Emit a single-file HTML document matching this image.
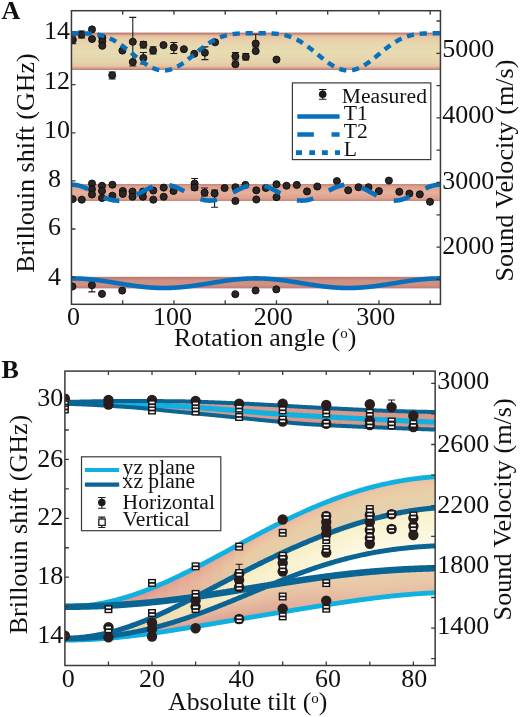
<!DOCTYPE html><html><head><meta charset="utf-8"><title>Brillouin figure</title>
<style>html,body{margin:0;padding:0;background:#fff;overflow:hidden}svg{display:block}text{font-family:"Liberation Serif","Times New Roman",serif;fill:#111}</style></head><body>
<svg width="520" height="717" viewBox="0 0 520 717">
<defs>
<linearGradient id="gAtop" x1="0" y1="0" x2="0" y2="1"><stop offset="0" stop-color="#b06e64"/><stop offset="0.04" stop-color="#c8907e"/><stop offset="0.09" stop-color="#e8c2a0"/><stop offset="0.25" stop-color="#e8d4ac"/><stop offset="0.5" stop-color="#e6dcb2"/><stop offset="0.78" stop-color="#e6d4ac"/><stop offset="0.9" stop-color="#e6c4a2"/><stop offset="0.96" stop-color="#cc9a8a"/><stop offset="1" stop-color="#b87a70"/></linearGradient>
<linearGradient id="gAmid" x1="0" y1="0" x2="0" y2="1"><stop offset="0" stop-color="#c88478"/><stop offset="0.15" stop-color="#dca08e"/><stop offset="0.5" stop-color="#e6b29c"/><stop offset="0.85" stop-color="#dca08e"/><stop offset="1" stop-color="#c88478"/></linearGradient>
<linearGradient id="gAbot" x1="0" y1="0" x2="0" y2="1"><stop offset="0" stop-color="#b8766c"/><stop offset="0.3" stop-color="#cf9082"/><stop offset="0.7" stop-color="#d09284"/><stop offset="1" stop-color="#bc7c72"/></linearGradient>
<linearGradient id="gB1" x1="0" y1="0" x2="0" y2="1"><stop offset="0" stop-color="#e6b496"/><stop offset="0.25" stop-color="#e4c0a0"/><stop offset="0.6" stop-color="#e6d0b0"/><stop offset="1" stop-color="#f4ecd4"/></linearGradient>
<linearGradient id="gB2" x1="0" y1="0" x2="0" y2="1"><stop offset="0" stop-color="#f8f0c6"/><stop offset="0.3" stop-color="#fbf6dc"/><stop offset="0.5" stop-color="#fdfcf2"/><stop offset="0.66" stop-color="#f2e6d0"/><stop offset="0.8" stop-color="#e6cfae"/><stop offset="1" stop-color="#dcae98"/></linearGradient>
<clipPath id="cA"><rect x="71.45" y="10.7" width="369" height="293.6"/></clipPath>
<clipPath id="cB"><rect x="64.9" y="371.1" width="370.25" height="294.4"/></clipPath>
</defs>
<g clip-path="url(#cA)">
<rect x="71.45" y="32.6" width="369" height="37.4" fill="url(#gAtop)"/>
<rect x="71.45" y="184.0" width="369" height="17.0" fill="url(#gAmid)"/>
<rect x="71.45" y="276.8" width="369" height="11.6" fill="url(#gAbot)"/>
<path d="M132.8,17.4V66M129.3,17.4h7M129.3,66h7" stroke="#1f1a1a" stroke-width="1.1" fill="none"/>
<path d="M112.2,72V79M108.7,72h7M108.7,79h7" stroke="#1f1a1a" stroke-width="1.1" fill="none"/>
<path d="M143.4,52.5V64M139.9,52.5h7M139.9,64h7" stroke="#1f1a1a" stroke-width="1.1" fill="none"/>
<path d="M173.8,42.5V53.5M170.3,42.5h7M170.3,53.5h7" stroke="#1f1a1a" stroke-width="1.1" fill="none"/>
<path d="M204.9,46.9V59.6M201.4,46.9h7M201.4,59.6h7" stroke="#1f1a1a" stroke-width="1.1" fill="none"/>
<path d="M235.4,52.5V60M231.9,52.5h7M231.9,60h7" stroke="#1f1a1a" stroke-width="1.1" fill="none"/>
<path d="M245.8,53.5V60M242.3,53.5h7M242.3,60h7" stroke="#1f1a1a" stroke-width="1.1" fill="none"/>
<path d="M255.7,34.2V47M252.2,34.2h7M252.2,47h7" stroke="#1f1a1a" stroke-width="1.1" fill="none"/>
<path d="M81.6,31V38M78.1,31h7M78.1,38h7" stroke="#1f1a1a" stroke-width="1.1" fill="none"/>
<path d="M194.6,178.5V190M191.1,178.5h7M191.1,190h7" stroke="#1f1a1a" stroke-width="1.1" fill="none"/>
<path d="M204.6,188V196M201.1,188h7M201.1,196h7" stroke="#1f1a1a" stroke-width="1.1" fill="none"/>
<path d="M214.6,190V207.2M211.1,190h7M211.1,207.2h7" stroke="#1f1a1a" stroke-width="1.1" fill="none"/>
<path d="M91.9,281V291.9M88.4,281h7M88.4,291.9h7" stroke="#1f1a1a" stroke-width="1.1" fill="none"/>
<path d="M143.4,41.5V48M139.9,41.5h7M139.9,48h7" stroke="#1f1a1a" stroke-width="1.1" fill="none"/>
<path d="M72.8,35.8V43.8M69.3,35.8h7M69.3,43.8h7" stroke="#1f1a1a" stroke-width="1.1" fill="none"/>
<path d="M153.1,46.8V54M149.6,46.8h7M149.6,54h7" stroke="#1f1a1a" stroke-width="1.1" fill="none"/>
<circle cx="72.8" cy="39.8" r="3.55" fill="#2a2626" stroke="#0c0a0a" stroke-width="0.9"/>
<circle cx="81.6" cy="34.6" r="3.55" fill="#2a2626" stroke="#0c0a0a" stroke-width="0.9"/>
<circle cx="92" cy="29.4" r="3.55" fill="#2a2626" stroke="#0c0a0a" stroke-width="0.9"/>
<circle cx="92" cy="39" r="3.55" fill="#2a2626" stroke="#0c0a0a" stroke-width="0.9"/>
<circle cx="102.3" cy="37.5" r="3.55" fill="#2a2626" stroke="#0c0a0a" stroke-width="0.9"/>
<circle cx="102.3" cy="41.5" r="3.55" fill="#2a2626" stroke="#0c0a0a" stroke-width="0.9"/>
<circle cx="102.3" cy="45.8" r="3.55" fill="#2a2626" stroke="#0c0a0a" stroke-width="0.9"/>
<circle cx="112.2" cy="75.3" r="3.55" fill="#2a2626" stroke="#0c0a0a" stroke-width="0.9"/>
<circle cx="122.4" cy="50.6" r="3.55" fill="#2a2626" stroke="#0c0a0a" stroke-width="0.9"/>
<circle cx="132.8" cy="41.8" r="3.55" fill="#2a2626" stroke="#0c0a0a" stroke-width="0.9"/>
<circle cx="132.8" cy="62" r="3.55" fill="#2a2626" stroke="#0c0a0a" stroke-width="0.9"/>
<circle cx="143.4" cy="44.6" r="3.55" fill="#2a2626" stroke="#0c0a0a" stroke-width="0.9"/>
<circle cx="143.4" cy="58" r="3.55" fill="#2a2626" stroke="#0c0a0a" stroke-width="0.9"/>
<circle cx="153.1" cy="50.4" r="3.55" fill="#2a2626" stroke="#0c0a0a" stroke-width="0.9"/>
<circle cx="163.5" cy="45.1" r="3.55" fill="#2a2626" stroke="#0c0a0a" stroke-width="0.9"/>
<circle cx="173.8" cy="47.4" r="3.55" fill="#2a2626" stroke="#0c0a0a" stroke-width="0.9"/>
<circle cx="183.9" cy="49.2" r="3.55" fill="#2a2626" stroke="#0c0a0a" stroke-width="0.9"/>
<circle cx="194.3" cy="53.8" r="3.55" fill="#2a2626" stroke="#0c0a0a" stroke-width="0.9"/>
<circle cx="204.9" cy="52.7" r="3.55" fill="#2a2626" stroke="#0c0a0a" stroke-width="0.9"/>
<circle cx="215.1" cy="42.3" r="3.55" fill="#2a2626" stroke="#0c0a0a" stroke-width="0.9"/>
<circle cx="235.4" cy="56.2" r="3.55" fill="#2a2626" stroke="#0c0a0a" stroke-width="0.9"/>
<circle cx="235.4" cy="64.2" r="3.55" fill="#2a2626" stroke="#0c0a0a" stroke-width="0.9"/>
<circle cx="245.8" cy="56.8" r="3.55" fill="#2a2626" stroke="#0c0a0a" stroke-width="0.9"/>
<circle cx="255.7" cy="43.5" r="3.55" fill="#2a2626" stroke="#0c0a0a" stroke-width="0.9"/>
<circle cx="255.7" cy="51.1" r="3.55" fill="#2a2626" stroke="#0c0a0a" stroke-width="0.9"/>
<circle cx="276.5" cy="59.6" r="3.55" fill="#2a2626" stroke="#0c0a0a" stroke-width="0.9"/>
<circle cx="72.6" cy="199.1" r="3.55" fill="#2a2626" stroke="#0c0a0a" stroke-width="0.9"/>
<circle cx="81.8" cy="199.7" r="3.55" fill="#2a2626" stroke="#0c0a0a" stroke-width="0.9"/>
<circle cx="92" cy="183.5" r="3.55" fill="#2a2626" stroke="#0c0a0a" stroke-width="0.9"/>
<circle cx="92" cy="189.3" r="3.55" fill="#2a2626" stroke="#0c0a0a" stroke-width="0.9"/>
<circle cx="92" cy="194.5" r="3.55" fill="#2a2626" stroke="#0c0a0a" stroke-width="0.9"/>
<circle cx="102" cy="185.8" r="3.55" fill="#2a2626" stroke="#0c0a0a" stroke-width="0.9"/>
<circle cx="102" cy="191" r="3.55" fill="#2a2626" stroke="#0c0a0a" stroke-width="0.9"/>
<circle cx="102" cy="198" r="3.55" fill="#2a2626" stroke="#0c0a0a" stroke-width="0.9"/>
<circle cx="112.4" cy="184.7" r="3.55" fill="#2a2626" stroke="#0c0a0a" stroke-width="0.9"/>
<circle cx="112.4" cy="195.7" r="3.55" fill="#2a2626" stroke="#0c0a0a" stroke-width="0.9"/>
<circle cx="122.8" cy="191" r="3.55" fill="#2a2626" stroke="#0c0a0a" stroke-width="0.9"/>
<circle cx="122.8" cy="193.9" r="3.55" fill="#2a2626" stroke="#0c0a0a" stroke-width="0.9"/>
<circle cx="132.5" cy="191.6" r="3.55" fill="#2a2626" stroke="#0c0a0a" stroke-width="0.9"/>
<circle cx="132.5" cy="196.8" r="3.55" fill="#2a2626" stroke="#0c0a0a" stroke-width="0.9"/>
<circle cx="142.9" cy="191.6" r="3.55" fill="#2a2626" stroke="#0c0a0a" stroke-width="0.9"/>
<circle cx="142.9" cy="196.8" r="3.55" fill="#2a2626" stroke="#0c0a0a" stroke-width="0.9"/>
<circle cx="153.3" cy="190.5" r="3.55" fill="#2a2626" stroke="#0c0a0a" stroke-width="0.9"/>
<circle cx="153.3" cy="199.7" r="3.55" fill="#2a2626" stroke="#0c0a0a" stroke-width="0.9"/>
<circle cx="163.7" cy="187.6" r="3.55" fill="#2a2626" stroke="#0c0a0a" stroke-width="0.9"/>
<circle cx="163.7" cy="196.8" r="3.55" fill="#2a2626" stroke="#0c0a0a" stroke-width="0.9"/>
<circle cx="173.5" cy="191" r="3.55" fill="#2a2626" stroke="#0c0a0a" stroke-width="0.9"/>
<circle cx="194.6" cy="183.5" r="3.55" fill="#2a2626" stroke="#0c0a0a" stroke-width="0.9"/>
<circle cx="194.6" cy="187.5" r="3.55" fill="#2a2626" stroke="#0c0a0a" stroke-width="0.9"/>
<circle cx="204.6" cy="192.6" r="3.55" fill="#2a2626" stroke="#0c0a0a" stroke-width="0.9"/>
<circle cx="214.6" cy="193.4" r="3.55" fill="#2a2626" stroke="#0c0a0a" stroke-width="0.9"/>
<circle cx="224.6" cy="188" r="3.55" fill="#2a2626" stroke="#0c0a0a" stroke-width="0.9"/>
<circle cx="235.4" cy="187.2" r="3.55" fill="#2a2626" stroke="#0c0a0a" stroke-width="0.9"/>
<circle cx="235.4" cy="201" r="3.55" fill="#2a2626" stroke="#0c0a0a" stroke-width="0.9"/>
<circle cx="245.4" cy="184.9" r="3.55" fill="#2a2626" stroke="#0c0a0a" stroke-width="0.9"/>
<circle cx="256.3" cy="190.3" r="3.55" fill="#2a2626" stroke="#0c0a0a" stroke-width="0.9"/>
<circle cx="256.3" cy="199.5" r="3.55" fill="#2a2626" stroke="#0c0a0a" stroke-width="0.9"/>
<circle cx="265.8" cy="188" r="3.55" fill="#2a2626" stroke="#0c0a0a" stroke-width="0.9"/>
<circle cx="276.5" cy="184.2" r="3.55" fill="#2a2626" stroke="#0c0a0a" stroke-width="0.9"/>
<circle cx="276.5" cy="197.2" r="3.55" fill="#2a2626" stroke="#0c0a0a" stroke-width="0.9"/>
<circle cx="286.5" cy="185.7" r="3.55" fill="#2a2626" stroke="#0c0a0a" stroke-width="0.9"/>
<circle cx="296.8" cy="184.9" r="3.55" fill="#2a2626" stroke="#0c0a0a" stroke-width="0.9"/>
<circle cx="307" cy="191.4" r="3.55" fill="#2a2626" stroke="#0c0a0a" stroke-width="0.9"/>
<circle cx="317.3" cy="186.5" r="3.55" fill="#2a2626" stroke="#0c0a0a" stroke-width="0.9"/>
<circle cx="336.9" cy="181.1" r="3.55" fill="#2a2626" stroke="#0c0a0a" stroke-width="0.9"/>
<circle cx="348.2" cy="190.3" r="3.55" fill="#2a2626" stroke="#0c0a0a" stroke-width="0.9"/>
<circle cx="358.5" cy="187.2" r="3.55" fill="#2a2626" stroke="#0c0a0a" stroke-width="0.9"/>
<circle cx="368.5" cy="187.2" r="3.55" fill="#2a2626" stroke="#0c0a0a" stroke-width="0.9"/>
<circle cx="378.9" cy="191.1" r="3.55" fill="#2a2626" stroke="#0c0a0a" stroke-width="0.9"/>
<circle cx="388.9" cy="180.6" r="3.55" fill="#2a2626" stroke="#0c0a0a" stroke-width="0.9"/>
<circle cx="399.3" cy="191.8" r="3.55" fill="#2a2626" stroke="#0c0a0a" stroke-width="0.9"/>
<circle cx="409.4" cy="193.6" r="3.55" fill="#2a2626" stroke="#0c0a0a" stroke-width="0.9"/>
<circle cx="419.8" cy="194.3" r="3.55" fill="#2a2626" stroke="#0c0a0a" stroke-width="0.9"/>
<circle cx="430" cy="201.8" r="3.55" fill="#2a2626" stroke="#0c0a0a" stroke-width="0.9"/>
<circle cx="72.4" cy="286.5" r="3.55" fill="#2a2626" stroke="#0c0a0a" stroke-width="0.9"/>
<circle cx="91.9" cy="285.2" r="3.55" fill="#2a2626" stroke="#0c0a0a" stroke-width="0.9"/>
<circle cx="102" cy="293.9" r="3.55" fill="#2a2626" stroke="#0c0a0a" stroke-width="0.9"/>
<circle cx="122.2" cy="290.6" r="3.55" fill="#2a2626" stroke="#0c0a0a" stroke-width="0.9"/>
<circle cx="235.3" cy="294.2" r="3.55" fill="#2a2626" stroke="#0c0a0a" stroke-width="0.9"/>
<circle cx="255.6" cy="290.5" r="3.55" fill="#2a2626" stroke="#0c0a0a" stroke-width="0.9"/>
<circle cx="276.3" cy="289.4" r="3.55" fill="#2a2626" stroke="#0c0a0a" stroke-width="0.9"/>
<path d="M71.45,33.30 L71.71,33.30 L71.96,33.30 L72.22,33.30 L72.48,33.30 L72.73,33.30 L72.99,33.30 L73.24,33.30 L73.50,33.30 L73.76,33.30 L74.01,33.30 L74.27,33.30 L74.53,33.30 L74.78,33.30 L75.04,33.30 L75.29,33.30 L75.55,33.30 L75.81,33.30 L76.06,33.30 L76.32,33.30 L76.58,33.30 L76.83,33.30 L77.09,33.30 L77.34,33.30 L77.60,33.30 L77.86,33.31 L78.11,33.31 L78.37,33.31 L78.62,33.31 L78.88,33.31 L79.14,33.31 L79.39,33.31 L79.65,33.31 L79.91,33.32 L80.16,33.32 L80.42,33.32 L80.67,33.32 L80.93,33.32 L81.19,33.33 L81.44,33.33 L81.70,33.33 L81.96,33.34 L82.21,33.34 L82.47,33.35 L82.73,33.35 L82.98,33.35 L83.24,33.36 L83.49,33.36 L83.75,33.37 L84.01,33.38 L84.26,33.38 L84.52,33.39 L84.78,33.40 L85.03,33.40 L85.29,33.41 L85.54,33.42 L85.80,33.43 L86.06,33.44 L86.31,33.45 L86.57,33.46 L86.83,33.47 L87.08,33.48 L87.34,33.49 L87.59,33.50 L87.85,33.51 L88.11,33.53 L88.36,33.54 L88.62,33.56 L88.88,33.57 L89.13,33.59 L89.39,33.60 L89.64,33.62 L89.90,33.64 L90.16,33.66 L90.41,33.68 L90.67,33.70 L90.93,33.72 L91.18,33.74 L91.44,33.76 L91.69,33.79 L91.95,33.81 L92.21,33.83 L92.46,33.86 L92.72,33.89 L92.97,33.91 L93.23,33.94 L93.49,33.97 L93.74,34.00 L94.00,34.03 L94.26,34.06 L94.51,34.10 L94.77,34.13 L95.03,34.17 L95.28,34.20 L95.54,34.24 L95.79,34.28 L96.05,34.32 L96.31,34.36 L96.56,34.40 L96.82,34.44 L97.08,34.49 L97.33,34.53 L97.59,34.58 L97.84,34.63 L98.10,34.67 L98.36,34.72 L98.61,34.77 L98.87,34.83 L99.12,34.88 L99.38,34.94 L99.64,34.99 L99.89,35.05 L100.15,35.11 L100.41,35.17 L100.66,35.23 L100.92,35.29 L101.18,35.36 L101.43,35.42 L101.69,35.49 L101.94,35.56 L102.20,35.62 L102.46,35.70 L102.71,35.77 L102.97,35.84 L103.22,35.92 L103.48,35.99 L103.74,36.07 L103.99,36.15 L104.25,36.23 L104.51,36.32 L104.76,36.40 L105.02,36.49 L105.28,36.57 L105.53,36.66 L105.79,36.75 L106.04,36.84 L106.30,36.94 L106.56,37.03 L106.81,37.13 L107.07,37.23 L107.33,37.33 L107.58,37.43 L107.84,37.53 L108.09,37.63 L108.35,37.74 L108.61,37.85 L108.86,37.96 L109.12,38.07 L109.38,38.18 L109.63,38.29 L109.89,38.41 L110.14,38.53 L110.40,38.64 L110.66,38.76 L110.91,38.89 L111.17,39.01 L111.43,39.13 L111.68,39.26 L111.94,39.39 L112.19,39.52 L112.45,39.65 L112.71,39.78 L112.96,39.92 L113.22,40.05 L113.47,40.19 L113.73,40.33 L113.99,40.47 L114.24,40.61 L114.50,40.76 L114.76,40.90 L115.01,41.05 L115.27,41.20 L115.53,41.35 L115.78,41.50 L116.04,41.65 L116.29,41.81 L116.55,41.96 L116.81,42.12 L117.06,42.28 L117.32,42.44 L117.58,42.60 L117.83,42.76 L118.09,42.93 L118.34,43.09 L118.60,43.26 L118.86,43.43 L119.11,43.60 L119.37,43.77 L119.62,43.94 L119.88,44.12 L120.14,44.29 L120.39,44.47 L120.65,44.65 L120.91,44.82 L121.16,45.00 L121.42,45.19 L121.68,45.37 L121.93,45.55 L122.19,45.74 L122.44,45.92 L122.70,46.11 L122.96,46.30 L123.21,46.49 L123.47,46.68 L123.72,46.87 L123.98,47.06 L124.24,47.25 L124.49,47.45 L124.75,47.64 L125.01,47.84 L125.26,48.04 L125.52,48.23 L125.78,48.43 L126.03,48.63 L126.29,48.83 L126.54,49.03 L126.80,49.24 L127.06,49.44 L127.31,49.64 L127.57,49.85 L127.83,50.05 L128.08,50.25 L128.34,50.46 L128.59,50.67 L128.85,50.87 L129.11,51.08 L129.36,51.29 L129.62,51.50 L129.88,51.70 L130.13,51.91 L130.39,52.12 L130.64,52.33 L130.90,52.54 L131.16,52.75 L131.41,52.96 L131.67,53.17 L131.93,53.38 L132.18,53.59 L132.44,53.80 L132.69,54.01 L132.95,54.22 L133.21,54.44 L133.46,54.65 L133.72,54.86 L133.97,55.07 L134.23,55.28 L134.49,55.49 L134.74,55.70 L135.00,55.91 L135.26,56.12 L135.51,56.33 L135.77,56.54 L136.03,56.75 L136.28,56.95 L136.54,57.16 L136.79,57.37 L137.05,57.58 L137.31,57.78 L137.56,57.99 L137.82,58.19 L138.07,58.40 L138.33,58.60 L138.59,58.81 L138.84,59.01 L139.10,59.21 L139.36,59.41 L139.61,59.61 L139.87,59.81 L140.12,60.01 L140.38,60.21 L140.64,60.40 L140.89,60.60 L141.15,60.79 L141.41,60.99 L141.66,61.18 L141.92,61.37 L142.18,61.56 L142.43,61.75 L142.69,61.93 L142.94,62.12 L143.20,62.31 L143.46,62.49 L143.71,62.67 L143.97,62.85 L144.23,63.03 L144.48,63.21 L144.74,63.39 L144.99,63.56 L145.25,63.73 L145.51,63.91 L145.76,64.08 L146.02,64.25 L146.28,64.41 L146.53,64.58 L146.79,64.74 L147.04,64.90 L147.30,65.06 L147.56,65.22 L147.81,65.38 L148.07,65.53 L148.32,65.68 L148.58,65.83 L148.84,65.98 L149.09,66.13 L149.35,66.27 L149.61,66.42 L149.86,66.56 L150.12,66.69 L150.38,66.83 L150.63,66.96 L150.89,67.10 L151.14,67.23 L151.40,67.35 L151.66,67.48 L151.91,67.60 L152.17,67.72 L152.43,67.84 L152.68,67.96 L152.94,68.07 L153.19,68.18 L153.45,68.29 L153.71,68.40 L153.96,68.50 L154.22,68.60 L154.48,68.70 L154.73,68.80 L154.99,68.89 L155.24,68.98 L155.50,69.07 L155.76,69.16 L156.01,69.24 L156.27,69.32 L156.53,69.40 L156.78,69.48 L157.04,69.55 L157.29,69.62 L157.55,69.69 L157.81,69.76 L158.06,69.82 L158.32,69.88 L158.57,69.94 L158.83,69.99 L159.09,70.04 L159.34,70.09 L159.60,70.14 L159.86,70.18 L160.11,70.22 L160.37,70.26 L160.62,70.30 L160.88,70.33 L161.14,70.36 L161.39,70.39 L161.65,70.41 L161.91,70.43 L162.16,70.45 L162.42,70.46 L162.68,70.48 L162.93,70.49 L163.19,70.49 L163.44,70.50 L163.70,70.50 L163.96,70.50 L164.21,70.49 L164.47,70.49 L164.73,70.48 L164.98,70.46 L165.24,70.45 L165.49,70.43 L165.75,70.41 L166.01,70.39 L166.26,70.36 L166.52,70.33 L166.78,70.30 L167.03,70.26 L167.29,70.22 L167.54,70.18 L167.80,70.14 L168.06,70.09 L168.31,70.04 L168.57,69.99 L168.82,69.94 L169.08,69.88 L169.34,69.82 L169.59,69.76 L169.85,69.69 L170.11,69.62 L170.36,69.55 L170.62,69.48 L170.88,69.40 L171.13,69.32 L171.39,69.24 L171.64,69.16 L171.90,69.07 L172.16,68.98 L172.41,68.89 L172.67,68.80 L172.93,68.70 L173.18,68.60 L173.44,68.50 L173.69,68.40 L173.95,68.29 L174.21,68.18 L174.46,68.07 L174.72,67.96 L174.98,67.84 L175.23,67.72 L175.49,67.60 L175.74,67.48 L176.00,67.35 L176.26,67.23 L176.51,67.10 L176.77,66.96 L177.03,66.83 L177.28,66.69 L177.54,66.56 L177.79,66.42 L178.05,66.27 L178.31,66.13 L178.56,65.98 L178.82,65.83 L179.07,65.68 L179.33,65.53 L179.59,65.38 L179.84,65.22 L180.10,65.06 L180.36,64.90 L180.61,64.74 L180.87,64.58 L181.12,64.41 L181.38,64.25 L181.64,64.08 L181.89,63.91 L182.15,63.73 L182.41,63.56 L182.66,63.39 L182.92,63.21 L183.18,63.03 L183.43,62.85 L183.69,62.67 L183.94,62.49 L184.20,62.31 L184.46,62.12 L184.71,61.93 L184.97,61.75 L185.23,61.56 L185.48,61.37 L185.74,61.18 L185.99,60.99 L186.25,60.79 L186.51,60.60 L186.76,60.40 L187.02,60.21 L187.28,60.01 L187.53,59.81 L187.79,59.61 L188.04,59.41 L188.30,59.21 L188.56,59.01 L188.81,58.81 L189.07,58.60 L189.32,58.40 L189.58,58.19 L189.84,57.99 L190.09,57.78 L190.35,57.58 L190.61,57.37 L190.86,57.16 L191.12,56.95 L191.38,56.75 L191.63,56.54 L191.89,56.33 L192.14,56.12 L192.40,55.91 L192.66,55.70 L192.91,55.49 L193.17,55.28 L193.43,55.07 L193.68,54.86 L193.94,54.65 L194.19,54.44 L194.45,54.23 L194.71,54.01 L194.96,53.80 L195.22,53.59 L195.48,53.38 L195.73,53.17 L195.99,52.96 L196.24,52.75 L196.50,52.54 L196.76,52.33 L197.01,52.12 L197.27,51.91 L197.53,51.70 L197.78,51.50 L198.04,51.29 L198.29,51.08 L198.55,50.87 L198.81,50.67 L199.06,50.46 L199.32,50.25 L199.57,50.05 L199.83,49.85 L200.09,49.64 L200.34,49.44 L200.60,49.24 L200.86,49.03 L201.11,48.83 L201.37,48.63 L201.62,48.43 L201.88,48.23 L202.14,48.04 L202.39,47.84 L202.65,47.64 L202.91,47.45 L203.16,47.25 L203.42,47.06 L203.68,46.87 L203.93,46.68 L204.19,46.49 L204.44,46.30 L204.70,46.11 L204.96,45.92 L205.21,45.74 L205.47,45.55 L205.73,45.37 L205.98,45.19 L206.24,45.00 L206.49,44.82 L206.75,44.65 L207.01,44.47 L207.26,44.29 L207.52,44.12 L207.77,43.94 L208.03,43.77 L208.29,43.60 L208.54,43.43 L208.80,43.26 L209.06,43.09 L209.31,42.93 L209.57,42.76 L209.82,42.60 L210.08,42.44 L210.34,42.28 L210.59,42.12 L210.85,41.96 L211.11,41.81 L211.36,41.65 L211.62,41.50 L211.88,41.35 L212.13,41.20 L212.39,41.05 L212.64,40.90 L212.90,40.76 L213.16,40.61 L213.41,40.47 L213.67,40.33 L213.93,40.19 L214.18,40.05 L214.44,39.92 L214.69,39.78 L214.95,39.65 L215.21,39.52 L215.46,39.39 L215.72,39.26 L215.98,39.13 L216.23,39.01 L216.49,38.89 L216.74,38.76 L217.00,38.64 L217.26,38.53 L217.51,38.41 L217.77,38.29 L218.02,38.18 L218.28,38.07 L218.54,37.96 L218.79,37.85 L219.05,37.74 L219.31,37.63 L219.56,37.53 L219.82,37.43 L220.07,37.33 L220.33,37.23 L220.59,37.13 L220.84,37.03 L221.10,36.94 L221.36,36.84 L221.61,36.75 L221.87,36.66 L222.12,36.57 L222.38,36.49 L222.64,36.40 L222.89,36.32 L223.15,36.23 L223.41,36.15 L223.66,36.07 L223.92,35.99 L224.18,35.92 L224.43,35.84 L224.69,35.77 L224.94,35.70 L225.20,35.62 L225.46,35.56 L225.71,35.49 L225.97,35.42 L226.23,35.36 L226.48,35.29 L226.74,35.23 L226.99,35.17 L227.25,35.11 L227.51,35.05 L227.76,34.99 L228.02,34.94 L228.27,34.88 L228.53,34.83 L228.79,34.77 L229.04,34.72 L229.30,34.67 L229.56,34.63 L229.81,34.58 L230.07,34.53 L230.32,34.49 L230.58,34.44 L230.84,34.40 L231.09,34.36 L231.35,34.32 L231.61,34.28 L231.86,34.24 L232.12,34.20 L232.38,34.17 L232.63,34.13 L232.89,34.10 L233.14,34.06 L233.40,34.03 L233.66,34.00 L233.91,33.97 L234.17,33.94 L234.43,33.91 L234.68,33.89 L234.94,33.86 L235.19,33.83 L235.45,33.81 L235.71,33.79 L235.96,33.76 L236.22,33.74 L236.48,33.72 L236.73,33.70 L236.99,33.68 L237.24,33.66 L237.50,33.64 L237.76,33.62 L238.01,33.60 L238.27,33.59 L238.52,33.57 L238.78,33.56 L239.04,33.54 L239.29,33.53 L239.55,33.51 L239.81,33.50 L240.06,33.49 L240.32,33.48 L240.57,33.47 L240.83,33.46 L241.09,33.45 L241.34,33.44 L241.60,33.43 L241.86,33.42 L242.11,33.41 L242.37,33.40 L242.62,33.40 L242.88,33.39 L243.14,33.38 L243.39,33.38 L243.65,33.37 L243.91,33.36 L244.16,33.36 L244.42,33.35 L244.68,33.35 L244.93,33.35 L245.19,33.34 L245.44,33.34 L245.70,33.33 L245.96,33.33 L246.21,33.33 L246.47,33.32 L246.73,33.32 L246.98,33.32 L247.24,33.32 L247.49,33.32 L247.75,33.31 L248.01,33.31 L248.26,33.31 L248.52,33.31 L248.77,33.31 L249.03,33.31 L249.29,33.31 L249.54,33.31 L249.80,33.30 L250.06,33.30 L250.31,33.30 L250.57,33.30 L250.82,33.30 L251.08,33.30 L251.34,33.30 L251.59,33.30 L251.85,33.30 L252.11,33.30 L252.36,33.30 L252.62,33.30 L252.88,33.30 L253.13,33.30 L253.39,33.30 L253.64,33.30 L253.90,33.30 L254.16,33.30 L254.41,33.30 L254.67,33.30 L254.93,33.30 L255.18,33.30 L255.44,33.30 L255.69,33.30 L255.95,33.30 L256.21,33.30 L256.46,33.30 L256.72,33.30 L256.98,33.30 L257.23,33.30 L257.49,33.30 L257.74,33.30 L258.00,33.30 L258.26,33.30 L258.51,33.30 L258.77,33.30 L259.02,33.30 L259.28,33.30 L259.54,33.30 L259.79,33.30 L260.05,33.30 L260.31,33.30 L260.56,33.30 L260.82,33.30 L261.07,33.30 L261.33,33.30 L261.59,33.30 L261.84,33.30 L262.10,33.30 L262.36,33.31 L262.61,33.31 L262.87,33.31 L263.12,33.31 L263.38,33.31 L263.64,33.31 L263.89,33.31 L264.15,33.31 L264.41,33.32 L264.66,33.32 L264.92,33.32 L265.18,33.32 L265.43,33.32 L265.69,33.33 L265.94,33.33 L266.20,33.33 L266.46,33.34 L266.71,33.34 L266.97,33.35 L267.23,33.35 L267.48,33.35 L267.74,33.36 L267.99,33.36 L268.25,33.37 L268.51,33.38 L268.76,33.38 L269.02,33.39 L269.27,33.40 L269.53,33.40 L269.79,33.41 L270.04,33.42 L270.30,33.43 L270.56,33.44 L270.81,33.45 L271.07,33.46 L271.32,33.47 L271.58,33.48 L271.84,33.49 L272.09,33.50 L272.35,33.51 L272.61,33.53 L272.86,33.54 L273.12,33.56 L273.38,33.57 L273.63,33.59 L273.89,33.60 L274.14,33.62 L274.40,33.64 L274.66,33.66 L274.91,33.68 L275.17,33.70 L275.43,33.72 L275.68,33.74 L275.94,33.76 L276.19,33.79 L276.45,33.81 L276.71,33.83 L276.96,33.86 L277.22,33.89 L277.48,33.91 L277.73,33.94 L277.99,33.97 L278.24,34.00 L278.50,34.03 L278.76,34.06 L279.01,34.10 L279.27,34.13 L279.52,34.17 L279.78,34.20 L280.04,34.24 L280.29,34.28 L280.55,34.32 L280.81,34.36 L281.06,34.40 L281.32,34.44 L281.57,34.49 L281.83,34.53 L282.09,34.58 L282.34,34.63 L282.60,34.67 L282.86,34.72 L283.11,34.77 L283.37,34.83 L283.62,34.88 L283.88,34.94 L284.14,34.99 L284.39,35.05 L284.65,35.11 L284.91,35.17 L285.16,35.23 L285.42,35.29 L285.68,35.36 L285.93,35.42 L286.19,35.49 L286.44,35.56 L286.70,35.62 L286.96,35.70 L287.21,35.77 L287.47,35.84 L287.73,35.92 L287.98,35.99 L288.24,36.07 L288.49,36.15 L288.75,36.23 L289.01,36.32 L289.26,36.40 L289.52,36.49 L289.77,36.57 L290.03,36.66 L290.29,36.75 L290.54,36.84 L290.80,36.94 L291.06,37.03 L291.31,37.13 L291.57,37.23 L291.82,37.33 L292.08,37.43 L292.34,37.53 L292.59,37.63 L292.85,37.74 L293.11,37.85 L293.36,37.96 L293.62,38.07 L293.88,38.18 L294.13,38.29 L294.39,38.41 L294.64,38.53 L294.90,38.64 L295.16,38.76 L295.41,38.89 L295.67,39.01 L295.93,39.13 L296.18,39.26 L296.44,39.39 L296.69,39.52 L296.95,39.65 L297.21,39.78 L297.46,39.92 L297.72,40.05 L297.98,40.19 L298.23,40.33 L298.49,40.47 L298.74,40.61 L299.00,40.76 L299.26,40.90 L299.51,41.05 L299.77,41.20 L300.02,41.35 L300.28,41.50 L300.54,41.65 L300.79,41.81 L301.05,41.96 L301.31,42.12 L301.56,42.28 L301.82,42.44 L302.07,42.60 L302.33,42.76 L302.59,42.93 L302.84,43.09 L303.10,43.26 L303.36,43.43 L303.61,43.60 L303.87,43.77 L304.12,43.94 L304.38,44.12 L304.64,44.29 L304.89,44.47 L305.15,44.65 L305.41,44.82 L305.66,45.00 L305.92,45.19 L306.18,45.37 L306.43,45.55 L306.69,45.74 L306.94,45.92 L307.20,46.11 L307.46,46.30 L307.71,46.49 L307.97,46.68 L308.23,46.87 L308.48,47.06 L308.74,47.25 L308.99,47.45 L309.25,47.64 L309.51,47.84 L309.76,48.04 L310.02,48.23 L310.27,48.43 L310.53,48.63 L310.79,48.83 L311.04,49.03 L311.30,49.24 L311.56,49.44 L311.81,49.64 L312.07,49.85 L312.32,50.05 L312.58,50.25 L312.84,50.46 L313.09,50.67 L313.35,50.87 L313.61,51.08 L313.86,51.29 L314.12,51.50 L314.38,51.70 L314.63,51.91 L314.89,52.12 L315.14,52.33 L315.40,52.54 L315.66,52.75 L315.91,52.96 L316.17,53.17 L316.43,53.38 L316.68,53.59 L316.94,53.80 L317.19,54.01 L317.45,54.22 L317.71,54.44 L317.96,54.65 L318.22,54.86 L318.48,55.07 L318.73,55.28 L318.99,55.49 L319.24,55.70 L319.50,55.91 L319.76,56.12 L320.01,56.33 L320.27,56.54 L320.52,56.75 L320.78,56.95 L321.04,57.16 L321.29,57.37 L321.55,57.58 L321.81,57.78 L322.06,57.99 L322.32,58.19 L322.57,58.40 L322.83,58.60 L323.09,58.81 L323.34,59.01 L323.60,59.21 L323.86,59.41 L324.11,59.61 L324.37,59.81 L324.62,60.01 L324.88,60.21 L325.14,60.40 L325.39,60.60 L325.65,60.79 L325.91,60.99 L326.16,61.18 L326.42,61.37 L326.68,61.56 L326.93,61.75 L327.19,61.93 L327.44,62.12 L327.70,62.31 L327.96,62.49 L328.21,62.67 L328.47,62.85 L328.72,63.03 L328.98,63.21 L329.24,63.39 L329.49,63.56 L329.75,63.73 L330.01,63.91 L330.26,64.08 L330.52,64.25 L330.77,64.41 L331.03,64.58 L331.29,64.74 L331.54,64.90 L331.80,65.06 L332.06,65.22 L332.31,65.38 L332.57,65.53 L332.82,65.68 L333.08,65.83 L333.34,65.98 L333.59,66.13 L333.85,66.27 L334.11,66.42 L334.36,66.56 L334.62,66.69 L334.88,66.83 L335.13,66.96 L335.39,67.10 L335.64,67.23 L335.90,67.35 L336.16,67.48 L336.41,67.60 L336.67,67.72 L336.93,67.84 L337.18,67.96 L337.44,68.07 L337.69,68.18 L337.95,68.29 L338.21,68.40 L338.46,68.50 L338.72,68.60 L338.97,68.70 L339.23,68.80 L339.49,68.89 L339.74,68.98 L340.00,69.07 L340.26,69.16 L340.51,69.24 L340.77,69.32 L341.02,69.40 L341.28,69.48 L341.54,69.55 L341.79,69.62 L342.05,69.69 L342.31,69.76 L342.56,69.82 L342.82,69.88 L343.07,69.94 L343.33,69.99 L343.59,70.04 L343.84,70.09 L344.10,70.14 L344.36,70.18 L344.61,70.22 L344.87,70.26 L345.12,70.30 L345.38,70.33 L345.64,70.36 L345.89,70.39 L346.15,70.41 L346.41,70.43 L346.66,70.45 L346.92,70.46 L347.18,70.48 L347.43,70.49 L347.69,70.49 L347.94,70.50 L348.20,70.50 L348.46,70.50 L348.71,70.49 L348.97,70.49 L349.22,70.48 L349.48,70.46 L349.74,70.45 L349.99,70.43 L350.25,70.41 L350.51,70.39 L350.76,70.36 L351.02,70.33 L351.27,70.30 L351.53,70.26 L351.79,70.22 L352.04,70.18 L352.30,70.14 L352.56,70.09 L352.81,70.04 L353.07,69.99 L353.32,69.94 L353.58,69.88 L353.84,69.82 L354.09,69.76 L354.35,69.69 L354.61,69.62 L354.86,69.55 L355.12,69.48 L355.38,69.40 L355.63,69.32 L355.89,69.24 L356.14,69.16 L356.40,69.07 L356.66,68.98 L356.91,68.89 L357.17,68.80 L357.43,68.70 L357.68,68.60 L357.94,68.50 L358.19,68.40 L358.45,68.29 L358.71,68.18 L358.96,68.07 L359.22,67.96 L359.47,67.84 L359.73,67.72 L359.99,67.60 L360.24,67.48 L360.50,67.35 L360.76,67.23 L361.01,67.10 L361.27,66.96 L361.52,66.83 L361.78,66.69 L362.04,66.56 L362.29,66.42 L362.55,66.27 L362.81,66.13 L363.06,65.98 L363.32,65.83 L363.57,65.68 L363.83,65.53 L364.09,65.38 L364.34,65.22 L364.60,65.06 L364.86,64.90 L365.11,64.74 L365.37,64.58 L365.62,64.41 L365.88,64.25 L366.14,64.08 L366.39,63.91 L366.65,63.73 L366.91,63.56 L367.16,63.39 L367.42,63.21 L367.68,63.03 L367.93,62.85 L368.19,62.67 L368.44,62.49 L368.70,62.31 L368.96,62.12 L369.21,61.93 L369.47,61.75 L369.72,61.56 L369.98,61.37 L370.24,61.18 L370.49,60.99 L370.75,60.79 L371.01,60.60 L371.26,60.40 L371.52,60.21 L371.77,60.01 L372.03,59.81 L372.29,59.61 L372.54,59.41 L372.80,59.21 L373.06,59.01 L373.31,58.81 L373.57,58.60 L373.82,58.40 L374.08,58.19 L374.34,57.99 L374.59,57.78 L374.85,57.58 L375.11,57.37 L375.36,57.16 L375.62,56.95 L375.88,56.75 L376.13,56.54 L376.39,56.33 L376.64,56.12 L376.90,55.91 L377.16,55.70 L377.41,55.49 L377.67,55.28 L377.93,55.07 L378.18,54.86 L378.44,54.65 L378.69,54.44 L378.95,54.22 L379.21,54.01 L379.46,53.80 L379.72,53.59 L379.97,53.38 L380.23,53.17 L380.49,52.96 L380.74,52.75 L381.00,52.54 L381.26,52.33 L381.51,52.12 L381.77,51.91 L382.02,51.70 L382.28,51.50 L382.54,51.29 L382.79,51.08 L383.05,50.87 L383.31,50.67 L383.56,50.46 L383.82,50.25 L384.07,50.05 L384.33,49.85 L384.59,49.64 L384.84,49.44 L385.10,49.24 L385.36,49.03 L385.61,48.83 L385.87,48.63 L386.12,48.43 L386.38,48.23 L386.64,48.04 L386.89,47.84 L387.15,47.64 L387.41,47.45 L387.66,47.25 L387.92,47.06 L388.18,46.87 L388.43,46.68 L388.69,46.49 L388.94,46.30 L389.20,46.11 L389.46,45.92 L389.71,45.74 L389.97,45.55 L390.22,45.37 L390.48,45.19 L390.74,45.00 L390.99,44.82 L391.25,44.65 L391.51,44.47 L391.76,44.29 L392.02,44.12 L392.27,43.94 L392.53,43.77 L392.79,43.60 L393.04,43.43 L393.30,43.26 L393.56,43.09 L393.81,42.93 L394.07,42.76 L394.32,42.60 L394.58,42.44 L394.84,42.28 L395.09,42.12 L395.35,41.96 L395.61,41.81 L395.86,41.65 L396.12,41.50 L396.38,41.35 L396.63,41.20 L396.89,41.05 L397.14,40.90 L397.40,40.76 L397.66,40.61 L397.91,40.47 L398.17,40.33 L398.43,40.19 L398.68,40.05 L398.94,39.92 L399.19,39.78 L399.45,39.65 L399.71,39.52 L399.96,39.39 L400.22,39.26 L400.47,39.13 L400.73,39.01 L400.99,38.89 L401.24,38.76 L401.50,38.64 L401.76,38.53 L402.01,38.41 L402.27,38.29 L402.52,38.18 L402.78,38.07 L403.04,37.96 L403.29,37.85 L403.55,37.74 L403.81,37.63 L404.06,37.53 L404.32,37.43 L404.57,37.33 L404.83,37.23 L405.09,37.13 L405.34,37.03 L405.60,36.94 L405.86,36.84 L406.11,36.75 L406.37,36.66 L406.62,36.57 L406.88,36.49 L407.14,36.40 L407.39,36.32 L407.65,36.23 L407.91,36.15 L408.16,36.07 L408.42,35.99 L408.68,35.92 L408.93,35.84 L409.19,35.77 L409.44,35.70 L409.70,35.63 L409.96,35.56 L410.21,35.49 L410.47,35.42 L410.72,35.36 L410.98,35.29 L411.24,35.23 L411.49,35.17 L411.75,35.11 L412.01,35.05 L412.26,34.99 L412.52,34.94 L412.77,34.88 L413.03,34.83 L413.29,34.77 L413.54,34.72 L413.80,34.67 L414.06,34.63 L414.31,34.58 L414.57,34.53 L414.82,34.49 L415.08,34.44 L415.34,34.40 L415.59,34.36 L415.85,34.32 L416.11,34.28 L416.36,34.24 L416.62,34.20 L416.88,34.17 L417.13,34.13 L417.39,34.10 L417.64,34.06 L417.90,34.03 L418.16,34.00 L418.41,33.97 L418.67,33.94 L418.93,33.91 L419.18,33.89 L419.44,33.86 L419.69,33.83 L419.95,33.81 L420.21,33.79 L420.46,33.76 L420.72,33.74 L420.97,33.72 L421.23,33.70 L421.49,33.68 L421.74,33.66 L422.00,33.64 L422.26,33.62 L422.51,33.60 L422.77,33.59 L423.02,33.57 L423.28,33.56 L423.54,33.54 L423.79,33.53 L424.05,33.51 L424.31,33.50 L424.56,33.49 L424.82,33.48 L425.07,33.47 L425.33,33.46 L425.59,33.45 L425.84,33.44 L426.10,33.43 L426.36,33.42 L426.61,33.41 L426.87,33.40 L427.12,33.40 L427.38,33.39 L427.64,33.38 L427.89,33.38 L428.15,33.37 L428.41,33.36 L428.66,33.36 L428.92,33.35 L429.18,33.35 L429.43,33.35 L429.69,33.34 L429.94,33.34 L430.20,33.33 L430.46,33.33 L430.71,33.33 L430.97,33.32 L431.22,33.32 L431.48,33.32 L431.74,33.32 L431.99,33.32 L432.25,33.31 L432.51,33.31 L432.76,33.31 L433.02,33.31 L433.27,33.31 L433.53,33.31 L433.79,33.31 L434.04,33.31 L434.30,33.30 L434.56,33.30 L434.81,33.30 L435.07,33.30 L435.32,33.30 L435.58,33.30 L435.84,33.30 L436.09,33.30 L436.35,33.30 L436.61,33.30 L436.86,33.30 L437.12,33.30 L437.38,33.30 L437.63,33.30 L437.89,33.30 L438.14,33.30 L438.40,33.30 L438.66,33.30 L438.91,33.30 L439.17,33.30 L439.43,33.30 L439.68,33.30 L439.94,33.30 L440.19,33.30 L440.45,33.30" fill="none" stroke="#0870bd" stroke-width="4.4" stroke-dasharray="7.2 5.8"/>
<path d="M72.00,184.61 L72.70,184.63 L73.41,184.67 L74.11,184.73 L74.82,184.81 L75.52,184.91 L76.23,185.02 L76.93,185.15 L77.63,185.30 L78.34,185.46 L79.04,185.65 L79.75,185.84 L80.45,186.06 L81.16,186.29 L81.86,186.53 L82.57,186.79 L83.27,187.06 L83.97,187.34 L84.68,187.63 L85.38,187.94 L86.09,188.26 L86.79,188.58 L87.50,188.92 L88.20,189.27 M103.80,197.33 L104.47,197.62 L105.15,197.90 L105.82,198.17 L106.50,198.43 L107.17,198.67 L107.84,198.91 L108.52,199.13 L109.19,199.33 L109.87,199.52 L110.54,199.70 L111.21,199.86 L111.89,200.01 L112.56,200.14 L113.23,200.25 L113.91,200.35 L114.58,200.43 L115.26,200.50 L115.93,200.55 L116.60,200.58 L117.28,200.60 L117.95,200.60 L118.63,200.58 L119.30,200.54 M136.50,194.82 L137.20,194.45 L137.91,194.08 L138.61,193.70 L139.32,193.32 L140.02,192.94 L140.73,192.55 L141.43,192.17 L142.13,191.79 L142.84,191.40 L143.54,191.03 L144.25,190.65 L144.95,190.28 L145.66,189.92 L146.36,189.56 L147.07,189.21 L147.77,188.86 L148.47,188.53 L149.18,188.20 L149.88,187.89 L150.59,187.58 L151.29,187.29 L152.00,187.01 L152.70,186.74 M169.40,185.20 L170.05,185.34 L170.70,185.49 L171.34,185.66 L171.99,185.84 L172.64,186.04 L173.29,186.25 L173.93,186.47 L174.58,186.70 L175.23,186.94 L175.88,187.20 L176.53,187.46 L177.17,187.74 L177.82,188.02 L178.47,188.32 L179.12,188.62 L179.77,188.93 L180.41,189.25 L181.06,189.57 L181.71,189.90 L182.36,190.24 L183.00,190.57 L183.65,190.92 L184.30,191.26 M200.50,199.04 L201.21,199.26 L201.93,199.47 L202.64,199.66 L203.35,199.84 L204.07,199.99 L204.78,200.13 L205.49,200.25 L206.20,200.36 L206.92,200.44 L207.63,200.51 L208.34,200.56 L209.06,200.59 L209.77,200.60 L210.48,200.59 L211.20,200.57 L211.91,200.52 L212.62,200.46 L213.33,200.37 L214.05,200.27 L214.76,200.15 L215.47,200.02 L216.19,199.86 L216.90,199.69 M233.00,192.54 L233.68,192.17 L234.37,191.80 L235.05,191.43 L235.73,191.06 L236.41,190.70 L237.10,190.34 L237.78,189.98 L238.46,189.64 L239.14,189.29 L239.83,188.96 L240.51,188.63 L241.19,188.31 L241.87,188.00 L242.56,187.70 L243.24,187.42 L243.92,187.14 L244.60,186.87 L245.29,186.62 L245.97,186.38 L246.65,186.15 L247.33,185.94 L248.02,185.74 L248.70,185.56 M264.50,185.92 L265.19,186.13 L265.88,186.36 L266.57,186.60 L267.27,186.86 L267.96,187.13 L268.65,187.41 L269.34,187.70 L270.03,188.01 L270.72,188.32 L271.41,188.64 L272.10,188.97 L272.80,189.31 L273.49,189.66 L274.18,190.01 L274.87,190.37 L275.56,190.74 L276.25,191.10 L276.94,191.48 L277.63,191.85 L278.33,192.23 L279.02,192.60 L279.71,192.98 L280.40,193.35 M297.00,200.13 L297.70,200.25 L298.41,200.35 L299.11,200.44 L299.82,200.51 L300.52,200.56 L301.23,200.59 L301.93,200.60 L302.63,200.59 L303.34,200.57 L304.04,200.53 L304.75,200.47 L305.45,200.39 L306.16,200.29 L306.86,200.18 L307.57,200.05 L308.27,199.90 L308.97,199.73 L309.68,199.55 L310.38,199.35 L311.09,199.14 L311.79,198.91 L312.50,198.67 L313.20,198.41 M328.80,190.62 L329.47,190.27 L330.15,189.92 L330.82,189.58 L331.50,189.24 L332.17,188.91 L332.84,188.59 L333.52,188.28 L334.19,187.97 L334.87,187.68 L335.54,187.39 L336.21,187.12 L336.89,186.86 L337.56,186.61 L338.23,186.37 L338.91,186.15 L339.58,185.94 L340.26,185.74 L340.93,185.56 L341.60,185.39 L342.28,185.24 L342.95,185.11 L343.63,184.99 L344.30,184.88 M361.50,187.66 L362.17,187.95 L362.83,188.25 L363.50,188.56 L364.16,188.88 L364.83,189.20 L365.49,189.54 L366.16,189.87 L366.82,190.22 L367.49,190.57 L368.15,190.92 L368.82,191.27 L369.48,191.63 L370.15,191.99 L370.81,192.36 L371.48,192.72 L372.14,193.08 L372.81,193.44 L373.47,193.80 L374.14,194.16 L374.80,194.51 L375.47,194.86 L376.13,195.21 L376.80,195.55 M393.80,200.59 L394.48,200.60 L395.16,200.59 L395.83,200.56 L396.51,200.51 L397.19,200.45 L397.87,200.37 L398.55,200.27 L399.23,200.16 L399.90,200.03 L400.58,199.88 L401.26,199.72 L401.94,199.55 L402.62,199.36 L403.30,199.15 L403.97,198.93 L404.65,198.70 L405.33,198.46 L406.01,198.20 L406.69,197.93 L407.37,197.65 L408.04,197.35 L408.72,197.05 L409.40,196.74 M425.50,188.40 L426.17,188.09 L426.85,187.79 L427.52,187.51 L428.20,187.23 L428.87,186.96 L429.54,186.71 L430.22,186.47 L430.89,186.24 L431.57,186.02 L432.24,185.82 L432.91,185.63 L433.59,185.46 L434.26,185.30 L434.93,185.16 L435.61,185.03 L436.28,184.92 L436.96,184.83 L437.63,184.75 L438.30,184.69 L438.98,184.64 L439.65,184.61 L440.33,184.60 L441.00,184.61 " fill="none" stroke="#0870bd" stroke-width="4.6"/>
<path d="M71.45,278.40 L71.71,278.40 L71.96,278.40 L72.22,278.40 L72.48,278.40 L72.73,278.40 L72.99,278.41 L73.24,278.41 L73.50,278.41 L73.76,278.41 L74.01,278.42 L74.27,278.42 L74.53,278.43 L74.78,278.43 L75.04,278.44 L75.29,278.44 L75.55,278.45 L75.81,278.45 L76.06,278.46 L76.32,278.47 L76.58,278.47 L76.83,278.48 L77.09,278.49 L77.34,278.50 L77.60,278.50 L77.86,278.51 L78.11,278.52 L78.37,278.53 L78.62,278.54 L78.88,278.55 L79.14,278.56 L79.39,278.57 L79.65,278.59 L79.91,278.60 L80.16,278.61 L80.42,278.62 L80.67,278.63 L80.93,278.65 L81.19,278.66 L81.44,278.68 L81.70,278.69 L81.96,278.70 L82.21,278.72 L82.47,278.73 L82.73,278.75 L82.98,278.77 L83.24,278.78 L83.49,278.80 L83.75,278.81 L84.01,278.83 L84.26,278.85 L84.52,278.87 L84.78,278.89 L85.03,278.90 L85.29,278.92 L85.54,278.94 L85.80,278.96 L86.06,278.98 L86.31,279.00 L86.57,279.02 L86.83,279.04 L87.08,279.06 L87.34,279.09 L87.59,279.11 L87.85,279.13 L88.11,279.15 L88.36,279.17 L88.62,279.20 L88.88,279.22 L89.13,279.24 L89.39,279.27 L89.64,279.29 L89.90,279.32 L90.16,279.34 L90.41,279.37 L90.67,279.39 L90.93,279.42 L91.18,279.44 L91.44,279.47 L91.69,279.50 L91.95,279.52 L92.21,279.55 L92.46,279.58 L92.72,279.61 L92.97,279.63 L93.23,279.66 L93.49,279.69 L93.74,279.72 L94.00,279.75 L94.26,279.78 L94.51,279.81 L94.77,279.84 L95.03,279.87 L95.28,279.90 L95.54,279.93 L95.79,279.96 L96.05,279.99 L96.31,280.02 L96.56,280.05 L96.82,280.08 L97.08,280.11 L97.33,280.15 L97.59,280.18 L97.84,280.21 L98.10,280.24 L98.36,280.28 L98.61,280.31 L98.87,280.34 L99.12,280.38 L99.38,280.41 L99.64,280.45 L99.89,280.48 L100.15,280.52 L100.41,280.55 L100.66,280.59 L100.92,280.62 L101.18,280.66 L101.43,280.69 L101.69,280.73 L101.94,280.76 L102.20,280.80 L102.46,280.84 L102.71,280.87 L102.97,280.91 L103.22,280.95 L103.48,280.98 L103.74,281.02 L103.99,281.06 L104.25,281.10 L104.51,281.13 L104.76,281.17 L105.02,281.21 L105.28,281.25 L105.53,281.29 L105.79,281.32 L106.04,281.36 L106.30,281.40 L106.56,281.44 L106.81,281.48 L107.07,281.52 L107.33,281.56 L107.58,281.60 L107.84,281.64 L108.09,281.68 L108.35,281.72 L108.61,281.76 L108.86,281.80 L109.12,281.84 L109.38,281.88 L109.63,281.92 L109.89,281.96 L110.14,282.00 L110.40,282.04 L110.66,282.08 L110.91,282.12 L111.17,282.16 L111.43,282.20 L111.68,282.24 L111.94,282.28 L112.19,282.33 L112.45,282.37 L112.71,282.41 L112.96,282.45 L113.22,282.49 L113.47,282.53 L113.73,282.57 L113.99,282.62 L114.24,282.66 L114.50,282.70 L114.76,282.74 L115.01,282.78 L115.27,282.82 L115.53,282.87 L115.78,282.91 L116.04,282.95 L116.29,282.99 L116.55,283.03 L116.81,283.07 L117.06,283.12 L117.32,283.16 L117.58,283.20 L117.83,283.24 L118.09,283.28 L118.34,283.33 L118.60,283.37 L118.86,283.41 L119.11,283.45 L119.37,283.49 L119.62,283.53 L119.88,283.58 L120.14,283.62 L120.39,283.66 L120.65,283.70 L120.91,283.74 L121.16,283.78 L121.42,283.83 L121.68,283.87 L121.93,283.91 L122.19,283.95 L122.44,283.99 L122.70,284.03 L122.96,284.07 L123.21,284.12 L123.47,284.16 L123.72,284.20 L123.98,284.24 L124.24,284.28 L124.49,284.32 L124.75,284.36 L125.01,284.40 L125.26,284.44 L125.52,284.48 L125.78,284.52 L126.03,284.56 L126.29,284.60 L126.54,284.64 L126.80,284.68 L127.06,284.72 L127.31,284.76 L127.57,284.80 L127.83,284.84 L128.08,284.88 L128.34,284.92 L128.59,284.96 L128.85,285.00 L129.11,285.04 L129.36,285.08 L129.62,285.11 L129.88,285.15 L130.13,285.19 L130.39,285.23 L130.64,285.27 L130.90,285.30 L131.16,285.34 L131.41,285.38 L131.67,285.42 L131.93,285.45 L132.18,285.49 L132.44,285.53 L132.69,285.56 L132.95,285.60 L133.21,285.64 L133.46,285.67 L133.72,285.71 L133.97,285.74 L134.23,285.78 L134.49,285.81 L134.74,285.85 L135.00,285.88 L135.26,285.92 L135.51,285.95 L135.77,285.99 L136.03,286.02 L136.28,286.06 L136.54,286.09 L136.79,286.12 L137.05,286.16 L137.31,286.19 L137.56,286.22 L137.82,286.25 L138.07,286.29 L138.33,286.32 L138.59,286.35 L138.84,286.38 L139.10,286.41 L139.36,286.44 L139.61,286.47 L139.87,286.50 L140.12,286.53 L140.38,286.56 L140.64,286.59 L140.89,286.62 L141.15,286.65 L141.41,286.68 L141.66,286.71 L141.92,286.74 L142.18,286.77 L142.43,286.79 L142.69,286.82 L142.94,286.85 L143.20,286.88 L143.46,286.90 L143.71,286.93 L143.97,286.96 L144.23,286.98 L144.48,287.01 L144.74,287.03 L144.99,287.06 L145.25,287.08 L145.51,287.11 L145.76,287.13 L146.02,287.16 L146.28,287.18 L146.53,287.20 L146.79,287.23 L147.04,287.25 L147.30,287.27 L147.56,287.29 L147.81,287.31 L148.07,287.34 L148.32,287.36 L148.58,287.38 L148.84,287.40 L149.09,287.42 L149.35,287.44 L149.61,287.46 L149.86,287.48 L150.12,287.50 L150.38,287.51 L150.63,287.53 L150.89,287.55 L151.14,287.57 L151.40,287.59 L151.66,287.60 L151.91,287.62 L152.17,287.63 L152.43,287.65 L152.68,287.67 L152.94,287.68 L153.19,287.70 L153.45,287.71 L153.71,287.72 L153.96,287.74 L154.22,287.75 L154.48,287.77 L154.73,287.78 L154.99,287.79 L155.24,287.80 L155.50,287.81 L155.76,287.83 L156.01,287.84 L156.27,287.85 L156.53,287.86 L156.78,287.87 L157.04,287.88 L157.29,287.89 L157.55,287.90 L157.81,287.90 L158.06,287.91 L158.32,287.92 L158.57,287.93 L158.83,287.93 L159.09,287.94 L159.34,287.95 L159.60,287.95 L159.86,287.96 L160.11,287.96 L160.37,287.97 L160.62,287.97 L160.88,287.98 L161.14,287.98 L161.39,287.99 L161.65,287.99 L161.91,287.99 L162.16,287.99 L162.42,288.00 L162.68,288.00 L162.93,288.00 L163.19,288.00 L163.44,288.00 L163.70,288.00 L163.96,288.00 L164.21,288.00 L164.47,288.00 L164.73,288.00 L164.98,288.00 L165.24,287.99 L165.49,287.99 L165.75,287.99 L166.01,287.99 L166.26,287.98 L166.52,287.98 L166.78,287.97 L167.03,287.97 L167.29,287.96 L167.54,287.96 L167.80,287.95 L168.06,287.95 L168.31,287.94 L168.57,287.93 L168.82,287.93 L169.08,287.92 L169.34,287.91 L169.59,287.90 L169.85,287.90 L170.11,287.89 L170.36,287.88 L170.62,287.87 L170.88,287.86 L171.13,287.85 L171.39,287.84 L171.64,287.83 L171.90,287.81 L172.16,287.80 L172.41,287.79 L172.67,287.78 L172.93,287.77 L173.18,287.75 L173.44,287.74 L173.69,287.72 L173.95,287.71 L174.21,287.70 L174.46,287.68 L174.72,287.67 L174.98,287.65 L175.23,287.63 L175.49,287.62 L175.74,287.60 L176.00,287.59 L176.26,287.57 L176.51,287.55 L176.77,287.53 L177.03,287.51 L177.28,287.50 L177.54,287.48 L177.79,287.46 L178.05,287.44 L178.31,287.42 L178.56,287.40 L178.82,287.38 L179.07,287.36 L179.33,287.34 L179.59,287.31 L179.84,287.29 L180.10,287.27 L180.36,287.25 L180.61,287.23 L180.87,287.20 L181.12,287.18 L181.38,287.16 L181.64,287.13 L181.89,287.11 L182.15,287.08 L182.41,287.06 L182.66,287.03 L182.92,287.01 L183.18,286.98 L183.43,286.96 L183.69,286.93 L183.94,286.90 L184.20,286.88 L184.46,286.85 L184.71,286.82 L184.97,286.79 L185.23,286.77 L185.48,286.74 L185.74,286.71 L185.99,286.68 L186.25,286.65 L186.51,286.62 L186.76,286.59 L187.02,286.56 L187.28,286.53 L187.53,286.50 L187.79,286.47 L188.04,286.44 L188.30,286.41 L188.56,286.38 L188.81,286.35 L189.07,286.32 L189.32,286.29 L189.58,286.25 L189.84,286.22 L190.09,286.19 L190.35,286.16 L190.61,286.12 L190.86,286.09 L191.12,286.06 L191.38,286.02 L191.63,285.99 L191.89,285.95 L192.14,285.92 L192.40,285.88 L192.66,285.85 L192.91,285.81 L193.17,285.78 L193.43,285.74 L193.68,285.71 L193.94,285.67 L194.19,285.64 L194.45,285.60 L194.71,285.56 L194.96,285.53 L195.22,285.49 L195.48,285.45 L195.73,285.42 L195.99,285.38 L196.24,285.34 L196.50,285.30 L196.76,285.27 L197.01,285.23 L197.27,285.19 L197.53,285.15 L197.78,285.11 L198.04,285.08 L198.29,285.04 L198.55,285.00 L198.81,284.96 L199.06,284.92 L199.32,284.88 L199.57,284.84 L199.83,284.80 L200.09,284.76 L200.34,284.72 L200.60,284.68 L200.86,284.64 L201.11,284.60 L201.37,284.56 L201.62,284.52 L201.88,284.48 L202.14,284.44 L202.39,284.40 L202.65,284.36 L202.91,284.32 L203.16,284.28 L203.42,284.24 L203.68,284.20 L203.93,284.16 L204.19,284.12 L204.44,284.07 L204.70,284.03 L204.96,283.99 L205.21,283.95 L205.47,283.91 L205.73,283.87 L205.98,283.83 L206.24,283.78 L206.49,283.74 L206.75,283.70 L207.01,283.66 L207.26,283.62 L207.52,283.58 L207.77,283.53 L208.03,283.49 L208.29,283.45 L208.54,283.41 L208.80,283.37 L209.06,283.33 L209.31,283.28 L209.57,283.24 L209.82,283.20 L210.08,283.16 L210.34,283.12 L210.59,283.07 L210.85,283.03 L211.11,282.99 L211.36,282.95 L211.62,282.91 L211.88,282.87 L212.13,282.82 L212.39,282.78 L212.64,282.74 L212.90,282.70 L213.16,282.66 L213.41,282.62 L213.67,282.57 L213.93,282.53 L214.18,282.49 L214.44,282.45 L214.69,282.41 L214.95,282.37 L215.21,282.33 L215.46,282.28 L215.72,282.24 L215.98,282.20 L216.23,282.16 L216.49,282.12 L216.74,282.08 L217.00,282.04 L217.26,282.00 L217.51,281.96 L217.77,281.92 L218.02,281.88 L218.28,281.84 L218.54,281.80 L218.79,281.76 L219.05,281.72 L219.31,281.68 L219.56,281.64 L219.82,281.60 L220.07,281.56 L220.33,281.52 L220.59,281.48 L220.84,281.44 L221.10,281.40 L221.36,281.36 L221.61,281.32 L221.87,281.29 L222.12,281.25 L222.38,281.21 L222.64,281.17 L222.89,281.13 L223.15,281.10 L223.41,281.06 L223.66,281.02 L223.92,280.98 L224.18,280.95 L224.43,280.91 L224.69,280.87 L224.94,280.84 L225.20,280.80 L225.46,280.76 L225.71,280.73 L225.97,280.69 L226.23,280.66 L226.48,280.62 L226.74,280.59 L226.99,280.55 L227.25,280.52 L227.51,280.48 L227.76,280.45 L228.02,280.41 L228.27,280.38 L228.53,280.34 L228.79,280.31 L229.04,280.28 L229.30,280.24 L229.56,280.21 L229.81,280.18 L230.07,280.15 L230.32,280.11 L230.58,280.08 L230.84,280.05 L231.09,280.02 L231.35,279.99 L231.61,279.96 L231.86,279.93 L232.12,279.90 L232.38,279.87 L232.63,279.84 L232.89,279.81 L233.14,279.78 L233.40,279.75 L233.66,279.72 L233.91,279.69 L234.17,279.66 L234.43,279.63 L234.68,279.61 L234.94,279.58 L235.19,279.55 L235.45,279.52 L235.71,279.50 L235.96,279.47 L236.22,279.44 L236.48,279.42 L236.73,279.39 L236.99,279.37 L237.24,279.34 L237.50,279.32 L237.76,279.29 L238.01,279.27 L238.27,279.24 L238.52,279.22 L238.78,279.20 L239.04,279.17 L239.29,279.15 L239.55,279.13 L239.81,279.11 L240.06,279.09 L240.32,279.06 L240.57,279.04 L240.83,279.02 L241.09,279.00 L241.34,278.98 L241.60,278.96 L241.86,278.94 L242.11,278.92 L242.37,278.90 L242.62,278.89 L242.88,278.87 L243.14,278.85 L243.39,278.83 L243.65,278.81 L243.91,278.80 L244.16,278.78 L244.42,278.77 L244.68,278.75 L244.93,278.73 L245.19,278.72 L245.44,278.70 L245.70,278.69 L245.96,278.68 L246.21,278.66 L246.47,278.65 L246.73,278.63 L246.98,278.62 L247.24,278.61 L247.49,278.60 L247.75,278.59 L248.01,278.57 L248.26,278.56 L248.52,278.55 L248.77,278.54 L249.03,278.53 L249.29,278.52 L249.54,278.51 L249.80,278.50 L250.06,278.50 L250.31,278.49 L250.57,278.48 L250.82,278.47 L251.08,278.47 L251.34,278.46 L251.59,278.45 L251.85,278.45 L252.11,278.44 L252.36,278.44 L252.62,278.43 L252.88,278.43 L253.13,278.42 L253.39,278.42 L253.64,278.41 L253.90,278.41 L254.16,278.41 L254.41,278.41 L254.67,278.40 L254.93,278.40 L255.18,278.40 L255.44,278.40 L255.69,278.40 L255.95,278.40 L256.21,278.40 L256.46,278.40 L256.72,278.40 L256.98,278.40 L257.23,278.40 L257.49,278.41 L257.74,278.41 L258.00,278.41 L258.26,278.41 L258.51,278.42 L258.77,278.42 L259.02,278.43 L259.28,278.43 L259.54,278.44 L259.79,278.44 L260.05,278.45 L260.31,278.45 L260.56,278.46 L260.82,278.47 L261.07,278.47 L261.33,278.48 L261.59,278.49 L261.84,278.50 L262.10,278.50 L262.36,278.51 L262.61,278.52 L262.87,278.53 L263.12,278.54 L263.38,278.55 L263.64,278.56 L263.89,278.57 L264.15,278.59 L264.41,278.60 L264.66,278.61 L264.92,278.62 L265.18,278.63 L265.43,278.65 L265.69,278.66 L265.94,278.68 L266.20,278.69 L266.46,278.70 L266.71,278.72 L266.97,278.73 L267.23,278.75 L267.48,278.77 L267.74,278.78 L267.99,278.80 L268.25,278.81 L268.51,278.83 L268.76,278.85 L269.02,278.87 L269.27,278.89 L269.53,278.90 L269.79,278.92 L270.04,278.94 L270.30,278.96 L270.56,278.98 L270.81,279.00 L271.07,279.02 L271.32,279.04 L271.58,279.06 L271.84,279.09 L272.09,279.11 L272.35,279.13 L272.61,279.15 L272.86,279.17 L273.12,279.20 L273.38,279.22 L273.63,279.24 L273.89,279.27 L274.14,279.29 L274.40,279.32 L274.66,279.34 L274.91,279.37 L275.17,279.39 L275.43,279.42 L275.68,279.44 L275.94,279.47 L276.19,279.50 L276.45,279.52 L276.71,279.55 L276.96,279.58 L277.22,279.61 L277.48,279.63 L277.73,279.66 L277.99,279.69 L278.24,279.72 L278.50,279.75 L278.76,279.78 L279.01,279.81 L279.27,279.84 L279.52,279.87 L279.78,279.90 L280.04,279.93 L280.29,279.96 L280.55,279.99 L280.81,280.02 L281.06,280.05 L281.32,280.08 L281.57,280.11 L281.83,280.15 L282.09,280.18 L282.34,280.21 L282.60,280.24 L282.86,280.28 L283.11,280.31 L283.37,280.34 L283.62,280.38 L283.88,280.41 L284.14,280.45 L284.39,280.48 L284.65,280.52 L284.91,280.55 L285.16,280.59 L285.42,280.62 L285.68,280.66 L285.93,280.69 L286.19,280.73 L286.44,280.76 L286.70,280.80 L286.96,280.84 L287.21,280.87 L287.47,280.91 L287.73,280.95 L287.98,280.98 L288.24,281.02 L288.49,281.06 L288.75,281.10 L289.01,281.13 L289.26,281.17 L289.52,281.21 L289.77,281.25 L290.03,281.29 L290.29,281.32 L290.54,281.36 L290.80,281.40 L291.06,281.44 L291.31,281.48 L291.57,281.52 L291.82,281.56 L292.08,281.60 L292.34,281.64 L292.59,281.68 L292.85,281.72 L293.11,281.76 L293.36,281.80 L293.62,281.84 L293.88,281.88 L294.13,281.92 L294.39,281.96 L294.64,282.00 L294.90,282.04 L295.16,282.08 L295.41,282.12 L295.67,282.16 L295.93,282.20 L296.18,282.24 L296.44,282.28 L296.69,282.33 L296.95,282.37 L297.21,282.41 L297.46,282.45 L297.72,282.49 L297.98,282.53 L298.23,282.57 L298.49,282.62 L298.74,282.66 L299.00,282.70 L299.26,282.74 L299.51,282.78 L299.77,282.82 L300.02,282.87 L300.28,282.91 L300.54,282.95 L300.79,282.99 L301.05,283.03 L301.31,283.07 L301.56,283.12 L301.82,283.16 L302.07,283.20 L302.33,283.24 L302.59,283.28 L302.84,283.33 L303.10,283.37 L303.36,283.41 L303.61,283.45 L303.87,283.49 L304.12,283.53 L304.38,283.58 L304.64,283.62 L304.89,283.66 L305.15,283.70 L305.41,283.74 L305.66,283.78 L305.92,283.83 L306.18,283.87 L306.43,283.91 L306.69,283.95 L306.94,283.99 L307.20,284.03 L307.46,284.07 L307.71,284.12 L307.97,284.16 L308.23,284.20 L308.48,284.24 L308.74,284.28 L308.99,284.32 L309.25,284.36 L309.51,284.40 L309.76,284.44 L310.02,284.48 L310.27,284.52 L310.53,284.56 L310.79,284.60 L311.04,284.64 L311.30,284.68 L311.56,284.72 L311.81,284.76 L312.07,284.80 L312.32,284.84 L312.58,284.88 L312.84,284.92 L313.09,284.96 L313.35,285.00 L313.61,285.04 L313.86,285.08 L314.12,285.11 L314.38,285.15 L314.63,285.19 L314.89,285.23 L315.14,285.27 L315.40,285.30 L315.66,285.34 L315.91,285.38 L316.17,285.42 L316.43,285.45 L316.68,285.49 L316.94,285.53 L317.19,285.56 L317.45,285.60 L317.71,285.64 L317.96,285.67 L318.22,285.71 L318.48,285.74 L318.73,285.78 L318.99,285.81 L319.24,285.85 L319.50,285.88 L319.76,285.92 L320.01,285.95 L320.27,285.99 L320.52,286.02 L320.78,286.06 L321.04,286.09 L321.29,286.12 L321.55,286.16 L321.81,286.19 L322.06,286.22 L322.32,286.25 L322.57,286.29 L322.83,286.32 L323.09,286.35 L323.34,286.38 L323.60,286.41 L323.86,286.44 L324.11,286.47 L324.37,286.50 L324.62,286.53 L324.88,286.56 L325.14,286.59 L325.39,286.62 L325.65,286.65 L325.91,286.68 L326.16,286.71 L326.42,286.74 L326.68,286.77 L326.93,286.79 L327.19,286.82 L327.44,286.85 L327.70,286.88 L327.96,286.90 L328.21,286.93 L328.47,286.96 L328.72,286.98 L328.98,287.01 L329.24,287.03 L329.49,287.06 L329.75,287.08 L330.01,287.11 L330.26,287.13 L330.52,287.16 L330.77,287.18 L331.03,287.20 L331.29,287.23 L331.54,287.25 L331.80,287.27 L332.06,287.29 L332.31,287.31 L332.57,287.34 L332.82,287.36 L333.08,287.38 L333.34,287.40 L333.59,287.42 L333.85,287.44 L334.11,287.46 L334.36,287.48 L334.62,287.50 L334.88,287.51 L335.13,287.53 L335.39,287.55 L335.64,287.57 L335.90,287.59 L336.16,287.60 L336.41,287.62 L336.67,287.63 L336.93,287.65 L337.18,287.67 L337.44,287.68 L337.69,287.70 L337.95,287.71 L338.21,287.72 L338.46,287.74 L338.72,287.75 L338.97,287.77 L339.23,287.78 L339.49,287.79 L339.74,287.80 L340.00,287.81 L340.26,287.83 L340.51,287.84 L340.77,287.85 L341.02,287.86 L341.28,287.87 L341.54,287.88 L341.79,287.89 L342.05,287.90 L342.31,287.90 L342.56,287.91 L342.82,287.92 L343.07,287.93 L343.33,287.93 L343.59,287.94 L343.84,287.95 L344.10,287.95 L344.36,287.96 L344.61,287.96 L344.87,287.97 L345.12,287.97 L345.38,287.98 L345.64,287.98 L345.89,287.99 L346.15,287.99 L346.41,287.99 L346.66,287.99 L346.92,288.00 L347.18,288.00 L347.43,288.00 L347.69,288.00 L347.94,288.00 L348.20,288.00 L348.46,288.00 L348.71,288.00 L348.97,288.00 L349.22,288.00 L349.48,288.00 L349.74,287.99 L349.99,287.99 L350.25,287.99 L350.51,287.99 L350.76,287.98 L351.02,287.98 L351.27,287.97 L351.53,287.97 L351.79,287.96 L352.04,287.96 L352.30,287.95 L352.56,287.95 L352.81,287.94 L353.07,287.93 L353.32,287.93 L353.58,287.92 L353.84,287.91 L354.09,287.90 L354.35,287.90 L354.61,287.89 L354.86,287.88 L355.12,287.87 L355.38,287.86 L355.63,287.85 L355.89,287.84 L356.14,287.83 L356.40,287.81 L356.66,287.80 L356.91,287.79 L357.17,287.78 L357.43,287.77 L357.68,287.75 L357.94,287.74 L358.19,287.72 L358.45,287.71 L358.71,287.70 L358.96,287.68 L359.22,287.67 L359.47,287.65 L359.73,287.63 L359.99,287.62 L360.24,287.60 L360.50,287.59 L360.76,287.57 L361.01,287.55 L361.27,287.53 L361.52,287.51 L361.78,287.50 L362.04,287.48 L362.29,287.46 L362.55,287.44 L362.81,287.42 L363.06,287.40 L363.32,287.38 L363.57,287.36 L363.83,287.34 L364.09,287.31 L364.34,287.29 L364.60,287.27 L364.86,287.25 L365.11,287.23 L365.37,287.20 L365.62,287.18 L365.88,287.16 L366.14,287.13 L366.39,287.11 L366.65,287.08 L366.91,287.06 L367.16,287.03 L367.42,287.01 L367.68,286.98 L367.93,286.96 L368.19,286.93 L368.44,286.90 L368.70,286.88 L368.96,286.85 L369.21,286.82 L369.47,286.79 L369.72,286.77 L369.98,286.74 L370.24,286.71 L370.49,286.68 L370.75,286.65 L371.01,286.62 L371.26,286.59 L371.52,286.56 L371.77,286.53 L372.03,286.50 L372.29,286.47 L372.54,286.44 L372.80,286.41 L373.06,286.38 L373.31,286.35 L373.57,286.32 L373.82,286.29 L374.08,286.25 L374.34,286.22 L374.59,286.19 L374.85,286.16 L375.11,286.12 L375.36,286.09 L375.62,286.06 L375.88,286.02 L376.13,285.99 L376.39,285.95 L376.64,285.92 L376.90,285.88 L377.16,285.85 L377.41,285.81 L377.67,285.78 L377.93,285.74 L378.18,285.71 L378.44,285.67 L378.69,285.64 L378.95,285.60 L379.21,285.56 L379.46,285.53 L379.72,285.49 L379.97,285.45 L380.23,285.42 L380.49,285.38 L380.74,285.34 L381.00,285.30 L381.26,285.27 L381.51,285.23 L381.77,285.19 L382.02,285.15 L382.28,285.11 L382.54,285.08 L382.79,285.04 L383.05,285.00 L383.31,284.96 L383.56,284.92 L383.82,284.88 L384.07,284.84 L384.33,284.80 L384.59,284.76 L384.84,284.72 L385.10,284.68 L385.36,284.64 L385.61,284.60 L385.87,284.56 L386.12,284.52 L386.38,284.48 L386.64,284.44 L386.89,284.40 L387.15,284.36 L387.41,284.32 L387.66,284.28 L387.92,284.24 L388.18,284.20 L388.43,284.16 L388.69,284.12 L388.94,284.07 L389.20,284.03 L389.46,283.99 L389.71,283.95 L389.97,283.91 L390.22,283.87 L390.48,283.83 L390.74,283.78 L390.99,283.74 L391.25,283.70 L391.51,283.66 L391.76,283.62 L392.02,283.58 L392.27,283.53 L392.53,283.49 L392.79,283.45 L393.04,283.41 L393.30,283.37 L393.56,283.33 L393.81,283.28 L394.07,283.24 L394.32,283.20 L394.58,283.16 L394.84,283.12 L395.09,283.07 L395.35,283.03 L395.61,282.99 L395.86,282.95 L396.12,282.91 L396.38,282.87 L396.63,282.82 L396.89,282.78 L397.14,282.74 L397.40,282.70 L397.66,282.66 L397.91,282.62 L398.17,282.57 L398.43,282.53 L398.68,282.49 L398.94,282.45 L399.19,282.41 L399.45,282.37 L399.71,282.33 L399.96,282.28 L400.22,282.24 L400.47,282.20 L400.73,282.16 L400.99,282.12 L401.24,282.08 L401.50,282.04 L401.76,282.00 L402.01,281.96 L402.27,281.92 L402.52,281.88 L402.78,281.84 L403.04,281.80 L403.29,281.76 L403.55,281.72 L403.81,281.68 L404.06,281.64 L404.32,281.60 L404.57,281.56 L404.83,281.52 L405.09,281.48 L405.34,281.44 L405.60,281.40 L405.86,281.36 L406.11,281.32 L406.37,281.29 L406.62,281.25 L406.88,281.21 L407.14,281.17 L407.39,281.13 L407.65,281.10 L407.91,281.06 L408.16,281.02 L408.42,280.98 L408.68,280.95 L408.93,280.91 L409.19,280.87 L409.44,280.84 L409.70,280.80 L409.96,280.76 L410.21,280.73 L410.47,280.69 L410.72,280.66 L410.98,280.62 L411.24,280.59 L411.49,280.55 L411.75,280.52 L412.01,280.48 L412.26,280.45 L412.52,280.41 L412.77,280.38 L413.03,280.34 L413.29,280.31 L413.54,280.28 L413.80,280.24 L414.06,280.21 L414.31,280.18 L414.57,280.15 L414.82,280.11 L415.08,280.08 L415.34,280.05 L415.59,280.02 L415.85,279.99 L416.11,279.96 L416.36,279.93 L416.62,279.90 L416.88,279.87 L417.13,279.84 L417.39,279.81 L417.64,279.78 L417.90,279.75 L418.16,279.72 L418.41,279.69 L418.67,279.66 L418.93,279.63 L419.18,279.61 L419.44,279.58 L419.69,279.55 L419.95,279.52 L420.21,279.50 L420.46,279.47 L420.72,279.44 L420.97,279.42 L421.23,279.39 L421.49,279.37 L421.74,279.34 L422.00,279.32 L422.26,279.29 L422.51,279.27 L422.77,279.24 L423.02,279.22 L423.28,279.20 L423.54,279.17 L423.79,279.15 L424.05,279.13 L424.31,279.11 L424.56,279.09 L424.82,279.06 L425.07,279.04 L425.33,279.02 L425.59,279.00 L425.84,278.98 L426.10,278.96 L426.36,278.94 L426.61,278.92 L426.87,278.90 L427.12,278.89 L427.38,278.87 L427.64,278.85 L427.89,278.83 L428.15,278.81 L428.41,278.80 L428.66,278.78 L428.92,278.77 L429.18,278.75 L429.43,278.73 L429.69,278.72 L429.94,278.70 L430.20,278.69 L430.46,278.68 L430.71,278.66 L430.97,278.65 L431.22,278.63 L431.48,278.62 L431.74,278.61 L431.99,278.60 L432.25,278.59 L432.51,278.57 L432.76,278.56 L433.02,278.55 L433.27,278.54 L433.53,278.53 L433.79,278.52 L434.04,278.51 L434.30,278.50 L434.56,278.50 L434.81,278.49 L435.07,278.48 L435.32,278.47 L435.58,278.47 L435.84,278.46 L436.09,278.45 L436.35,278.45 L436.61,278.44 L436.86,278.44 L437.12,278.43 L437.38,278.43 L437.63,278.42 L437.89,278.42 L438.14,278.41 L438.40,278.41 L438.66,278.41 L438.91,278.41 L439.17,278.40 L439.43,278.40 L439.68,278.40 L439.94,278.40 L440.19,278.40 L440.45,278.40" fill="none" stroke="#0870bd" stroke-width="4.6"/>
</g>
<rect x="71.45" y="10.7" width="369" height="293.6" fill="none" stroke="#3a3a3a" stroke-width="1.5"/>
<path d="M122.7,304.3v-4M122.7,10.7v4M173.95,304.3v-4M173.95,10.7v4M225.2,304.3v-4M225.2,10.7v4M276.45,304.3v-4M276.45,10.7v4M327.7,304.3v-4M327.7,10.7v4M378.95,304.3v-4M378.95,10.7v4M430.2,304.3v-4M430.2,10.7v4M71.45,277.1h4M71.45,229h4M71.45,180.9h4M71.45,132.8h4M71.45,84.7h4M71.45,36.6h4M440.45,279.4h-4M440.45,247.1h-4M440.45,214.8h-4M440.45,182.5h-4M440.45,150.2h-4M440.45,117.9h-4M440.45,85.6h-4M440.45,53.3h-4M440.45,21h-4" stroke="#3a3a3a" stroke-width="1.3" fill="none"/>
<text x="69.9" y="39.4" font-size="26" text-anchor="end">14</text>
<text x="69.9" y="88.7" font-size="26" text-anchor="end">12</text>
<text x="69.9" y="138.1" font-size="26" text-anchor="end">10</text>
<text x="60.9" y="186.7" font-size="26" text-anchor="end">8</text>
<text x="60.9" y="235" font-size="26" text-anchor="end">6</text>
<text x="60.9" y="284.6" font-size="26" text-anchor="end">4</text>
<text x="442.3" y="57.3" font-size="26" text-anchor="start">5000</text>
<text x="442.3" y="123.3" font-size="26" text-anchor="start">4000</text>
<text x="442.3" y="189.1" font-size="26" text-anchor="start">3000</text>
<text x="442.3" y="254.4" font-size="26" text-anchor="start">2000</text>
<text x="73.4" y="325" font-size="26" text-anchor="middle">0</text>
<text x="172.4" y="325" font-size="26" text-anchor="middle">100</text>
<text x="273.3" y="325" font-size="26" text-anchor="middle">200</text>
<text x="375.8" y="325" font-size="26" text-anchor="middle">300</text>
<text x="174" y="346" font-size="25.8">Rotation angle (<tspan font-size="15" dy="-7.6">o</tspan><tspan dy="7.6">)</tspan></text>
<text transform="translate(33.8,272.8) rotate(-90)" font-size="26">Brillouin shift (GHz)</text>
<text transform="translate(512.6,281.6) rotate(-90)" font-size="26.2">Sound Velocity (m/s)</text>
<text x="1.4" y="18.6" font-size="26" font-weight="bold">A</text>
<rect x="292.4" y="82.9" width="138.4" height="76.7" fill="#fff" stroke="#3a3a3a" stroke-width="1.2"/>
<path d="M322.7,89.5V99.2M319,89.5h7.4M319,99.2h7.4" stroke="#1f1a1a" stroke-width="1.1"/>
<circle cx="322.7" cy="94.2" r="3.8" fill="#1f1a1a"/>
<path d="M297.3,116.5H339.6" stroke="#0870bd" stroke-width="4.6"/>
<path d="M297.3,134.5H313.9M331.5,134.5H339.6" stroke="#0870bd" stroke-width="4.6"/>
<path d="M296,152.6H302M309.3,152.6H315M321.9,152.6H327.8M335,152.6H340" stroke="#0870bd" stroke-width="4.6"/>
<text x="341.8" y="102.6" font-size="21.6" text-anchor="start">Measured</text>
<text x="343.8" y="120.3" font-size="21.6" text-anchor="start">T1</text>
<text x="343.8" y="138" font-size="21.6" text-anchor="start">T2</text>
<text x="343.8" y="155.7" font-size="21.6" text-anchor="start">L</text>
<g clip-path="url(#cB)">
<polygon points="64.9,402 65.99,401.97 67.08,401.94 68.17,401.91 69.26,401.88 70.34,401.86 71.43,401.83 72.52,401.8 73.61,401.77 74.7,401.75 75.79,401.72 76.88,401.69 77.97,401.67 79.06,401.64 80.15,401.62 81.23,401.59 82.32,401.57 83.41,401.55 84.5,401.52 85.59,401.5 86.68,401.48 87.77,401.46 88.86,401.43 89.95,401.41 91.04,401.39 92.12,401.37 93.21,401.35 94.3,401.33 95.39,401.31 96.48,401.3 97.57,401.28 98.66,401.26 99.75,401.24 100.84,401.23 101.93,401.21 103.01,401.2 104.1,401.18 105.19,401.17 106.28,401.15 107.37,401.14 108.46,401.13 109.55,401.12 110.64,401.1 111.73,401.09 112.81,401.08 113.9,401.07 114.99,401.06 116.08,401.06 117.17,401.05 118.26,401.04 119.35,401.03 120.44,401.03 121.53,401.02 122.62,401.02 123.7,401.01 124.79,401.01 125.88,401.01 126.97,401 128.06,401 129.15,401 130.24,401 131.33,401 132.42,401 133.51,401 134.59,401 135.68,401 136.77,401.01 137.86,401.01 138.95,401.01 140.04,401.01 141.13,401.02 142.22,401.02 143.31,401.02 144.39,401.03 145.48,401.03 146.57,401.03 147.66,401.04 148.75,401.04 149.84,401.05 150.93,401.05 152.02,401.06 153.11,401.06 154.2,401.07 155.28,401.07 156.37,401.08 157.46,401.09 158.55,401.09 159.64,401.1 160.73,401.11 161.82,401.11 162.91,401.12 164,401.13 165.09,401.14 166.17,401.14 167.26,401.15 168.35,401.16 169.44,401.17 170.53,401.17 171.62,401.18 172.71,401.19 173.8,401.2 174.89,401.21 175.98,401.22 177.06,401.23 178.15,401.25 179.24,401.26 180.33,401.28 181.42,401.3 182.51,401.32 183.6,401.35 184.69,401.37 185.78,401.39 186.86,401.42 187.95,401.45 189.04,401.48 190.13,401.51 191.22,401.54 192.31,401.57 193.4,401.6 194.49,401.64 195.58,401.67 196.67,401.71 197.75,401.75 198.84,401.78 199.93,401.82 201.02,401.86 202.11,401.9 203.2,401.94 204.29,401.98 205.38,402.02 206.47,402.06 207.56,402.11 208.64,402.15 209.73,402.19 210.82,402.23 211.91,402.28 213,402.32 214.09,402.36 215.18,402.41 216.27,402.45 217.36,402.49 218.44,402.54 219.53,402.58 220.62,402.62 221.71,402.67 222.8,402.71 223.89,402.75 224.98,402.79 226.07,402.83 227.16,402.88 228.25,402.92 229.33,402.96 230.42,403.01 231.51,403.05 232.6,403.1 233.69,403.15 234.78,403.19 235.87,403.24 236.96,403.29 238.05,403.34 239.14,403.39 240.22,403.44 241.31,403.49 242.4,403.55 243.49,403.6 244.58,403.65 245.67,403.7 246.76,403.76 247.85,403.81 248.94,403.87 250.03,403.92 251.11,403.98 252.2,404.03 253.29,404.09 254.38,404.14 255.47,404.2 256.56,404.26 257.65,404.31 258.74,404.37 259.83,404.42 260.91,404.48 262,404.54 263.09,404.6 264.18,404.65 265.27,404.71 266.36,404.77 267.45,404.82 268.54,404.88 269.63,404.94 270.72,405 271.8,405.06 272.89,405.12 273.98,405.18 275.07,405.24 276.16,405.31 277.25,405.37 278.34,405.43 279.43,405.5 280.52,405.56 281.61,405.63 282.69,405.69 283.78,405.76 284.87,405.82 285.96,405.89 287.05,405.96 288.14,406.02 289.23,406.09 290.32,406.15 291.41,406.22 292.49,406.28 293.58,406.35 294.67,406.41 295.76,406.48 296.85,406.54 297.94,406.61 299.03,406.67 300.12,406.73 301.21,406.79 302.3,406.85 303.38,406.91 304.47,406.97 305.56,407.03 306.65,407.09 307.74,407.14 308.83,407.2 309.92,407.25 311.01,407.31 312.1,407.36 313.19,407.42 314.27,407.48 315.36,407.53 316.45,407.59 317.54,407.64 318.63,407.7 319.72,407.75 320.81,407.81 321.9,407.86 322.99,407.92 324.08,407.97 325.16,408.03 326.25,408.08 327.34,408.14 328.43,408.19 329.52,408.24 330.61,408.3 331.7,408.35 332.79,408.41 333.88,408.46 334.96,408.52 336.05,408.57 337.14,408.62 338.23,408.68 339.32,408.73 340.41,408.78 341.5,408.84 342.59,408.89 343.68,408.94 344.77,409 345.85,409.05 346.94,409.1 348.03,409.15 349.12,409.2 350.21,409.26 351.3,409.31 352.39,409.36 353.48,409.41 354.57,409.46 355.66,409.51 356.74,409.56 357.83,409.61 358.92,409.66 360.01,409.71 361.1,409.76 362.19,409.8 363.28,409.85 364.37,409.9 365.46,409.95 366.54,409.99 367.63,410.04 368.72,410.09 369.81,410.13 370.9,410.18 371.99,410.22 373.08,410.27 374.17,410.31 375.26,410.36 376.35,410.4 377.43,410.44 378.52,410.48 379.61,410.53 380.7,410.57 381.79,410.61 382.88,410.65 383.97,410.69 385.06,410.73 386.15,410.77 387.24,410.81 388.32,410.84 389.41,410.88 390.5,410.92 391.59,410.96 392.68,410.99 393.77,411.03 394.86,411.06 395.95,411.1 397.04,411.13 398.12,411.16 399.21,411.19 400.3,411.23 401.39,411.26 402.48,411.29 403.57,411.32 404.66,411.35 405.75,411.38 406.84,411.4 407.93,411.43 409.01,411.46 410.1,411.49 411.19,411.51 412.28,411.54 413.37,411.57 414.46,411.59 415.55,411.62 416.64,411.64 417.73,411.67 418.82,411.69 419.9,411.71 420.99,411.74 422.08,411.76 423.17,411.78 424.26,411.8 425.35,411.83 426.44,411.85 427.53,411.87 428.62,411.89 429.71,411.91 430.79,411.93 431.88,411.95 432.97,411.96 434.06,411.98 435.15,412 435.15,429.6 434.06,429.56 432.97,429.52 431.88,429.48 430.79,429.45 429.71,429.41 428.62,429.37 427.53,429.33 426.44,429.29 425.35,429.25 424.26,429.21 423.17,429.17 422.08,429.13 420.99,429.09 419.9,429.05 418.82,429.01 417.73,428.97 416.64,428.93 415.55,428.89 414.46,428.85 413.37,428.81 412.28,428.77 411.19,428.72 410.1,428.68 409.01,428.64 407.93,428.6 406.84,428.56 405.75,428.51 404.66,428.47 403.57,428.43 402.48,428.38 401.39,428.34 400.3,428.3 399.21,428.25 398.12,428.21 397.04,428.17 395.95,428.12 394.86,428.08 393.77,428.04 392.68,428 391.59,427.95 390.5,427.91 389.41,427.87 388.32,427.83 387.24,427.79 386.15,427.74 385.06,427.7 383.97,427.66 382.88,427.62 381.79,427.58 380.7,427.54 379.61,427.49 378.52,427.45 377.43,427.41 376.35,427.37 375.26,427.32 374.17,427.28 373.08,427.24 371.99,427.2 370.9,427.16 369.81,427.11 368.72,427.07 367.63,427.03 366.54,426.98 365.46,426.94 364.37,426.9 363.28,426.85 362.19,426.81 361.1,426.76 360.01,426.72 358.92,426.68 357.83,426.63 356.74,426.59 355.66,426.54 354.57,426.5 353.48,426.45 352.39,426.4 351.3,426.36 350.21,426.31 349.12,426.26 348.03,426.22 346.94,426.17 345.85,426.12 344.77,426.07 343.68,426.02 342.59,425.97 341.5,425.92 340.41,425.87 339.32,425.82 338.23,425.77 337.14,425.72 336.05,425.67 334.96,425.62 333.88,425.57 332.79,425.51 331.7,425.46 330.61,425.4 329.52,425.35 328.43,425.29 327.34,425.24 326.25,425.18 325.16,425.13 324.08,425.07 322.99,425.01 321.9,424.95 320.81,424.89 319.72,424.83 318.63,424.77 317.54,424.71 316.45,424.65 315.36,424.59 314.27,424.52 313.19,424.46 312.1,424.4 311.01,424.33 309.92,424.27 308.83,424.2 307.74,424.13 306.65,424.06 305.56,423.99 304.47,423.91 303.38,423.84 302.3,423.76 301.21,423.68 300.12,423.6 299.03,423.51 297.94,423.43 296.85,423.34 295.76,423.25 294.67,423.16 293.58,423.07 292.49,422.97 291.41,422.88 290.32,422.78 289.23,422.69 288.14,422.59 287.05,422.49 285.96,422.39 284.87,422.29 283.78,422.19 282.69,422.09 281.61,421.99 280.52,421.88 279.43,421.78 278.34,421.68 277.25,421.57 276.16,421.47 275.07,421.36 273.98,421.26 272.89,421.16 271.8,421.05 270.72,420.95 269.63,420.85 268.54,420.74 267.45,420.64 266.36,420.54 265.27,420.44 264.18,420.33 263.09,420.22 262,420.12 260.91,420.01 259.83,419.9 258.74,419.79 257.65,419.68 256.56,419.57 255.47,419.46 254.38,419.35 253.29,419.23 252.2,419.12 251.11,419.01 250.03,418.89 248.94,418.78 247.85,418.66 246.76,418.55 245.67,418.43 244.58,418.32 243.49,418.2 242.4,418.08 241.31,417.97 240.22,417.85 239.14,417.74 238.05,417.62 236.96,417.51 235.87,417.39 234.78,417.28 233.69,417.17 232.6,417.05 231.51,416.94 230.42,416.83 229.33,416.72 228.25,416.61 227.16,416.5 226.07,416.39 224.98,416.28 223.89,416.17 222.8,416.06 221.71,415.96 220.62,415.85 219.53,415.74 218.44,415.64 217.36,415.53 216.27,415.43 215.18,415.32 214.09,415.22 213,415.11 211.91,415.01 210.82,414.9 209.73,414.8 208.64,414.7 207.56,414.59 206.47,414.49 205.38,414.39 204.29,414.28 203.2,414.18 202.11,414.08 201.02,413.97 199.93,413.87 198.84,413.77 197.75,413.67 196.67,413.56 195.58,413.46 194.49,413.36 193.4,413.26 192.31,413.15 191.22,413.05 190.13,412.95 189.04,412.85 187.95,412.74 186.86,412.64 185.78,412.54 184.69,412.44 183.6,412.33 182.51,412.23 181.42,412.13 180.33,412.02 179.24,411.92 178.15,411.82 177.06,411.71 175.98,411.61 174.89,411.5 173.8,411.4 172.71,411.29 171.62,411.19 170.53,411.08 169.44,410.97 168.35,410.86 167.26,410.75 166.17,410.64 165.09,410.52 164,410.41 162.91,410.3 161.82,410.18 160.73,410.07 159.64,409.95 158.55,409.84 157.46,409.72 156.37,409.61 155.28,409.49 154.2,409.38 153.11,409.27 152.02,409.15 150.93,409.04 149.84,408.93 148.75,408.82 147.66,408.71 146.57,408.6 145.48,408.5 144.39,408.39 143.31,408.29 142.22,408.18 141.13,408.08 140.04,407.98 138.95,407.89 137.86,407.79 136.77,407.7 135.68,407.61 134.59,407.52 133.51,407.44 132.42,407.36 131.33,407.28 130.24,407.2 129.15,407.13 128.06,407.05 126.97,406.98 125.88,406.9 124.79,406.83 123.7,406.75 122.62,406.68 121.53,406.61 120.44,406.54 119.35,406.47 118.26,406.39 117.17,406.32 116.08,406.25 114.99,406.18 113.9,406.11 112.81,406.04 111.73,405.98 110.64,405.91 109.55,405.84 108.46,405.77 107.37,405.71 106.28,405.64 105.19,405.58 104.1,405.51 103.01,405.45 101.93,405.39 100.84,405.33 99.75,405.26 98.66,405.2 97.57,405.14 96.48,405.09 95.39,405.03 94.3,404.97 93.21,404.91 92.12,404.86 91.04,404.8 89.95,404.75 88.86,404.7 87.77,404.64 86.68,404.59 85.59,404.54 84.5,404.49 83.41,404.45 82.32,404.4 81.23,404.35 80.15,404.31 79.06,404.26 77.97,404.22 76.88,404.18 75.79,404.14 74.7,404.1 73.61,404.06 72.52,404.02 71.43,403.99 70.34,403.95 69.26,403.92 68.17,403.89 67.08,403.86 65.99,403.83 64.9,403.8" fill="#d8988a"/>
<defs><linearGradient id="p1_0" x1="0" y1="0" x2="0" y2="1"><stop offset="0" stop-color="#e09188"/><stop offset="0.25" stop-color="#e1968c"/><stop offset="0.5" stop-color="#e29c90"/><stop offset="0.75" stop-color="#e4a294"/><stop offset="1" stop-color="#e6a898"/></linearGradient><linearGradient id="p2_0" x1="0" y1="0" x2="0" y2="1"><stop offset="0" stop-color="#eed4a8"/><stop offset="0.25" stop-color="#eed6aa"/><stop offset="0.5" stop-color="#eed6ac"/><stop offset="0.75" stop-color="#ecd0a8"/><stop offset="1" stop-color="#e8c6a2"/></linearGradient><linearGradient id="p3_0" x1="0" y1="0" x2="0" y2="1"><stop offset="0" stop-color="#e4b098"/><stop offset="0.25" stop-color="#e0a694"/><stop offset="0.5" stop-color="#dd9e90"/><stop offset="0.75" stop-color="#da988c"/><stop offset="1" stop-color="#d69288"/></linearGradient><linearGradient id="p1_1" x1="0" y1="0" x2="0" y2="1"><stop offset="0" stop-color="#e09188"/><stop offset="0.25" stop-color="#e1968c"/><stop offset="0.5" stop-color="#e29c90"/><stop offset="0.75" stop-color="#e4a294"/><stop offset="1" stop-color="#e6a898"/></linearGradient><linearGradient id="p2_1" x1="0" y1="0" x2="0" y2="1"><stop offset="0" stop-color="#eed4a8"/><stop offset="0.25" stop-color="#eed6aa"/><stop offset="0.5" stop-color="#eed6ac"/><stop offset="0.75" stop-color="#ecd0a8"/><stop offset="1" stop-color="#e8c6a2"/></linearGradient><linearGradient id="p3_1" x1="0" y1="0" x2="0" y2="1"><stop offset="0" stop-color="#e4b098"/><stop offset="0.25" stop-color="#e0a694"/><stop offset="0.5" stop-color="#dd9e90"/><stop offset="0.75" stop-color="#da988c"/><stop offset="1" stop-color="#d69288"/></linearGradient><linearGradient id="p1_2" x1="0" y1="0" x2="0" y2="1"><stop offset="0" stop-color="#e09188"/><stop offset="0.25" stop-color="#e1968c"/><stop offset="0.5" stop-color="#e29c90"/><stop offset="0.75" stop-color="#e4a294"/><stop offset="1" stop-color="#e6a898"/></linearGradient><linearGradient id="p2_2" x1="0" y1="0" x2="0" y2="1"><stop offset="0" stop-color="#eed4a8"/><stop offset="0.25" stop-color="#eed6aa"/><stop offset="0.5" stop-color="#eed6ac"/><stop offset="0.75" stop-color="#ecd0a8"/><stop offset="1" stop-color="#e8c6a2"/></linearGradient><linearGradient id="p3_2" x1="0" y1="0" x2="0" y2="1"><stop offset="0" stop-color="#e4b098"/><stop offset="0.25" stop-color="#e0a694"/><stop offset="0.5" stop-color="#dd9e90"/><stop offset="0.75" stop-color="#da988c"/><stop offset="1" stop-color="#d69288"/></linearGradient><linearGradient id="p1_3" x1="0" y1="0" x2="0" y2="1"><stop offset="0" stop-color="#e09188"/><stop offset="0.25" stop-color="#e1968c"/><stop offset="0.5" stop-color="#e29c90"/><stop offset="0.75" stop-color="#e4a294"/><stop offset="1" stop-color="#e6a898"/></linearGradient><linearGradient id="p2_3" x1="0" y1="0" x2="0" y2="1"><stop offset="0" stop-color="#eed4a8"/><stop offset="0.25" stop-color="#eed6aa"/><stop offset="0.5" stop-color="#eed6ac"/><stop offset="0.75" stop-color="#ecd0a8"/><stop offset="1" stop-color="#e8c6a2"/></linearGradient><linearGradient id="p3_3" x1="0" y1="0" x2="0" y2="1"><stop offset="0" stop-color="#e4b098"/><stop offset="0.25" stop-color="#e0a694"/><stop offset="0.5" stop-color="#dd9e90"/><stop offset="0.75" stop-color="#da988c"/><stop offset="1" stop-color="#d69288"/></linearGradient><linearGradient id="p1_4" x1="0" y1="0" x2="0" y2="1"><stop offset="0" stop-color="#e09188"/><stop offset="0.25" stop-color="#e1968c"/><stop offset="0.5" stop-color="#e29c90"/><stop offset="0.75" stop-color="#e4a294"/><stop offset="1" stop-color="#e6a898"/></linearGradient><linearGradient id="p2_4" x1="0" y1="0" x2="0" y2="1"><stop offset="0" stop-color="#eed4a8"/><stop offset="0.25" stop-color="#eed6aa"/><stop offset="0.5" stop-color="#eed6ac"/><stop offset="0.75" stop-color="#ecd0a8"/><stop offset="1" stop-color="#e8c6a2"/></linearGradient><linearGradient id="p3_4" x1="0" y1="0" x2="0" y2="1"><stop offset="0" stop-color="#e4b098"/><stop offset="0.25" stop-color="#e0a694"/><stop offset="0.5" stop-color="#dd9e90"/><stop offset="0.75" stop-color="#da988c"/><stop offset="1" stop-color="#d69288"/></linearGradient><linearGradient id="p1_5" x1="0" y1="0" x2="0" y2="1"><stop offset="0" stop-color="#e09188"/><stop offset="0.25" stop-color="#e1968c"/><stop offset="0.5" stop-color="#e29c90"/><stop offset="0.75" stop-color="#e4a294"/><stop offset="1" stop-color="#e6a898"/></linearGradient><linearGradient id="p2_5" x1="0" y1="0" x2="0" y2="1"><stop offset="0" stop-color="#eed4a8"/><stop offset="0.25" stop-color="#eed6aa"/><stop offset="0.5" stop-color="#eed6ac"/><stop offset="0.75" stop-color="#ecd0a8"/><stop offset="1" stop-color="#e8c6a2"/></linearGradient><linearGradient id="p3_5" x1="0" y1="0" x2="0" y2="1"><stop offset="0" stop-color="#e4b098"/><stop offset="0.25" stop-color="#e0a694"/><stop offset="0.5" stop-color="#dd9e90"/><stop offset="0.75" stop-color="#da988c"/><stop offset="1" stop-color="#d69288"/></linearGradient><linearGradient id="p1_6" x1="0" y1="0" x2="0" y2="1"><stop offset="0" stop-color="#e09188"/><stop offset="0.25" stop-color="#e1968c"/><stop offset="0.5" stop-color="#e29c90"/><stop offset="0.75" stop-color="#e4a294"/><stop offset="1" stop-color="#e6a898"/></linearGradient><linearGradient id="p2_6" x1="0" y1="0" x2="0" y2="1"><stop offset="0" stop-color="#eed4a8"/><stop offset="0.25" stop-color="#eed6aa"/><stop offset="0.5" stop-color="#eed6ac"/><stop offset="0.75" stop-color="#ecd0a8"/><stop offset="1" stop-color="#e8c6a2"/></linearGradient><linearGradient id="p3_6" x1="0" y1="0" x2="0" y2="1"><stop offset="0" stop-color="#e4b098"/><stop offset="0.25" stop-color="#e0a694"/><stop offset="0.5" stop-color="#dd9e90"/><stop offset="0.75" stop-color="#da988c"/><stop offset="1" stop-color="#d69288"/></linearGradient><linearGradient id="p1_7" x1="0" y1="0" x2="0" y2="1"><stop offset="0" stop-color="#e1948a"/><stop offset="0.25" stop-color="#e29a8e"/><stop offset="0.5" stop-color="#e3a092"/><stop offset="0.75" stop-color="#e4a696"/><stop offset="1" stop-color="#e6ac9a"/></linearGradient><linearGradient id="p2_7" x1="0" y1="0" x2="0" y2="1"><stop offset="0" stop-color="#efd6aa"/><stop offset="0.25" stop-color="#efd8ad"/><stop offset="0.5" stop-color="#efd9af"/><stop offset="0.75" stop-color="#edd3ac"/><stop offset="1" stop-color="#e9caa6"/></linearGradient><linearGradient id="p3_7" x1="0" y1="0" x2="0" y2="1"><stop offset="0" stop-color="#e4b29a"/><stop offset="0.25" stop-color="#e1a896"/><stop offset="0.5" stop-color="#dea091"/><stop offset="0.75" stop-color="#db9a8d"/><stop offset="1" stop-color="#d69389"/></linearGradient><linearGradient id="p1_8" x1="0" y1="0" x2="0" y2="1"><stop offset="0" stop-color="#e2968c"/><stop offset="0.25" stop-color="#e39d90"/><stop offset="0.5" stop-color="#e3a594"/><stop offset="0.75" stop-color="#e4aa97"/><stop offset="1" stop-color="#e5af9b"/></linearGradient><linearGradient id="p2_8" x1="0" y1="0" x2="0" y2="1"><stop offset="0" stop-color="#f0d8ac"/><stop offset="0.25" stop-color="#f0dbaf"/><stop offset="0.5" stop-color="#f0dbb2"/><stop offset="0.75" stop-color="#eed6af"/><stop offset="1" stop-color="#ebceaa"/></linearGradient><linearGradient id="p3_8" x1="0" y1="0" x2="0" y2="1"><stop offset="0" stop-color="#e5b59b"/><stop offset="0.25" stop-color="#e1ab97"/><stop offset="0.5" stop-color="#dea393"/><stop offset="0.75" stop-color="#db9c8e"/><stop offset="1" stop-color="#d7958a"/></linearGradient><linearGradient id="p1_9" x1="0" y1="0" x2="0" y2="1"><stop offset="0" stop-color="#e3988e"/><stop offset="0.25" stop-color="#e4a192"/><stop offset="0.5" stop-color="#e4a995"/><stop offset="0.75" stop-color="#e5ae99"/><stop offset="1" stop-color="#e5b39d"/></linearGradient><linearGradient id="p2_9" x1="0" y1="0" x2="0" y2="1"><stop offset="0" stop-color="#f0dbaf"/><stop offset="0.25" stop-color="#f1ddb2"/><stop offset="0.5" stop-color="#f1deb5"/><stop offset="0.75" stop-color="#f0dab3"/><stop offset="1" stop-color="#ecd1ad"/></linearGradient><linearGradient id="p3_9" x1="0" y1="0" x2="0" y2="1"><stop offset="0" stop-color="#e6b79c"/><stop offset="0.25" stop-color="#e2ae98"/><stop offset="0.5" stop-color="#dfa594"/><stop offset="0.75" stop-color="#dc9e90"/><stop offset="1" stop-color="#d8968a"/></linearGradient><linearGradient id="p1_10" x1="0" y1="0" x2="0" y2="1"><stop offset="0" stop-color="#e49b90"/><stop offset="0.25" stop-color="#e4a593"/><stop offset="0.5" stop-color="#e5ad97"/><stop offset="0.75" stop-color="#e5b29b"/><stop offset="1" stop-color="#e5b69f"/></linearGradient><linearGradient id="p2_10" x1="0" y1="0" x2="0" y2="1"><stop offset="0" stop-color="#f1ddb1"/><stop offset="0.25" stop-color="#f2dfb4"/><stop offset="0.5" stop-color="#f2e0b8"/><stop offset="0.75" stop-color="#f1ddb6"/><stop offset="1" stop-color="#eed5b1"/></linearGradient><linearGradient id="p3_10" x1="0" y1="0" x2="0" y2="1"><stop offset="0" stop-color="#e6b99e"/><stop offset="0.25" stop-color="#e3b09a"/><stop offset="0.5" stop-color="#e0a795"/><stop offset="0.75" stop-color="#dd9f91"/><stop offset="1" stop-color="#d8978b"/></linearGradient><linearGradient id="p1_11" x1="0" y1="0" x2="0" y2="1"><stop offset="0" stop-color="#e59e92"/><stop offset="0.25" stop-color="#e5a995"/><stop offset="0.5" stop-color="#e6b199"/><stop offset="0.75" stop-color="#e5b69c"/><stop offset="1" stop-color="#e5baa0"/></linearGradient><linearGradient id="p2_11" x1="0" y1="0" x2="0" y2="1"><stop offset="0" stop-color="#f2dfb3"/><stop offset="0.25" stop-color="#f2e2b7"/><stop offset="0.5" stop-color="#f3e3bb"/><stop offset="0.75" stop-color="#f2e0ba"/><stop offset="1" stop-color="#efd9b5"/></linearGradient><linearGradient id="p3_11" x1="0" y1="0" x2="0" y2="1"><stop offset="0" stop-color="#e6bca0"/><stop offset="0.25" stop-color="#e3b29c"/><stop offset="0.5" stop-color="#e1aa97"/><stop offset="0.75" stop-color="#dda192"/><stop offset="1" stop-color="#d8998c"/></linearGradient><linearGradient id="p1_12" x1="0" y1="0" x2="0" y2="1"><stop offset="0" stop-color="#e6a094"/><stop offset="0.25" stop-color="#e6ac97"/><stop offset="0.5" stop-color="#e6b69b"/><stop offset="0.75" stop-color="#e5ba9e"/><stop offset="1" stop-color="#e4bda2"/></linearGradient><linearGradient id="p2_12" x1="0" y1="0" x2="0" y2="1"><stop offset="0" stop-color="#f3e1b5"/><stop offset="0.25" stop-color="#f3e4ba"/><stop offset="0.5" stop-color="#f4e6be"/><stop offset="0.75" stop-color="#f3e3be"/><stop offset="1" stop-color="#f0ddb9"/></linearGradient><linearGradient id="p3_12" x1="0" y1="0" x2="0" y2="1"><stop offset="0" stop-color="#e7bea1"/><stop offset="0.25" stop-color="#e4b59d"/><stop offset="0.5" stop-color="#e2ac98"/><stop offset="0.75" stop-color="#dea393"/><stop offset="1" stop-color="#d99a8d"/></linearGradient><linearGradient id="p1_13" x1="0" y1="0" x2="0" y2="1"><stop offset="0" stop-color="#e6a296"/><stop offset="0.25" stop-color="#e7b099"/><stop offset="0.5" stop-color="#e7ba9c"/><stop offset="0.75" stop-color="#e5bea0"/><stop offset="1" stop-color="#e4c1a4"/></linearGradient><linearGradient id="p2_13" x1="0" y1="0" x2="0" y2="1"><stop offset="0" stop-color="#f4e3b7"/><stop offset="0.25" stop-color="#f4e6bc"/><stop offset="0.5" stop-color="#f5e8c1"/><stop offset="0.75" stop-color="#f4e6c1"/><stop offset="1" stop-color="#f2e1bd"/></linearGradient><linearGradient id="p3_13" x1="0" y1="0" x2="0" y2="1"><stop offset="0" stop-color="#e8c0a2"/><stop offset="0.25" stop-color="#e5b89e"/><stop offset="0.5" stop-color="#e2ae99"/><stop offset="0.75" stop-color="#dfa594"/><stop offset="1" stop-color="#da9b8e"/></linearGradient><linearGradient id="p1_14" x1="0" y1="0" x2="0" y2="1"><stop offset="0" stop-color="#e7a598"/><stop offset="0.25" stop-color="#e8b49b"/><stop offset="0.5" stop-color="#e8be9e"/><stop offset="0.75" stop-color="#e5c2a1"/><stop offset="1" stop-color="#e4c4a5"/></linearGradient><linearGradient id="p2_14" x1="0" y1="0" x2="0" y2="1"><stop offset="0" stop-color="#f4e6ba"/><stop offset="0.25" stop-color="#f5e8bf"/><stop offset="0.5" stop-color="#f6ebc4"/><stop offset="0.75" stop-color="#f6eac5"/><stop offset="1" stop-color="#f3e4c0"/></linearGradient><linearGradient id="p3_14" x1="0" y1="0" x2="0" y2="1"><stop offset="0" stop-color="#e8c3a4"/><stop offset="0.25" stop-color="#e5baa0"/><stop offset="0.5" stop-color="#e3b19b"/><stop offset="0.75" stop-color="#dfa795"/><stop offset="1" stop-color="#da9d8f"/></linearGradient><linearGradient id="p1_15" x1="0" y1="0" x2="0" y2="1"><stop offset="0" stop-color="#e8a89a"/><stop offset="0.25" stop-color="#e8b79d"/><stop offset="0.5" stop-color="#e9c2a0"/><stop offset="0.75" stop-color="#e6c6a3"/><stop offset="1" stop-color="#e4c8a7"/></linearGradient><linearGradient id="p2_15" x1="0" y1="0" x2="0" y2="1"><stop offset="0" stop-color="#f5e8bc"/><stop offset="0.25" stop-color="#f6ebc1"/><stop offset="0.5" stop-color="#f7edc7"/><stop offset="0.75" stop-color="#f7edc8"/><stop offset="1" stop-color="#f5e8c4"/></linearGradient><linearGradient id="p3_15" x1="0" y1="0" x2="0" y2="1"><stop offset="0" stop-color="#e8c5a6"/><stop offset="0.25" stop-color="#e6bca2"/><stop offset="0.5" stop-color="#e4b39c"/><stop offset="0.75" stop-color="#e0a896"/><stop offset="1" stop-color="#da9e90"/></linearGradient><linearGradient id="p1_16" x1="0" y1="0" x2="0" y2="1"><stop offset="0" stop-color="#e9aa9c"/><stop offset="0.25" stop-color="#e9bb9f"/><stop offset="0.5" stop-color="#e9c7a2"/><stop offset="0.75" stop-color="#e6caa5"/><stop offset="1" stop-color="#e3cba9"/></linearGradient><linearGradient id="p2_16" x1="0" y1="0" x2="0" y2="1"><stop offset="0" stop-color="#f6eabe"/><stop offset="0.25" stop-color="#f7edc4"/><stop offset="0.5" stop-color="#f8f0ca"/><stop offset="0.75" stop-color="#f8f0cc"/><stop offset="1" stop-color="#f6ecc8"/></linearGradient><linearGradient id="p3_16" x1="0" y1="0" x2="0" y2="1"><stop offset="0" stop-color="#e9c7a7"/><stop offset="0.25" stop-color="#e7bfa3"/><stop offset="0.5" stop-color="#e4b59d"/><stop offset="0.75" stop-color="#e1aa98"/><stop offset="1" stop-color="#db9f90"/></linearGradient><linearGradient id="p1_17" x1="0" y1="0" x2="0" y2="1"><stop offset="0" stop-color="#eaac9e"/><stop offset="0.25" stop-color="#eabea0"/><stop offset="0.5" stop-color="#eacaa3"/><stop offset="0.75" stop-color="#e6cda6"/><stop offset="1" stop-color="#e3ceaa"/></linearGradient><linearGradient id="p2_17" x1="0" y1="0" x2="0" y2="1"><stop offset="0" stop-color="#f6eabf"/><stop offset="0.25" stop-color="#f7eec5"/><stop offset="0.5" stop-color="#f8f0cb"/><stop offset="0.75" stop-color="#f8f1ce"/><stop offset="1" stop-color="#f6edcb"/></linearGradient><linearGradient id="p3_17" x1="0" y1="0" x2="0" y2="1"><stop offset="0" stop-color="#eacaa8"/><stop offset="0.25" stop-color="#e7c2a4"/><stop offset="0.5" stop-color="#e5b89f"/><stop offset="0.75" stop-color="#e1ac99"/><stop offset="1" stop-color="#dca191"/></linearGradient><linearGradient id="p1_18" x1="0" y1="0" x2="0" y2="1"><stop offset="0" stop-color="#eaae9e"/><stop offset="0.25" stop-color="#eabfa0"/><stop offset="0.5" stop-color="#eacba4"/><stop offset="0.75" stop-color="#e6cda7"/><stop offset="1" stop-color="#e3ceaa"/></linearGradient><linearGradient id="p2_18" x1="0" y1="0" x2="0" y2="1"><stop offset="0" stop-color="#f6ebc0"/><stop offset="0.25" stop-color="#f7eec6"/><stop offset="0.5" stop-color="#f8f1cc"/><stop offset="0.75" stop-color="#f8f1cf"/><stop offset="1" stop-color="#f7eecd"/></linearGradient><linearGradient id="p3_18" x1="0" y1="0" x2="0" y2="1"><stop offset="0" stop-color="#eaccaa"/><stop offset="0.25" stop-color="#e8c4a6"/><stop offset="0.5" stop-color="#e6baa0"/><stop offset="0.75" stop-color="#e2ae9a"/><stop offset="1" stop-color="#dca292"/></linearGradient><linearGradient id="p1_19" x1="0" y1="0" x2="0" y2="1"><stop offset="0" stop-color="#eab09f"/><stop offset="0.25" stop-color="#eac0a1"/><stop offset="0.5" stop-color="#eacba4"/><stop offset="0.75" stop-color="#e6cea7"/><stop offset="1" stop-color="#e3ceab"/></linearGradient><linearGradient id="p2_19" x1="0" y1="0" x2="0" y2="1"><stop offset="0" stop-color="#f6ecc0"/><stop offset="0.25" stop-color="#f8eec7"/><stop offset="0.5" stop-color="#f8f2ce"/><stop offset="0.75" stop-color="#f9f2d1"/><stop offset="1" stop-color="#f8f0d0"/></linearGradient><linearGradient id="p3_19" x1="0" y1="0" x2="0" y2="1"><stop offset="0" stop-color="#eaccaa"/><stop offset="0.25" stop-color="#e8c5a6"/><stop offset="0.5" stop-color="#e6bba1"/><stop offset="0.75" stop-color="#e3b09b"/><stop offset="1" stop-color="#dda493"/></linearGradient><linearGradient id="p1_20" x1="0" y1="0" x2="0" y2="1"><stop offset="0" stop-color="#ebb19f"/><stop offset="0.25" stop-color="#eac1a1"/><stop offset="0.5" stop-color="#e9cca4"/><stop offset="0.75" stop-color="#e6cea8"/><stop offset="1" stop-color="#e3cfab"/></linearGradient><linearGradient id="p2_20" x1="0" y1="0" x2="0" y2="1"><stop offset="0" stop-color="#f7ecc1"/><stop offset="0.25" stop-color="#f8efc8"/><stop offset="0.5" stop-color="#f9f2cf"/><stop offset="0.75" stop-color="#f9f3d3"/><stop offset="1" stop-color="#f8f1d3"/></linearGradient><linearGradient id="p3_20" x1="0" y1="0" x2="0" y2="1"><stop offset="0" stop-color="#eacdaa"/><stop offset="0.25" stop-color="#e8c6a7"/><stop offset="0.5" stop-color="#e6bda2"/><stop offset="0.75" stop-color="#e3b29c"/><stop offset="1" stop-color="#dea795"/></linearGradient><linearGradient id="p1_21" x1="0" y1="0" x2="0" y2="1"><stop offset="0" stop-color="#ebb3a0"/><stop offset="0.25" stop-color="#eac2a2"/><stop offset="0.5" stop-color="#e9cca5"/><stop offset="0.75" stop-color="#e6cea8"/><stop offset="1" stop-color="#e3cfac"/></linearGradient><linearGradient id="p2_21" x1="0" y1="0" x2="0" y2="1"><stop offset="0" stop-color="#f7ecc2"/><stop offset="0.25" stop-color="#f8f0c9"/><stop offset="0.5" stop-color="#f9f2d0"/><stop offset="0.75" stop-color="#f9f3d4"/><stop offset="1" stop-color="#f8f2d5"/></linearGradient><linearGradient id="p3_21" x1="0" y1="0" x2="0" y2="1"><stop offset="0" stop-color="#eacdab"/><stop offset="0.25" stop-color="#e8c6a7"/><stop offset="0.5" stop-color="#e7bea2"/><stop offset="0.75" stop-color="#e4b49d"/><stop offset="1" stop-color="#dfa996"/></linearGradient><linearGradient id="p1_22" x1="0" y1="0" x2="0" y2="1"><stop offset="0" stop-color="#ebb4a0"/><stop offset="0.25" stop-color="#eac4a2"/><stop offset="0.5" stop-color="#e9cda5"/><stop offset="0.75" stop-color="#e6cea9"/><stop offset="1" stop-color="#e3cfac"/></linearGradient><linearGradient id="p2_22" x1="0" y1="0" x2="0" y2="1"><stop offset="0" stop-color="#f7edc3"/><stop offset="0.25" stop-color="#f8f0ca"/><stop offset="0.5" stop-color="#f9f3d1"/><stop offset="0.75" stop-color="#faf4d6"/><stop offset="1" stop-color="#f9f3d8"/></linearGradient><linearGradient id="p3_22" x1="0" y1="0" x2="0" y2="1"><stop offset="0" stop-color="#eaceab"/><stop offset="0.25" stop-color="#e8c7a8"/><stop offset="0.5" stop-color="#e7c0a3"/><stop offset="0.75" stop-color="#e4b69e"/><stop offset="1" stop-color="#e0ac98"/></linearGradient><linearGradient id="p1_23" x1="0" y1="0" x2="0" y2="1"><stop offset="0" stop-color="#ebb6a0"/><stop offset="0.25" stop-color="#eac5a2"/><stop offset="0.5" stop-color="#e9cda6"/><stop offset="0.75" stop-color="#e5cfa9"/><stop offset="1" stop-color="#e4cfac"/></linearGradient><linearGradient id="p2_23" x1="0" y1="0" x2="0" y2="1"><stop offset="0" stop-color="#f7eec4"/><stop offset="0.25" stop-color="#f8f0cb"/><stop offset="0.5" stop-color="#f9f4d2"/><stop offset="0.75" stop-color="#faf5d8"/><stop offset="1" stop-color="#faf4db"/></linearGradient><linearGradient id="p3_23" x1="0" y1="0" x2="0" y2="1"><stop offset="0" stop-color="#eaceab"/><stop offset="0.25" stop-color="#e8c8a8"/><stop offset="0.5" stop-color="#e7c1a4"/><stop offset="0.75" stop-color="#e5b89f"/><stop offset="1" stop-color="#e1ae99"/></linearGradient><linearGradient id="p1_24" x1="0" y1="0" x2="0" y2="1"><stop offset="0" stop-color="#ebb8a1"/><stop offset="0.25" stop-color="#eac6a3"/><stop offset="0.5" stop-color="#e9cea6"/><stop offset="0.75" stop-color="#e5cfaa"/><stop offset="1" stop-color="#e4cfad"/></linearGradient><linearGradient id="p2_24" x1="0" y1="0" x2="0" y2="1"><stop offset="0" stop-color="#f7eec5"/><stop offset="0.25" stop-color="#f8f1cc"/><stop offset="0.5" stop-color="#f9f4d3"/><stop offset="0.75" stop-color="#faf5d9"/><stop offset="1" stop-color="#faf5dd"/></linearGradient><linearGradient id="p3_24" x1="0" y1="0" x2="0" y2="1"><stop offset="0" stop-color="#eaceab"/><stop offset="0.25" stop-color="#e9c9a8"/><stop offset="0.5" stop-color="#e7c2a5"/><stop offset="0.75" stop-color="#e6baa0"/><stop offset="1" stop-color="#e2b09a"/></linearGradient><linearGradient id="p1_25" x1="0" y1="0" x2="0" y2="1"><stop offset="0" stop-color="#ebb9a1"/><stop offset="0.25" stop-color="#eac7a3"/><stop offset="0.5" stop-color="#e9cea7"/><stop offset="0.75" stop-color="#e5cfaa"/><stop offset="1" stop-color="#e4cfad"/></linearGradient><linearGradient id="p2_25" x1="0" y1="0" x2="0" y2="1"><stop offset="0" stop-color="#f8eec6"/><stop offset="0.25" stop-color="#f8f2cd"/><stop offset="0.5" stop-color="#faf4d4"/><stop offset="0.75" stop-color="#faf6db"/><stop offset="1" stop-color="#faf6e0"/></linearGradient><linearGradient id="p3_25" x1="0" y1="0" x2="0" y2="1"><stop offset="0" stop-color="#eacfab"/><stop offset="0.25" stop-color="#e9caa9"/><stop offset="0.5" stop-color="#e7c4a6"/><stop offset="0.75" stop-color="#e6bca1"/><stop offset="1" stop-color="#e3b39c"/></linearGradient><linearGradient id="p1_26" x1="0" y1="0" x2="0" y2="1"><stop offset="0" stop-color="#ecbba1"/><stop offset="0.25" stop-color="#eac8a3"/><stop offset="0.5" stop-color="#e8cfa7"/><stop offset="0.75" stop-color="#e5cfab"/><stop offset="1" stop-color="#e4d0ad"/></linearGradient><linearGradient id="p2_26" x1="0" y1="0" x2="0" y2="1"><stop offset="0" stop-color="#f8efc6"/><stop offset="0.25" stop-color="#f9f2ce"/><stop offset="0.5" stop-color="#faf5d6"/><stop offset="0.75" stop-color="#faf7dd"/><stop offset="1" stop-color="#fbf8e3"/></linearGradient><linearGradient id="p3_26" x1="0" y1="0" x2="0" y2="1"><stop offset="0" stop-color="#eacfac"/><stop offset="0.25" stop-color="#e9caa9"/><stop offset="0.5" stop-color="#e8c5a6"/><stop offset="0.75" stop-color="#e7bea2"/><stop offset="1" stop-color="#e4b59d"/></linearGradient><linearGradient id="p1_27" x1="0" y1="0" x2="0" y2="1"><stop offset="0" stop-color="#ecbca2"/><stop offset="0.25" stop-color="#eac9a4"/><stop offset="0.5" stop-color="#e8cfa8"/><stop offset="0.75" stop-color="#e5d0ab"/><stop offset="1" stop-color="#e4d0ae"/></linearGradient><linearGradient id="p2_27" x1="0" y1="0" x2="0" y2="1"><stop offset="0" stop-color="#f8f0c7"/><stop offset="0.25" stop-color="#f9f2cf"/><stop offset="0.5" stop-color="#faf6d7"/><stop offset="0.75" stop-color="#fbf7de"/><stop offset="1" stop-color="#fcf9e5"/></linearGradient><linearGradient id="p3_27" x1="0" y1="0" x2="0" y2="1"><stop offset="0" stop-color="#ead0ac"/><stop offset="0.25" stop-color="#e9cbaa"/><stop offset="0.5" stop-color="#e8c7a7"/><stop offset="0.75" stop-color="#e7c0a3"/><stop offset="1" stop-color="#e5b89f"/></linearGradient><linearGradient id="p1_28" x1="0" y1="0" x2="0" y2="1"><stop offset="0" stop-color="#ecbea2"/><stop offset="0.25" stop-color="#eacaa4"/><stop offset="0.5" stop-color="#e8d0a8"/><stop offset="0.75" stop-color="#e5d0ac"/><stop offset="1" stop-color="#e4d0ae"/></linearGradient><linearGradient id="p2_28" x1="0" y1="0" x2="0" y2="1"><stop offset="0" stop-color="#f8f0c8"/><stop offset="0.25" stop-color="#f9f3d0"/><stop offset="0.5" stop-color="#faf6d8"/><stop offset="0.75" stop-color="#fbf8e0"/><stop offset="1" stop-color="#fcfae8"/></linearGradient><linearGradient id="p3_28" x1="0" y1="0" x2="0" y2="1"><stop offset="0" stop-color="#ead0ac"/><stop offset="0.25" stop-color="#e9ccaa"/><stop offset="0.5" stop-color="#e8c8a8"/><stop offset="0.75" stop-color="#e8c2a4"/><stop offset="1" stop-color="#e6baa0"/></linearGradient><linearGradient id="p1_29" x1="0" y1="0" x2="0" y2="1"><stop offset="0" stop-color="#ecbea2"/><stop offset="0.25" stop-color="#eacaa4"/><stop offset="0.5" stop-color="#e8d0a8"/><stop offset="0.75" stop-color="#e5d0ac"/><stop offset="1" stop-color="#e4d0ae"/></linearGradient><linearGradient id="p2_29" x1="0" y1="0" x2="0" y2="1"><stop offset="0" stop-color="#f8f0c8"/><stop offset="0.25" stop-color="#f9f3d0"/><stop offset="0.5" stop-color="#faf6d8"/><stop offset="0.75" stop-color="#fbf8e0"/><stop offset="1" stop-color="#fcfae8"/></linearGradient><linearGradient id="p3_29" x1="0" y1="0" x2="0" y2="1"><stop offset="0" stop-color="#ead0ac"/><stop offset="0.25" stop-color="#e9ccaa"/><stop offset="0.5" stop-color="#e8c8a8"/><stop offset="0.75" stop-color="#e8c2a4"/><stop offset="1" stop-color="#e6baa0"/></linearGradient><linearGradient id="p1_30" x1="0" y1="0" x2="0" y2="1"><stop offset="0" stop-color="#ecbea2"/><stop offset="0.25" stop-color="#eacaa4"/><stop offset="0.5" stop-color="#e8d0a8"/><stop offset="0.75" stop-color="#e5d0ac"/><stop offset="1" stop-color="#e4d0ae"/></linearGradient><linearGradient id="p2_30" x1="0" y1="0" x2="0" y2="1"><stop offset="0" stop-color="#f8f0c8"/><stop offset="0.25" stop-color="#f9f3d0"/><stop offset="0.5" stop-color="#faf6d8"/><stop offset="0.75" stop-color="#fbf8e0"/><stop offset="1" stop-color="#fcfae8"/></linearGradient><linearGradient id="p3_30" x1="0" y1="0" x2="0" y2="1"><stop offset="0" stop-color="#ead0ac"/><stop offset="0.25" stop-color="#e9ccaa"/><stop offset="0.5" stop-color="#e8c8a8"/><stop offset="0.75" stop-color="#e8c2a4"/><stop offset="1" stop-color="#e6baa0"/></linearGradient><linearGradient id="p1_31" x1="0" y1="0" x2="0" y2="1"><stop offset="0" stop-color="#ecbea2"/><stop offset="0.25" stop-color="#eacaa4"/><stop offset="0.5" stop-color="#e8d0a8"/><stop offset="0.75" stop-color="#e5d0ac"/><stop offset="1" stop-color="#e4d0ae"/></linearGradient><linearGradient id="p2_31" x1="0" y1="0" x2="0" y2="1"><stop offset="0" stop-color="#f8f0c8"/><stop offset="0.25" stop-color="#f9f3d0"/><stop offset="0.5" stop-color="#faf6d8"/><stop offset="0.75" stop-color="#fbf8e0"/><stop offset="1" stop-color="#fcfae8"/></linearGradient><linearGradient id="p3_31" x1="0" y1="0" x2="0" y2="1"><stop offset="0" stop-color="#ead0ac"/><stop offset="0.25" stop-color="#e9ccaa"/><stop offset="0.5" stop-color="#e8c8a8"/><stop offset="0.75" stop-color="#e8c2a4"/><stop offset="1" stop-color="#e6baa0"/></linearGradient><linearGradient id="p1_32" x1="0" y1="0" x2="0" y2="1"><stop offset="0" stop-color="#ecbea2"/><stop offset="0.25" stop-color="#eacaa4"/><stop offset="0.5" stop-color="#e8d0a8"/><stop offset="0.75" stop-color="#e5d0ac"/><stop offset="1" stop-color="#e4d0ae"/></linearGradient><linearGradient id="p2_32" x1="0" y1="0" x2="0" y2="1"><stop offset="0" stop-color="#f8f0c8"/><stop offset="0.25" stop-color="#f9f3d0"/><stop offset="0.5" stop-color="#faf6d8"/><stop offset="0.75" stop-color="#fbf8e0"/><stop offset="1" stop-color="#fcfae8"/></linearGradient><linearGradient id="p3_32" x1="0" y1="0" x2="0" y2="1"><stop offset="0" stop-color="#ead0ac"/><stop offset="0.25" stop-color="#e9ccaa"/><stop offset="0.5" stop-color="#e8c8a8"/><stop offset="0.75" stop-color="#e8c2a4"/><stop offset="1" stop-color="#e6baa0"/></linearGradient><linearGradient id="p1_33" x1="0" y1="0" x2="0" y2="1"><stop offset="0" stop-color="#ecbea2"/><stop offset="0.25" stop-color="#eacaa4"/><stop offset="0.5" stop-color="#e8d0a8"/><stop offset="0.75" stop-color="#e5d0ac"/><stop offset="1" stop-color="#e4d0ae"/></linearGradient><linearGradient id="p2_33" x1="0" y1="0" x2="0" y2="1"><stop offset="0" stop-color="#f8f0c8"/><stop offset="0.25" stop-color="#f9f3d0"/><stop offset="0.5" stop-color="#faf6d8"/><stop offset="0.75" stop-color="#fbf8e0"/><stop offset="1" stop-color="#fcfae8"/></linearGradient><linearGradient id="p3_33" x1="0" y1="0" x2="0" y2="1"><stop offset="0" stop-color="#ead0ac"/><stop offset="0.25" stop-color="#e9ccaa"/><stop offset="0.5" stop-color="#e8c8a8"/><stop offset="0.75" stop-color="#e8c2a4"/><stop offset="1" stop-color="#e6baa0"/></linearGradient><linearGradient id="p1_34" x1="0" y1="0" x2="0" y2="1"><stop offset="0" stop-color="#ecbea2"/><stop offset="0.25" stop-color="#eacaa4"/><stop offset="0.5" stop-color="#e8d0a8"/><stop offset="0.75" stop-color="#e5d0ac"/><stop offset="1" stop-color="#e4d0ae"/></linearGradient><linearGradient id="p2_34" x1="0" y1="0" x2="0" y2="1"><stop offset="0" stop-color="#f8f0c8"/><stop offset="0.25" stop-color="#f9f3d0"/><stop offset="0.5" stop-color="#faf6d8"/><stop offset="0.75" stop-color="#fbf8e0"/><stop offset="1" stop-color="#fcfae8"/></linearGradient><linearGradient id="p3_34" x1="0" y1="0" x2="0" y2="1"><stop offset="0" stop-color="#ead0ac"/><stop offset="0.25" stop-color="#e9ccaa"/><stop offset="0.5" stop-color="#e8c8a8"/><stop offset="0.75" stop-color="#e8c2a4"/><stop offset="1" stop-color="#e6baa0"/></linearGradient></defs>
<g shape-rendering="crispEdges"><rect x="78" y="606.29" width="1" height="0.33" fill="url(#p1_1)"/><rect x="79" y="606.22" width="1" height="0.38" fill="url(#p1_1)"/><rect x="80" y="606.14" width="1" height="0.44" fill="url(#p1_1)"/><rect x="81" y="606.05" width="1" height="0.51" fill="url(#p1_2)"/><rect x="82" y="605.96" width="1" height="0.58" fill="url(#p1_2)"/><rect x="83" y="605.87" width="1" height="0.65" fill="url(#p1_2)"/><rect x="84" y="605.77" width="1" height="0.73" fill="url(#p1_2)"/><rect x="85" y="605.66" width="1" height="0.81" fill="url(#p1_2)"/><rect x="86" y="605.55" width="1" height="0.9" fill="url(#p1_2)"/><rect x="87" y="605.44" width="1" height="0.98" fill="url(#p1_2)"/><rect x="88" y="605.32" width="1" height="1.08" fill="url(#p1_2)"/><rect x="89" y="605.19" width="1" height="1.17" fill="url(#p1_2)"/><rect x="90" y="605.06" width="1" height="1.28" fill="url(#p1_2)"/><rect x="91" y="604.92" width="1" height="1.38" fill="url(#p1_2)"/><rect x="92" y="604.78" width="1" height="1.49" fill="url(#p1_3)"/><rect x="93" y="604.63" width="1" height="1.6" fill="url(#p1_3)"/><rect x="94" y="604.48" width="1" height="1.72" fill="url(#p1_3)"/><rect x="95" y="604.33" width="1" height="1.84" fill="url(#p1_3)"/><rect x="96" y="604.17" width="1" height="1.96" fill="url(#p1_3)"/><rect x="97" y="604" width="1" height="2.09" fill="url(#p1_3)"/><rect x="98" y="603.83" width="1" height="2.22" fill="url(#p1_3)"/><rect x="99" y="603.65" width="1" height="2.36" fill="url(#p1_3)"/><rect x="100" y="603.47" width="1" height="2.5" fill="url(#p1_3)"/><rect x="101" y="603.28" width="1" height="2.64" fill="url(#p1_3)"/><rect x="102" y="603.09" width="1" height="2.79" fill="url(#p1_3)"/><rect x="103" y="602.89" width="1" height="2.94" fill="url(#p1_4)"/><rect x="104" y="602.69" width="1" height="3.09" fill="url(#p1_4)"/><rect x="105" y="602.49" width="1" height="3.25" fill="url(#p1_4)"/><rect x="106" y="602.28" width="1" height="3.41" fill="url(#p1_4)"/><rect x="107" y="602.06" width="1" height="3.57" fill="url(#p1_4)"/><rect x="108" y="601.84" width="1" height="3.74" fill="url(#p1_4)"/><rect x="109" y="601.62" width="1" height="3.92" fill="url(#p1_4)"/><rect x="110" y="601.39" width="1" height="4.09" fill="url(#p1_4)"/><rect x="111" y="601.15" width="1" height="4.27" fill="url(#p1_4)"/><rect x="112" y="600.91" width="1" height="4.45" fill="url(#p1_4)"/><rect x="113" y="600.67" width="1" height="4.64" fill="url(#p1_4)"/><rect x="114" y="600.42" width="1" height="4.83" fill="url(#p1_5)"/><rect x="115" y="600.16" width="1" height="5.02" fill="url(#p1_5)"/><rect x="116" y="599.91" width="1" height="5.22" fill="url(#p1_5)"/><rect x="117" y="599.64" width="1" height="5.42" fill="url(#p1_5)"/><rect x="118" y="599.38" width="1" height="5.62" fill="url(#p1_5)"/><rect x="119" y="599.1" width="1" height="5.83" fill="url(#p1_5)"/><rect x="120" y="598.83" width="1" height="6.04" fill="url(#p1_5)"/><rect x="121" y="598.55" width="1" height="6.26" fill="url(#p1_5)"/><rect x="122" y="598.26" width="1" height="6.47" fill="url(#p1_5)"/><rect x="123" y="597.97" width="1" height="6.69" fill="url(#p1_5)"/><rect x="124" y="597.68" width="1" height="6.92" fill="url(#p1_5)"/><rect x="125" y="597.38" width="1" height="7.14" fill="url(#p1_6)"/><rect x="126" y="597.08" width="1" height="7.37" fill="url(#p1_6)"/><rect x="127" y="596.77" width="1" height="7.61" fill="url(#p1_6)"/><rect x="128" y="596.46" width="1" height="7.84" fill="url(#p1_6)"/><rect x="129" y="596.14" width="1" height="8.08" fill="url(#p1_6)"/><rect x="130" y="595.82" width="1" height="8.32" fill="url(#p1_6)"/><rect x="131" y="595.5" width="1" height="8.57" fill="url(#p1_6)"/><rect x="132" y="595.17" width="1" height="8.82" fill="url(#p1_6)"/><rect x="133" y="594.84" width="1" height="9.07" fill="url(#p1_6)"/><rect x="134" y="594.5" width="1" height="9.32" fill="url(#p1_6)"/><rect x="135" y="594.16" width="1" height="9.58" fill="url(#p1_6)"/><rect x="136" y="593.82" width="1" height="9.84" fill="url(#p1_7)"/><rect x="137" y="593.47" width="1" height="10.1" fill="url(#p1_7)"/><rect x="138" y="593.12" width="1" height="10.37" fill="url(#p1_7)"/><rect x="139" y="592.76" width="1" height="10.64" fill="url(#p1_7)"/><rect x="140" y="592.4" width="1" height="10.91" fill="url(#p1_7)"/><rect x="141" y="592.04" width="1" height="11.18" fill="url(#p1_7)"/><rect x="142" y="591.67" width="1" height="11.46" fill="url(#p1_7)"/><rect x="143" y="591.3" width="1" height="11.74" fill="url(#p1_7)"/><rect x="144" y="590.92" width="1" height="12.02" fill="url(#p1_7)"/><rect x="145" y="590.54" width="1" height="12.3" fill="url(#p1_7)"/><rect x="146" y="590.16" width="1" height="12.59" fill="url(#p1_7)"/><rect x="147" y="589.77" width="1" height="12.88" fill="url(#p1_8)"/><rect x="148" y="589.38" width="1" height="13.17" fill="url(#p1_8)"/><rect x="149" y="588.99" width="1" height="13.47" fill="url(#p1_8)"/><rect x="150" y="588.59" width="1" height="13.76" fill="url(#p1_8)"/><rect x="151" y="588.19" width="1" height="14.06" fill="url(#p1_8)"/><rect x="152" y="587.79" width="1" height="14.37" fill="url(#p1_8)"/><rect x="153" y="587.38" width="1" height="14.67" fill="url(#p1_8)"/><rect x="154" y="586.97" width="1" height="14.98" fill="url(#p1_8)"/><rect x="155" y="586.56" width="1" height="15.29" fill="url(#p1_8)"/><rect x="156" y="586.14" width="1" height="15.6" fill="url(#p1_8)"/><rect x="157" y="585.72" width="1" height="15.91" fill="url(#p1_9)"/><rect x="158" y="585.3" width="1" height="16.23" fill="url(#p1_9)"/><rect x="159" y="584.87" width="1" height="16.54" fill="url(#p1_9)"/><rect x="160" y="584.44" width="1" height="16.86" fill="url(#p1_9)"/><rect x="161" y="584.01" width="1" height="17.18" fill="url(#p1_9)"/><rect x="162" y="583.57" width="1" height="17.51" fill="url(#p1_9)"/><rect x="163" y="583.13" width="1" height="17.83" fill="url(#p1_9)"/><rect x="164" y="582.69" width="1" height="18.16" fill="url(#p1_9)"/><rect x="165" y="582.24" width="1" height="18.49" fill="url(#p1_9)"/><rect x="166" y="581.8" width="1" height="18.82" fill="url(#p1_9)"/><rect x="167" y="581.35" width="1" height="19.16" fill="url(#p1_9)"/><rect x="168" y="580.89" width="1" height="19.49" fill="url(#p1_10)"/><rect x="169" y="580.44" width="1" height="19.83" fill="url(#p1_10)"/><rect x="170" y="579.98" width="1" height="20.17" fill="url(#p1_10)"/><rect x="171" y="579.51" width="1" height="20.51" fill="url(#p1_10)"/><rect x="172" y="579.05" width="1" height="20.85" fill="url(#p1_10)"/><rect x="173" y="578.58" width="1" height="21.19" fill="url(#p1_10)"/><rect x="174" y="578.11" width="1" height="21.54" fill="url(#p1_10)"/><rect x="175" y="577.64" width="1" height="21.89" fill="url(#p1_10)"/><rect x="176" y="577.17" width="1" height="22.24" fill="url(#p1_10)"/><rect x="177" y="576.69" width="1" height="22.59" fill="url(#p1_10)"/><rect x="178" y="576.21" width="1" height="22.94" fill="url(#p1_10)"/><rect x="179" y="575.73" width="1" height="23.29" fill="url(#p1_11)"/><rect x="180" y="575.25" width="1" height="23.64" fill="url(#p1_11)"/><rect x="181" y="574.76" width="1" height="24" fill="url(#p1_11)"/><rect x="182" y="574.27" width="1" height="24.36" fill="url(#p1_11)"/><rect x="183" y="573.78" width="1" height="24.72" fill="url(#p1_11)"/><rect x="184" y="573.29" width="1" height="25.07" fill="url(#p1_11)"/><rect x="185" y="572.79" width="1" height="25.44" fill="url(#p1_11)"/><rect x="186" y="572.3" width="1" height="25.8" fill="url(#p1_11)"/><rect x="187" y="571.8" width="1" height="26.16" fill="url(#p1_11)"/><rect x="188" y="571.3" width="1" height="26.53" fill="url(#p1_11)"/><rect x="189" y="570.8" width="1" height="26.89" fill="url(#p1_11)"/><rect x="190" y="570.29" width="1" height="27.26" fill="url(#p1_12)"/><rect x="191" y="569.79" width="1" height="27.62" fill="url(#p1_12)"/><rect x="192" y="569.28" width="1" height="27.99" fill="url(#p1_12)"/><rect x="193" y="568.77" width="1" height="28.36" fill="url(#p1_12)"/><rect x="194" y="568.26" width="1" height="28.73" fill="url(#p1_12)"/><rect x="195" y="567.75" width="1" height="29.05" fill="url(#p1_12)"/><rect x="196" y="567.23" width="1" height="29.08" fill="url(#p1_12)"/><rect x="197" y="566.71" width="1" height="29.08" fill="url(#p1_12)"/><rect x="198" y="566.2" width="1" height="29.08" fill="url(#p1_12)"/><rect x="199" y="565.68" width="1" height="29.08" fill="url(#p1_12)"/><rect x="200" y="565.16" width="1" height="29.08" fill="url(#p1_12)"/><rect x="201" y="564.64" width="1" height="29.08" fill="url(#p1_13)"/><rect x="202" y="564.11" width="1" height="29.09" fill="url(#p1_13)"/><rect x="203" y="563.59" width="1" height="29.09" fill="url(#p1_13)"/><rect x="204" y="563.06" width="1" height="29.1" fill="url(#p1_13)"/><rect x="205" y="562.54" width="1" height="29.1" fill="url(#p1_13)"/><rect x="206" y="562.01" width="1" height="29.11" fill="url(#p1_13)"/><rect x="207" y="561.48" width="1" height="29.11" fill="url(#p1_13)"/><rect x="208" y="560.95" width="1" height="29.12" fill="url(#p1_13)"/><rect x="209" y="560.42" width="1" height="29.13" fill="url(#p1_13)"/><rect x="210" y="559.89" width="1" height="29.14" fill="url(#p1_13)"/><rect x="211" y="559.36" width="1" height="29.15" fill="url(#p1_13)"/><rect x="212" y="558.82" width="1" height="29.16" fill="url(#p1_14)"/><rect x="213" y="558.29" width="1" height="29.17" fill="url(#p1_14)"/><rect x="214" y="557.75" width="1" height="29.18" fill="url(#p1_14)"/><rect x="215" y="557.22" width="1" height="29.19" fill="url(#p1_14)"/><rect x="216" y="556.68" width="1" height="29.21" fill="url(#p1_14)"/><rect x="217" y="556.14" width="1" height="29.22" fill="url(#p1_14)"/><rect x="218" y="555.61" width="1" height="29.23" fill="url(#p1_14)"/><rect x="219" y="555.07" width="1" height="29.25" fill="url(#p1_14)"/><rect x="220" y="554.53" width="1" height="29.26" fill="url(#p1_14)"/><rect x="221" y="553.99" width="1" height="29.28" fill="url(#p1_14)"/><rect x="222" y="553.45" width="1" height="29.3" fill="url(#p1_14)"/><rect x="223" y="552.91" width="1" height="29.31" fill="url(#p1_15)"/><rect x="224" y="552.37" width="1" height="29.33" fill="url(#p1_15)"/><rect x="225" y="551.83" width="1" height="29.35" fill="url(#p1_15)"/><rect x="226" y="551.29" width="1" height="29.37" fill="url(#p1_15)"/><rect x="227" y="550.75" width="1" height="29.39" fill="url(#p1_15)"/><rect x="228" y="550.2" width="1" height="29.41" fill="url(#p1_15)"/><rect x="229" y="549.66" width="1" height="29.43" fill="url(#p1_15)"/><rect x="230" y="549.12" width="1" height="29.45" fill="url(#p1_15)"/><rect x="231" y="548.58" width="1" height="29.47" fill="url(#p1_15)"/><rect x="232" y="548.04" width="1" height="29.49" fill="url(#p1_15)"/><rect x="233" y="547.49" width="1" height="29.52" fill="url(#p1_15)"/><rect x="234" y="546.95" width="1" height="29.54" fill="url(#p1_16)"/><rect x="235" y="546.41" width="1" height="29.56" fill="url(#p1_16)"/><rect x="236" y="545.87" width="1" height="29.59" fill="url(#p1_16)"/><rect x="237" y="545.33" width="1" height="29.61" fill="url(#p1_16)"/><rect x="238" y="544.79" width="1" height="29.64" fill="url(#p1_16)"/><rect x="239" y="544.25" width="1" height="29.66" fill="url(#p1_16)"/><rect x="240" y="543.71" width="1" height="29.69" fill="url(#p1_16)"/><rect x="241" y="543.17" width="1" height="29.71" fill="url(#p1_16)"/><rect x="242" y="542.63" width="1" height="29.74" fill="url(#p1_16)"/><rect x="243" y="542.09" width="1" height="29.77" fill="url(#p1_16)"/><rect x="244" y="541.55" width="1" height="29.79" fill="url(#p1_16)"/><rect x="245" y="541.01" width="1" height="29.82" fill="url(#p1_17)"/><rect x="246" y="540.47" width="1" height="29.85" fill="url(#p1_17)"/><rect x="247" y="539.93" width="1" height="29.88" fill="url(#p1_17)"/><rect x="248" y="539.4" width="1" height="29.91" fill="url(#p1_17)"/><rect x="249" y="538.86" width="1" height="29.94" fill="url(#p1_17)"/><rect x="250" y="538.33" width="1" height="29.97" fill="url(#p1_17)"/><rect x="251" y="537.79" width="1" height="30" fill="url(#p1_17)"/><rect x="252" y="537.26" width="1" height="30.03" fill="url(#p1_17)"/><rect x="253" y="536.73" width="1" height="30.06" fill="url(#p1_17)"/><rect x="254" y="536.19" width="1" height="30.09" fill="url(#p1_17)"/><rect x="255" y="535.66" width="1" height="30.12" fill="url(#p1_18)"/><rect x="256" y="535.13" width="1" height="30.15" fill="url(#p1_18)"/><rect x="257" y="534.6" width="1" height="30.18" fill="url(#p1_18)"/><rect x="258" y="534.07" width="1" height="30.21" fill="url(#p1_18)"/><rect x="259" y="533.55" width="1" height="30.24" fill="url(#p1_18)"/><rect x="260" y="533.02" width="1" height="30.27" fill="url(#p1_18)"/><rect x="261" y="532.5" width="1" height="30.3" fill="url(#p1_18)"/><rect x="262" y="531.97" width="1" height="30.34" fill="url(#p1_18)"/><rect x="263" y="531.45" width="1" height="30.37" fill="url(#p1_18)"/><rect x="264" y="530.93" width="1" height="30.4" fill="url(#p1_18)"/><rect x="265" y="530.41" width="1" height="30.43" fill="url(#p1_18)"/><rect x="266" y="529.89" width="1" height="30.46" fill="url(#p1_19)"/><rect x="267" y="529.37" width="1" height="30.5" fill="url(#p1_19)"/><rect x="268" y="528.85" width="1" height="30.53" fill="url(#p1_19)"/><rect x="269" y="528.34" width="1" height="30.56" fill="url(#p1_19)"/><rect x="270" y="527.82" width="1" height="30.59" fill="url(#p1_19)"/><rect x="271" y="527.31" width="1" height="30.63" fill="url(#p1_19)"/><rect x="272" y="526.8" width="1" height="30.66" fill="url(#p1_19)"/><rect x="273" y="526.29" width="1" height="30.69" fill="url(#p1_19)"/><rect x="274" y="525.78" width="1" height="30.72" fill="url(#p1_19)"/><rect x="275" y="525.28" width="1" height="30.75" fill="url(#p1_19)"/><rect x="276" y="524.77" width="1" height="30.79" fill="url(#p1_19)"/><rect x="277" y="524.27" width="1" height="30.82" fill="url(#p1_20)"/><rect x="278" y="523.77" width="1" height="30.85" fill="url(#p1_20)"/><rect x="279" y="523.27" width="1" height="30.88" fill="url(#p1_20)"/><rect x="280" y="522.77" width="1" height="30.91" fill="url(#p1_20)"/><rect x="281" y="522.27" width="1" height="30.95" fill="url(#p1_20)"/><rect x="282" y="521.78" width="1" height="30.98" fill="url(#p1_20)"/><rect x="283" y="521.28" width="1" height="31.01" fill="url(#p1_20)"/><rect x="284" y="520.79" width="1" height="31.04" fill="url(#p1_20)"/><rect x="285" y="520.3" width="1" height="31.07" fill="url(#p1_20)"/><rect x="286" y="519.81" width="1" height="31.1" fill="url(#p1_20)"/><rect x="287" y="519.33" width="1" height="31.13" fill="url(#p1_20)"/><rect x="288" y="518.84" width="1" height="31.16" fill="url(#p1_21)"/><rect x="289" y="518.36" width="1" height="31.19" fill="url(#p1_21)"/><rect x="290" y="517.88" width="1" height="31.22" fill="url(#p1_21)"/><rect x="291" y="517.4" width="1" height="31.25" fill="url(#p1_21)"/><rect x="292" y="516.93" width="1" height="31.28" fill="url(#p1_21)"/><rect x="293" y="516.45" width="1" height="31.31" fill="url(#p1_21)"/><rect x="294" y="515.98" width="1" height="31.33" fill="url(#p1_21)"/><rect x="295" y="515.51" width="1" height="31.36" fill="url(#p1_21)"/><rect x="296" y="515.05" width="1" height="31.39" fill="url(#p1_21)"/><rect x="297" y="514.58" width="1" height="31.42" fill="url(#p1_21)"/><rect x="298" y="514.12" width="1" height="31.44" fill="url(#p1_21)"/><rect x="299" y="513.66" width="1" height="31.47" fill="url(#p1_22)"/><rect x="300" y="513.2" width="1" height="31.49" fill="url(#p1_22)"/><rect x="301" y="512.74" width="1" height="31.52" fill="url(#p1_22)"/><rect x="302" y="512.28" width="1" height="31.55" fill="url(#p1_22)"/><rect x="303" y="511.83" width="1" height="31.57" fill="url(#p1_22)"/><rect x="304" y="511.38" width="1" height="31.6" fill="url(#p1_22)"/><rect x="305" y="510.93" width="1" height="31.62" fill="url(#p1_22)"/><rect x="306" y="510.49" width="1" height="31.64" fill="url(#p1_22)"/><rect x="307" y="510.05" width="1" height="31.67" fill="url(#p1_22)"/><rect x="308" y="509.61" width="1" height="31.69" fill="url(#p1_22)"/><rect x="309" y="509.17" width="1" height="31.71" fill="url(#p1_22)"/><rect x="310" y="508.73" width="1" height="31.73" fill="url(#p1_23)"/><rect x="311" y="508.3" width="1" height="31.75" fill="url(#p1_23)"/><rect x="312" y="507.87" width="1" height="31.77" fill="url(#p1_23)"/><rect x="313" y="507.44" width="1" height="31.79" fill="url(#p1_23)"/><rect x="314" y="507.01" width="1" height="31.81" fill="url(#p1_23)"/><rect x="315" y="506.59" width="1" height="31.83" fill="url(#p1_23)"/><rect x="316" y="506.17" width="1" height="31.85" fill="url(#p1_23)"/><rect x="317" y="505.75" width="1" height="31.87" fill="url(#p1_23)"/><rect x="318" y="505.33" width="1" height="31.89" fill="url(#p1_23)"/><rect x="319" y="504.92" width="1" height="31.9" fill="url(#p1_23)"/><rect x="320" y="504.51" width="1" height="31.92" fill="url(#p1_23)"/><rect x="321" y="504.1" width="1" height="31.94" fill="url(#p1_24)"/><rect x="322" y="503.69" width="1" height="31.95" fill="url(#p1_24)"/><rect x="323" y="503.29" width="1" height="31.97" fill="url(#p1_24)"/><rect x="324" y="502.89" width="1" height="31.98" fill="url(#p1_24)"/><rect x="325" y="502.49" width="1" height="32" fill="url(#p1_24)"/><rect x="326" y="502.1" width="1" height="32.01" fill="url(#p1_24)"/><rect x="327" y="501.71" width="1" height="32.02" fill="url(#p1_24)"/><rect x="328" y="501.32" width="1" height="32.03" fill="url(#p1_24)"/><rect x="329" y="500.93" width="1" height="32.05" fill="url(#p1_24)"/><rect x="330" y="500.54" width="1" height="32.06" fill="url(#p1_24)"/><rect x="331" y="500.16" width="1" height="32.07" fill="url(#p1_24)"/><rect x="332" y="499.78" width="1" height="32.08" fill="url(#p1_25)"/><rect x="333" y="499.41" width="1" height="32.09" fill="url(#p1_25)"/><rect x="334" y="499.04" width="1" height="32.09" fill="url(#p1_25)"/><rect x="335" y="498.66" width="1" height="32.1" fill="url(#p1_25)"/><rect x="336" y="498.3" width="1" height="32.11" fill="url(#p1_25)"/><rect x="337" y="497.93" width="1" height="32.12" fill="url(#p1_25)"/><rect x="338" y="497.57" width="1" height="32.12" fill="url(#p1_25)"/><rect x="339" y="497.21" width="1" height="32.13" fill="url(#p1_25)"/><rect x="340" y="496.85" width="1" height="32.14" fill="url(#p1_25)"/><rect x="341" y="496.5" width="1" height="32.14" fill="url(#p1_25)"/><rect x="342" y="496.15" width="1" height="32.15" fill="url(#p1_25)"/><rect x="343" y="495.8" width="1" height="32.15" fill="url(#p1_26)"/><rect x="344" y="495.46" width="1" height="32.15" fill="url(#p1_26)"/><rect x="345" y="495.11" width="1" height="32.15" fill="url(#p1_26)"/><rect x="346" y="494.78" width="1" height="32.16" fill="url(#p1_26)"/><rect x="347" y="494.44" width="1" height="32.16" fill="url(#p1_26)"/><rect x="348" y="494.11" width="1" height="32.16" fill="url(#p1_26)"/><rect x="349" y="493.78" width="1" height="32.16" fill="url(#p1_26)"/><rect x="350" y="493.45" width="1" height="32.16" fill="url(#p1_26)"/><rect x="351" y="493.12" width="1" height="32.16" fill="url(#p1_26)"/><rect x="352" y="492.8" width="1" height="32.16" fill="url(#p1_26)"/><rect x="353" y="492.48" width="1" height="32.16" fill="url(#p1_27)"/><rect x="354" y="492.17" width="1" height="32.15" fill="url(#p1_27)"/><rect x="355" y="491.85" width="1" height="32.15" fill="url(#p1_27)"/><rect x="356" y="491.54" width="1" height="32.15" fill="url(#p1_27)"/><rect x="357" y="491.24" width="1" height="32.15" fill="url(#p1_27)"/><rect x="358" y="490.93" width="1" height="32.14" fill="url(#p1_27)"/><rect x="359" y="490.63" width="1" height="32.14" fill="url(#p1_27)"/><rect x="360" y="490.33" width="1" height="32.13" fill="url(#p1_27)"/><rect x="361" y="490.04" width="1" height="32.13" fill="url(#p1_27)"/><rect x="362" y="489.75" width="1" height="32.12" fill="url(#p1_27)"/><rect x="363" y="489.46" width="1" height="32.12" fill="url(#p1_27)"/><rect x="364" y="489.17" width="1" height="32.11" fill="url(#p1_28)"/><rect x="365" y="488.89" width="1" height="32.1" fill="url(#p1_28)"/><rect x="366" y="488.61" width="1" height="32.09" fill="url(#p1_28)"/><rect x="367" y="488.33" width="1" height="32.09" fill="url(#p1_28)"/><rect x="368" y="488.06" width="1" height="32.08" fill="url(#p1_28)"/><rect x="369" y="487.79" width="1" height="32.07" fill="url(#p1_28)"/><rect x="370" y="487.52" width="1" height="32.06" fill="url(#p1_28)"/><rect x="371" y="487.26" width="1" height="32.05" fill="url(#p1_28)"/><rect x="372" y="486.99" width="1" height="32.04" fill="url(#p1_28)"/><rect x="373" y="486.74" width="1" height="32.03" fill="url(#p1_28)"/><rect x="374" y="486.48" width="1" height="32.02" fill="url(#p1_28)"/><rect x="375" y="486.23" width="1" height="32.01" fill="url(#p1_29)"/><rect x="376" y="485.98" width="1" height="32" fill="url(#p1_29)"/><rect x="377" y="485.73" width="1" height="31.99" fill="url(#p1_29)"/><rect x="378" y="485.49" width="1" height="31.98" fill="url(#p1_29)"/><rect x="379" y="485.25" width="1" height="31.97" fill="url(#p1_29)"/><rect x="380" y="485.01" width="1" height="31.95" fill="url(#p1_29)"/><rect x="381" y="484.78" width="1" height="31.94" fill="url(#p1_29)"/><rect x="382" y="484.55" width="1" height="31.93" fill="url(#p1_29)"/><rect x="383" y="484.32" width="1" height="31.92" fill="url(#p1_29)"/><rect x="384" y="484.09" width="1" height="31.9" fill="url(#p1_29)"/><rect x="385" y="483.87" width="1" height="31.89" fill="url(#p1_29)"/><rect x="386" y="483.65" width="1" height="31.88" fill="url(#p1_30)"/><rect x="387" y="483.44" width="1" height="31.86" fill="url(#p1_30)"/><rect x="388" y="483.22" width="1" height="31.85" fill="url(#p1_30)"/><rect x="389" y="483.01" width="1" height="31.84" fill="url(#p1_30)"/><rect x="390" y="482.81" width="1" height="31.82" fill="url(#p1_30)"/><rect x="391" y="482.6" width="1" height="31.81" fill="url(#p1_30)"/><rect x="392" y="482.4" width="1" height="31.79" fill="url(#p1_30)"/><rect x="393" y="482.21" width="1" height="31.78" fill="url(#p1_30)"/><rect x="394" y="482.01" width="1" height="31.77" fill="url(#p1_30)"/><rect x="395" y="481.82" width="1" height="31.75" fill="url(#p1_30)"/><rect x="396" y="481.63" width="1" height="31.74" fill="url(#p1_30)"/><rect x="397" y="481.45" width="1" height="31.72" fill="url(#p1_31)"/><rect x="398" y="481.27" width="1" height="31.71" fill="url(#p1_31)"/><rect x="399" y="481.09" width="1" height="31.69" fill="url(#p1_31)"/><rect x="400" y="480.91" width="1" height="31.68" fill="url(#p1_31)"/><rect x="401" y="480.74" width="1" height="31.66" fill="url(#p1_31)"/><rect x="402" y="480.57" width="1" height="31.65" fill="url(#p1_31)"/><rect x="403" y="480.4" width="1" height="31.63" fill="url(#p1_31)"/><rect x="404" y="480.24" width="1" height="31.62" fill="url(#p1_31)"/><rect x="405" y="480.08" width="1" height="31.6" fill="url(#p1_31)"/><rect x="406" y="479.92" width="1" height="31.59" fill="url(#p1_31)"/><rect x="407" y="479.77" width="1" height="31.58" fill="url(#p1_31)"/><rect x="408" y="479.62" width="1" height="31.56" fill="url(#p1_32)"/><rect x="409" y="479.47" width="1" height="31.55" fill="url(#p1_32)"/><rect x="410" y="479.33" width="1" height="31.53" fill="url(#p1_32)"/><rect x="411" y="479.19" width="1" height="31.52" fill="url(#p1_32)"/><rect x="412" y="479.05" width="1" height="31.5" fill="url(#p1_32)"/><rect x="413" y="478.91" width="1" height="31.49" fill="url(#p1_32)"/><rect x="414" y="478.78" width="1" height="31.48" fill="url(#p1_32)"/><rect x="415" y="478.65" width="1" height="31.46" fill="url(#p1_32)"/><rect x="416" y="478.53" width="1" height="31.45" fill="url(#p1_32)"/><rect x="417" y="478.4" width="1" height="31.44" fill="url(#p1_32)"/><rect x="418" y="478.28" width="1" height="31.42" fill="url(#p1_32)"/><rect x="419" y="478.17" width="1" height="31.41" fill="url(#p1_33)"/><rect x="420" y="478.05" width="1" height="31.4" fill="url(#p1_33)"/><rect x="421" y="477.94" width="1" height="31.39" fill="url(#p1_33)"/><rect x="422" y="477.83" width="1" height="31.37" fill="url(#p1_33)"/><rect x="423" y="477.73" width="1" height="31.36" fill="url(#p1_33)"/><rect x="424" y="477.63" width="1" height="31.35" fill="url(#p1_33)"/><rect x="425" y="477.53" width="1" height="31.34" fill="url(#p1_33)"/><rect x="426" y="477.43" width="1" height="31.33" fill="url(#p1_33)"/><rect x="427" y="477.34" width="1" height="31.32" fill="url(#p1_33)"/><rect x="428" y="477.25" width="1" height="31.31" fill="url(#p1_33)"/><rect x="429" y="477.17" width="1" height="31.3" fill="url(#p1_33)"/><rect x="430" y="477.08" width="1" height="31.29" fill="url(#p1_34)"/><rect x="431" y="477" width="1" height="31.28" fill="url(#p1_34)"/><rect x="432" y="476.93" width="1" height="31.27" fill="url(#p1_34)"/><rect x="433" y="476.85" width="1" height="31.26" fill="url(#p1_34)"/><rect x="434" y="476.78" width="1" height="31.25" fill="url(#p1_34)"/><rect x="435" y="476.74" width="1" height="31.24" fill="url(#p1_34)"/></g>
<g shape-rendering="crispEdges"><rect x="64" y="638.25" width="1" height="0.61" fill="url(#p2_0)"/><rect x="65" y="638.25" width="1" height="0.61" fill="url(#p2_0)"/><rect x="66" y="638.24" width="1" height="0.61" fill="url(#p2_0)"/><rect x="67" y="638.23" width="1" height="0.62" fill="url(#p2_0)"/><rect x="68" y="638.21" width="1" height="0.63" fill="url(#p2_0)"/><rect x="69" y="638.19" width="1" height="0.64" fill="url(#p2_0)"/><rect x="70" y="638.16" width="1" height="0.66" fill="url(#p2_1)"/><rect x="71" y="638.12" width="1" height="0.68" fill="url(#p2_1)"/><rect x="72" y="638.08" width="1" height="0.7" fill="url(#p2_1)"/><rect x="73" y="638.03" width="1" height="0.73" fill="url(#p2_1)"/><rect x="74" y="637.98" width="1" height="0.76" fill="url(#p2_1)"/><rect x="75" y="637.92" width="1" height="0.79" fill="url(#p2_1)"/><rect x="76" y="637.85" width="1" height="0.82" fill="url(#p2_1)"/><rect x="77" y="637.78" width="1" height="0.86" fill="url(#p2_1)"/><rect x="78" y="637.7" width="1" height="0.9" fill="url(#p2_1)"/><rect x="79" y="637.62" width="1" height="0.95" fill="url(#p2_1)"/><rect x="80" y="637.53" width="1" height="1" fill="url(#p2_1)"/><rect x="81" y="637.43" width="1" height="1.05" fill="url(#p2_2)"/><rect x="82" y="637.33" width="1" height="1.1" fill="url(#p2_2)"/><rect x="83" y="637.22" width="1" height="1.16" fill="url(#p2_2)"/><rect x="84" y="637.11" width="1" height="1.21" fill="url(#p2_2)"/><rect x="85" y="636.99" width="1" height="1.28" fill="url(#p2_2)"/><rect x="86" y="636.87" width="1" height="1.34" fill="url(#p2_2)"/><rect x="87" y="636.74" width="1" height="1.41" fill="url(#p2_2)"/><rect x="88" y="636.6" width="1" height="1.48" fill="url(#p2_2)"/><rect x="89" y="636.46" width="1" height="1.56" fill="url(#p2_2)"/><rect x="90" y="636.32" width="1" height="1.63" fill="url(#p2_2)"/><rect x="91" y="636.16" width="1" height="1.71" fill="url(#p2_2)"/><rect x="92" y="636" width="1" height="1.8" fill="url(#p2_3)"/><rect x="93" y="635.84" width="1" height="1.88" fill="url(#p2_3)"/><rect x="94" y="635.67" width="1" height="1.97" fill="url(#p2_3)"/><rect x="95" y="635.5" width="1" height="2.06" fill="url(#p2_3)"/><rect x="96" y="635.32" width="1" height="2.16" fill="url(#p2_3)"/><rect x="97" y="635.13" width="1" height="2.25" fill="url(#p2_3)"/><rect x="98" y="634.94" width="1" height="2.35" fill="url(#p2_3)"/><rect x="99" y="634.74" width="1" height="2.45" fill="url(#p2_3)"/><rect x="100" y="634.54" width="1" height="2.56" fill="url(#p2_3)"/><rect x="101" y="634.33" width="1" height="2.67" fill="url(#p2_3)"/><rect x="102" y="634.12" width="1" height="2.78" fill="url(#p2_3)"/><rect x="103" y="633.9" width="1" height="2.89" fill="url(#p2_4)"/><rect x="104" y="633.67" width="1" height="3" fill="url(#p2_4)"/><rect x="105" y="633.45" width="1" height="3.12" fill="url(#p2_4)"/><rect x="106" y="633.21" width="1" height="3.24" fill="url(#p2_4)"/><rect x="107" y="632.97" width="1" height="3.36" fill="url(#p2_4)"/><rect x="108" y="632.73" width="1" height="3.48" fill="url(#p2_4)"/><rect x="109" y="632.48" width="1" height="3.61" fill="url(#p2_4)"/><rect x="110" y="632.22" width="1" height="3.74" fill="url(#p2_4)"/><rect x="111" y="631.96" width="1" height="3.87" fill="url(#p2_4)"/><rect x="112" y="631.7" width="1" height="4" fill="url(#p2_4)"/><rect x="113" y="631.43" width="1" height="4.14" fill="url(#p2_4)"/><rect x="114" y="631.15" width="1" height="4.27" fill="url(#p2_5)"/><rect x="115" y="630.87" width="1" height="4.41" fill="url(#p2_5)"/><rect x="116" y="630.59" width="1" height="4.55" fill="url(#p2_5)"/><rect x="117" y="630.3" width="1" height="4.7" fill="url(#p2_5)"/><rect x="118" y="630.01" width="1" height="4.84" fill="url(#p2_5)"/><rect x="119" y="629.71" width="1" height="4.99" fill="url(#p2_5)"/><rect x="120" y="629.4" width="1" height="5.14" fill="url(#p2_5)"/><rect x="121" y="629.09" width="1" height="5.29" fill="url(#p2_5)"/><rect x="122" y="628.78" width="1" height="5.44" fill="url(#p2_5)"/><rect x="123" y="628.46" width="1" height="5.59" fill="url(#p2_5)"/><rect x="124" y="628.14" width="1" height="5.75" fill="url(#p2_5)"/><rect x="125" y="627.82" width="1" height="5.9" fill="url(#p2_6)"/><rect x="126" y="627.48" width="1" height="6.06" fill="url(#p2_6)"/><rect x="127" y="627.15" width="1" height="6.22" fill="url(#p2_6)"/><rect x="128" y="626.81" width="1" height="6.38" fill="url(#p2_6)"/><rect x="129" y="626.47" width="1" height="6.55" fill="url(#p2_6)"/><rect x="130" y="626.12" width="1" height="6.71" fill="url(#p2_6)"/><rect x="131" y="625.77" width="1" height="6.88" fill="url(#p2_6)"/><rect x="132" y="625.41" width="1" height="7.04" fill="url(#p2_6)"/><rect x="133" y="625.05" width="1" height="7.21" fill="url(#p2_6)"/><rect x="134" y="624.68" width="1" height="7.38" fill="url(#p2_6)"/><rect x="135" y="624.32" width="1" height="7.55" fill="url(#p2_6)"/><rect x="136" y="623.94" width="1" height="7.72" fill="url(#p2_7)"/><rect x="137" y="623.57" width="1" height="7.89" fill="url(#p2_7)"/><rect x="138" y="623.19" width="1" height="8.07" fill="url(#p2_7)"/><rect x="139" y="622.8" width="1" height="8.24" fill="url(#p2_7)"/><rect x="140" y="622.41" width="1" height="8.42" fill="url(#p2_7)"/><rect x="141" y="622.02" width="1" height="8.59" fill="url(#p2_7)"/><rect x="142" y="621.63" width="1" height="8.77" fill="url(#p2_7)"/><rect x="143" y="621.23" width="1" height="8.95" fill="url(#p2_7)"/><rect x="144" y="620.83" width="1" height="9.12" fill="url(#p2_7)"/><rect x="145" y="620.42" width="1" height="9.3" fill="url(#p2_7)"/><rect x="146" y="620.01" width="1" height="9.48" fill="url(#p2_7)"/><rect x="147" y="619.6" width="1" height="9.66" fill="url(#p2_8)"/><rect x="148" y="619.18" width="1" height="9.84" fill="url(#p2_8)"/><rect x="149" y="618.76" width="1" height="10.02" fill="url(#p2_8)"/><rect x="150" y="618.34" width="1" height="10.21" fill="url(#p2_8)"/><rect x="151" y="617.91" width="1" height="10.39" fill="url(#p2_8)"/><rect x="152" y="617.48" width="1" height="10.57" fill="url(#p2_8)"/><rect x="153" y="617.05" width="1" height="10.75" fill="url(#p2_8)"/><rect x="154" y="616.62" width="1" height="10.93" fill="url(#p2_8)"/><rect x="155" y="616.18" width="1" height="11.12" fill="url(#p2_8)"/><rect x="156" y="615.74" width="1" height="11.3" fill="url(#p2_8)"/><rect x="157" y="615.3" width="1" height="11.48" fill="url(#p2_9)"/><rect x="158" y="614.85" width="1" height="11.67" fill="url(#p2_9)"/><rect x="159" y="614.4" width="1" height="11.85" fill="url(#p2_9)"/><rect x="160" y="613.95" width="1" height="12.03" fill="url(#p2_9)"/><rect x="161" y="613.49" width="1" height="12.21" fill="url(#p2_9)"/><rect x="162" y="613.03" width="1" height="12.4" fill="url(#p2_9)"/><rect x="163" y="612.57" width="1" height="12.58" fill="url(#p2_9)"/><rect x="164" y="612.11" width="1" height="12.76" fill="url(#p2_9)"/><rect x="165" y="611.65" width="1" height="12.94" fill="url(#p2_9)"/><rect x="166" y="611.18" width="1" height="13.13" fill="url(#p2_9)"/><rect x="167" y="610.71" width="1" height="13.31" fill="url(#p2_9)"/><rect x="168" y="610.24" width="1" height="13.49" fill="url(#p2_10)"/><rect x="169" y="609.77" width="1" height="13.67" fill="url(#p2_10)"/><rect x="170" y="609.29" width="1" height="13.85" fill="url(#p2_10)"/><rect x="171" y="608.81" width="1" height="14.03" fill="url(#p2_10)"/><rect x="172" y="608.33" width="1" height="14.21" fill="url(#p2_10)"/><rect x="173" y="607.85" width="1" height="14.39" fill="url(#p2_10)"/><rect x="174" y="607.36" width="1" height="14.56" fill="url(#p2_10)"/><rect x="175" y="606.88" width="1" height="14.74" fill="url(#p2_10)"/><rect x="176" y="606.39" width="1" height="14.92" fill="url(#p2_10)"/><rect x="177" y="605.9" width="1" height="15.1" fill="url(#p2_10)"/><rect x="178" y="605.41" width="1" height="15.27" fill="url(#p2_10)"/><rect x="179" y="604.91" width="1" height="15.45" fill="url(#p2_11)"/><rect x="180" y="604.42" width="1" height="15.62" fill="url(#p2_11)"/><rect x="181" y="603.92" width="1" height="15.79" fill="url(#p2_11)"/><rect x="182" y="603.42" width="1" height="15.96" fill="url(#p2_11)"/><rect x="183" y="602.92" width="1" height="16.14" fill="url(#p2_11)"/><rect x="184" y="602.42" width="1" height="16.31" fill="url(#p2_11)"/><rect x="185" y="601.92" width="1" height="16.48" fill="url(#p2_11)"/><rect x="186" y="601.41" width="1" height="16.64" fill="url(#p2_11)"/><rect x="187" y="600.91" width="1" height="16.81" fill="url(#p2_11)"/><rect x="188" y="600.4" width="1" height="16.98" fill="url(#p2_11)"/><rect x="189" y="599.89" width="1" height="17.14" fill="url(#p2_11)"/><rect x="190" y="599.39" width="1" height="17.31" fill="url(#p2_12)"/><rect x="191" y="598.87" width="1" height="17.47" fill="url(#p2_12)"/><rect x="192" y="598.36" width="1" height="17.63" fill="url(#p2_12)"/><rect x="193" y="597.85" width="1" height="17.8" fill="url(#p2_12)"/><rect x="194" y="597.34" width="1" height="17.96" fill="url(#p2_12)"/><rect x="195" y="596.82" width="1" height="18.11" fill="url(#p2_12)"/><rect x="196" y="596.31" width="1" height="18.27" fill="url(#p2_12)"/><rect x="197" y="595.79" width="1" height="18.43" fill="url(#p2_12)"/><rect x="198" y="595.28" width="1" height="18.58" fill="url(#p2_12)"/><rect x="199" y="594.76" width="1" height="18.74" fill="url(#p2_12)"/><rect x="200" y="594.24" width="1" height="18.89" fill="url(#p2_12)"/><rect x="201" y="593.72" width="1" height="19.04" fill="url(#p2_13)"/><rect x="202" y="593.2" width="1" height="19.19" fill="url(#p2_13)"/><rect x="203" y="592.68" width="1" height="19.34" fill="url(#p2_13)"/><rect x="204" y="592.16" width="1" height="19.49" fill="url(#p2_13)"/><rect x="205" y="591.64" width="1" height="19.64" fill="url(#p2_13)"/><rect x="206" y="591.12" width="1" height="19.78" fill="url(#p2_13)"/><rect x="207" y="590.6" width="1" height="19.92" fill="url(#p2_13)"/><rect x="208" y="590.07" width="1" height="20.07" fill="url(#p2_13)"/><rect x="209" y="589.55" width="1" height="20.21" fill="url(#p2_13)"/><rect x="210" y="589.03" width="1" height="20.35" fill="url(#p2_13)"/><rect x="211" y="588.51" width="1" height="20.49" fill="url(#p2_13)"/><rect x="212" y="587.98" width="1" height="20.62" fill="url(#p2_14)"/><rect x="213" y="587.46" width="1" height="20.76" fill="url(#p2_14)"/><rect x="214" y="586.93" width="1" height="20.89" fill="url(#p2_14)"/><rect x="215" y="586.41" width="1" height="21.02" fill="url(#p2_14)"/><rect x="216" y="585.89" width="1" height="21.16" fill="url(#p2_14)"/><rect x="217" y="585.36" width="1" height="21.29" fill="url(#p2_14)"/><rect x="218" y="584.84" width="1" height="21.41" fill="url(#p2_14)"/><rect x="219" y="584.32" width="1" height="21.54" fill="url(#p2_14)"/><rect x="220" y="583.79" width="1" height="21.67" fill="url(#p2_14)"/><rect x="221" y="583.27" width="1" height="21.79" fill="url(#p2_14)"/><rect x="222" y="582.75" width="1" height="21.91" fill="url(#p2_14)"/><rect x="223" y="582.22" width="1" height="22.04" fill="url(#p2_15)"/><rect x="224" y="581.7" width="1" height="22.16" fill="url(#p2_15)"/><rect x="225" y="581.18" width="1" height="22.27" fill="url(#p2_15)"/><rect x="226" y="580.65" width="1" height="22.39" fill="url(#p2_15)"/><rect x="227" y="580.13" width="1" height="22.51" fill="url(#p2_15)"/><rect x="228" y="579.61" width="1" height="22.62" fill="url(#p2_15)"/><rect x="229" y="579.09" width="1" height="22.74" fill="url(#p2_15)"/><rect x="230" y="578.57" width="1" height="22.85" fill="url(#p2_15)"/><rect x="231" y="578.05" width="1" height="22.96" fill="url(#p2_15)"/><rect x="232" y="577.53" width="1" height="23.07" fill="url(#p2_15)"/><rect x="233" y="577.01" width="1" height="23.18" fill="url(#p2_15)"/><rect x="234" y="576.49" width="1" height="23.28" fill="url(#p2_16)"/><rect x="235" y="575.97" width="1" height="23.39" fill="url(#p2_16)"/><rect x="236" y="575.46" width="1" height="23.49" fill="url(#p2_16)"/><rect x="237" y="574.94" width="1" height="23.6" fill="url(#p2_16)"/><rect x="238" y="574.42" width="1" height="23.7" fill="url(#p2_16)"/><rect x="239" y="573.91" width="1" height="23.8" fill="url(#p2_16)"/><rect x="240" y="573.39" width="1" height="23.9" fill="url(#p2_16)"/><rect x="241" y="572.88" width="1" height="23.99" fill="url(#p2_16)"/><rect x="242" y="572.37" width="1" height="24.09" fill="url(#p2_16)"/><rect x="243" y="571.85" width="1" height="24.19" fill="url(#p2_16)"/><rect x="244" y="571.34" width="1" height="24.28" fill="url(#p2_16)"/><rect x="245" y="570.83" width="1" height="24.38" fill="url(#p2_17)"/><rect x="246" y="570.32" width="1" height="24.47" fill="url(#p2_17)"/><rect x="247" y="569.81" width="1" height="24.56" fill="url(#p2_17)"/><rect x="248" y="569.31" width="1" height="24.65" fill="url(#p2_17)"/><rect x="249" y="568.8" width="1" height="24.74" fill="url(#p2_17)"/><rect x="250" y="568.29" width="1" height="24.83" fill="url(#p2_17)"/><rect x="251" y="567.79" width="1" height="24.91" fill="url(#p2_17)"/><rect x="252" y="567.28" width="1" height="25" fill="url(#p2_17)"/><rect x="253" y="566.78" width="1" height="25.08" fill="url(#p2_17)"/><rect x="254" y="566.28" width="1" height="25.17" fill="url(#p2_17)"/><rect x="255" y="565.78" width="1" height="25.25" fill="url(#p2_18)"/><rect x="256" y="565.28" width="1" height="25.33" fill="url(#p2_18)"/><rect x="257" y="564.78" width="1" height="25.41" fill="url(#p2_18)"/><rect x="258" y="564.28" width="1" height="25.49" fill="url(#p2_18)"/><rect x="259" y="563.79" width="1" height="25.57" fill="url(#p2_18)"/><rect x="260" y="563.29" width="1" height="25.65" fill="url(#p2_18)"/><rect x="261" y="562.8" width="1" height="25.73" fill="url(#p2_18)"/><rect x="262" y="562.31" width="1" height="25.81" fill="url(#p2_18)"/><rect x="263" y="561.82" width="1" height="25.88" fill="url(#p2_18)"/><rect x="264" y="561.33" width="1" height="25.96" fill="url(#p2_18)"/><rect x="265" y="560.84" width="1" height="26.03" fill="url(#p2_18)"/><rect x="266" y="560.35" width="1" height="26.11" fill="url(#p2_19)"/><rect x="267" y="559.87" width="1" height="26.18" fill="url(#p2_19)"/><rect x="268" y="559.38" width="1" height="26.25" fill="url(#p2_19)"/><rect x="269" y="558.9" width="1" height="26.32" fill="url(#p2_19)"/><rect x="270" y="558.42" width="1" height="26.4" fill="url(#p2_19)"/><rect x="271" y="557.94" width="1" height="26.47" fill="url(#p2_19)"/><rect x="272" y="557.46" width="1" height="26.54" fill="url(#p2_19)"/><rect x="273" y="556.98" width="1" height="26.61" fill="url(#p2_19)"/><rect x="274" y="556.5" width="1" height="26.68" fill="url(#p2_19)"/><rect x="275" y="556.03" width="1" height="26.75" fill="url(#p2_19)"/><rect x="276" y="555.56" width="1" height="26.81" fill="url(#p2_19)"/><rect x="277" y="555.09" width="1" height="26.88" fill="url(#p2_20)"/><rect x="278" y="554.62" width="1" height="26.95" fill="url(#p2_20)"/><rect x="279" y="554.15" width="1" height="27.02" fill="url(#p2_20)"/><rect x="280" y="553.68" width="1" height="27.08" fill="url(#p2_20)"/><rect x="281" y="553.22" width="1" height="27.15" fill="url(#p2_20)"/><rect x="282" y="552.75" width="1" height="27.22" fill="url(#p2_20)"/><rect x="283" y="552.29" width="1" height="27.28" fill="url(#p2_20)"/><rect x="284" y="551.83" width="1" height="27.35" fill="url(#p2_20)"/><rect x="285" y="551.37" width="1" height="27.41" fill="url(#p2_20)"/><rect x="286" y="550.91" width="1" height="27.48" fill="url(#p2_20)"/><rect x="287" y="550.46" width="1" height="27.54" fill="url(#p2_20)"/><rect x="288" y="550" width="1" height="27.61" fill="url(#p2_21)"/><rect x="289" y="549.55" width="1" height="27.67" fill="url(#p2_21)"/><rect x="290" y="549.1" width="1" height="27.74" fill="url(#p2_21)"/><rect x="291" y="548.65" width="1" height="27.8" fill="url(#p2_21)"/><rect x="292" y="548.2" width="1" height="27.87" fill="url(#p2_21)"/><rect x="293" y="547.76" width="1" height="27.93" fill="url(#p2_21)"/><rect x="294" y="547.32" width="1" height="28" fill="url(#p2_21)"/><rect x="295" y="546.87" width="1" height="28.06" fill="url(#p2_21)"/><rect x="296" y="546.43" width="1" height="28.13" fill="url(#p2_21)"/><rect x="297" y="546" width="1" height="28.19" fill="url(#p2_21)"/><rect x="298" y="545.56" width="1" height="28.25" fill="url(#p2_21)"/><rect x="299" y="545.12" width="1" height="28.32" fill="url(#p2_22)"/><rect x="300" y="544.69" width="1" height="28.38" fill="url(#p2_22)"/><rect x="301" y="544.26" width="1" height="28.45" fill="url(#p2_22)"/><rect x="302" y="543.83" width="1" height="28.51" fill="url(#p2_22)"/><rect x="303" y="543.4" width="1" height="28.58" fill="url(#p2_22)"/><rect x="304" y="542.98" width="1" height="28.64" fill="url(#p2_22)"/><rect x="305" y="542.55" width="1" height="28.71" fill="url(#p2_22)"/><rect x="306" y="542.13" width="1" height="28.77" fill="url(#p2_22)"/><rect x="307" y="541.71" width="1" height="28.84" fill="url(#p2_22)"/><rect x="308" y="541.29" width="1" height="28.9" fill="url(#p2_22)"/><rect x="309" y="540.88" width="1" height="28.97" fill="url(#p2_22)"/><rect x="310" y="540.46" width="1" height="29.04" fill="url(#p2_23)"/><rect x="311" y="540.05" width="1" height="29.1" fill="url(#p2_23)"/><rect x="312" y="539.64" width="1" height="29.17" fill="url(#p2_23)"/><rect x="313" y="539.23" width="1" height="29.24" fill="url(#p2_23)"/><rect x="314" y="538.83" width="1" height="29.3" fill="url(#p2_23)"/><rect x="315" y="538.42" width="1" height="29.37" fill="url(#p2_23)"/><rect x="316" y="538.02" width="1" height="29.44" fill="url(#p2_23)"/><rect x="317" y="537.62" width="1" height="29.51" fill="url(#p2_23)"/><rect x="318" y="537.22" width="1" height="29.58" fill="url(#p2_23)"/><rect x="319" y="536.82" width="1" height="29.65" fill="url(#p2_23)"/><rect x="320" y="536.43" width="1" height="29.72" fill="url(#p2_23)"/><rect x="321" y="536.04" width="1" height="29.79" fill="url(#p2_24)"/><rect x="322" y="535.65" width="1" height="29.86" fill="url(#p2_24)"/><rect x="323" y="535.26" width="1" height="29.93" fill="url(#p2_24)"/><rect x="324" y="534.87" width="1" height="30" fill="url(#p2_24)"/><rect x="325" y="534.49" width="1" height="30.07" fill="url(#p2_24)"/><rect x="326" y="534.11" width="1" height="30.14" fill="url(#p2_24)"/><rect x="327" y="533.73" width="1" height="30.21" fill="url(#p2_24)"/><rect x="328" y="533.35" width="1" height="30.28" fill="url(#p2_24)"/><rect x="329" y="532.97" width="1" height="30.36" fill="url(#p2_24)"/><rect x="330" y="532.6" width="1" height="30.43" fill="url(#p2_24)"/><rect x="331" y="532.23" width="1" height="30.5" fill="url(#p2_24)"/><rect x="332" y="531.86" width="1" height="30.58" fill="url(#p2_25)"/><rect x="333" y="531.49" width="1" height="30.65" fill="url(#p2_25)"/><rect x="334" y="531.13" width="1" height="30.72" fill="url(#p2_25)"/><rect x="335" y="530.77" width="1" height="30.8" fill="url(#p2_25)"/><rect x="336" y="530.41" width="1" height="30.88" fill="url(#p2_25)"/><rect x="337" y="530.05" width="1" height="30.95" fill="url(#p2_25)"/><rect x="338" y="529.69" width="1" height="31.03" fill="url(#p2_25)"/><rect x="339" y="529.34" width="1" height="31.1" fill="url(#p2_25)"/><rect x="340" y="528.99" width="1" height="31.18" fill="url(#p2_25)"/><rect x="341" y="528.64" width="1" height="31.26" fill="url(#p2_25)"/><rect x="342" y="528.29" width="1" height="31.34" fill="url(#p2_25)"/><rect x="343" y="527.95" width="1" height="31.41" fill="url(#p2_26)"/><rect x="344" y="527.61" width="1" height="31.49" fill="url(#p2_26)"/><rect x="345" y="527.27" width="1" height="31.57" fill="url(#p2_26)"/><rect x="346" y="526.93" width="1" height="31.65" fill="url(#p2_26)"/><rect x="347" y="526.6" width="1" height="31.73" fill="url(#p2_26)"/><rect x="348" y="526.27" width="1" height="31.81" fill="url(#p2_26)"/><rect x="349" y="525.94" width="1" height="31.89" fill="url(#p2_26)"/><rect x="350" y="525.61" width="1" height="31.97" fill="url(#p2_26)"/><rect x="351" y="525.28" width="1" height="32.05" fill="url(#p2_26)"/><rect x="352" y="524.96" width="1" height="32.13" fill="url(#p2_26)"/><rect x="353" y="524.64" width="1" height="32.21" fill="url(#p2_27)"/><rect x="354" y="524.32" width="1" height="32.29" fill="url(#p2_27)"/><rect x="355" y="524.01" width="1" height="32.38" fill="url(#p2_27)"/><rect x="356" y="523.69" width="1" height="32.46" fill="url(#p2_27)"/><rect x="357" y="523.38" width="1" height="32.54" fill="url(#p2_27)"/><rect x="358" y="523.08" width="1" height="32.62" fill="url(#p2_27)"/><rect x="359" y="522.77" width="1" height="32.71" fill="url(#p2_27)"/><rect x="360" y="522.47" width="1" height="32.79" fill="url(#p2_27)"/><rect x="361" y="522.17" width="1" height="32.87" fill="url(#p2_27)"/><rect x="362" y="521.87" width="1" height="32.95" fill="url(#p2_27)"/><rect x="363" y="521.57" width="1" height="33.04" fill="url(#p2_27)"/><rect x="364" y="521.28" width="1" height="33.12" fill="url(#p2_28)"/><rect x="365" y="520.99" width="1" height="33.2" fill="url(#p2_28)"/><rect x="366" y="520.7" width="1" height="33.29" fill="url(#p2_28)"/><rect x="367" y="520.42" width="1" height="33.37" fill="url(#p2_28)"/><rect x="368" y="520.14" width="1" height="33.45" fill="url(#p2_28)"/><rect x="369" y="519.86" width="1" height="33.54" fill="url(#p2_28)"/><rect x="370" y="519.58" width="1" height="33.62" fill="url(#p2_28)"/><rect x="371" y="519.31" width="1" height="33.71" fill="url(#p2_28)"/><rect x="372" y="519.04" width="1" height="33.79" fill="url(#p2_28)"/><rect x="373" y="518.77" width="1" height="33.87" fill="url(#p2_28)"/><rect x="374" y="518.5" width="1" height="33.96" fill="url(#p2_28)"/><rect x="375" y="518.24" width="1" height="34.04" fill="url(#p2_29)"/><rect x="376" y="517.98" width="1" height="34.12" fill="url(#p2_29)"/><rect x="377" y="517.72" width="1" height="34.2" fill="url(#p2_29)"/><rect x="378" y="517.47" width="1" height="34.29" fill="url(#p2_29)"/><rect x="379" y="517.21" width="1" height="34.37" fill="url(#p2_29)"/><rect x="380" y="516.96" width="1" height="34.45" fill="url(#p2_29)"/><rect x="381" y="516.72" width="1" height="34.53" fill="url(#p2_29)"/><rect x="382" y="516.47" width="1" height="34.62" fill="url(#p2_29)"/><rect x="383" y="516.23" width="1" height="34.7" fill="url(#p2_29)"/><rect x="384" y="516" width="1" height="34.78" fill="url(#p2_29)"/><rect x="385" y="515.76" width="1" height="34.86" fill="url(#p2_29)"/><rect x="386" y="515.53" width="1" height="34.94" fill="url(#p2_30)"/><rect x="387" y="515.3" width="1" height="35.02" fill="url(#p2_30)"/><rect x="388" y="515.07" width="1" height="35.1" fill="url(#p2_30)"/><rect x="389" y="514.85" width="1" height="35.18" fill="url(#p2_30)"/><rect x="390" y="514.63" width="1" height="35.26" fill="url(#p2_30)"/><rect x="391" y="514.41" width="1" height="35.33" fill="url(#p2_30)"/><rect x="392" y="514.2" width="1" height="35.41" fill="url(#p2_30)"/><rect x="393" y="513.99" width="1" height="35.49" fill="url(#p2_30)"/><rect x="394" y="513.78" width="1" height="35.57" fill="url(#p2_30)"/><rect x="395" y="513.57" width="1" height="35.64" fill="url(#p2_30)"/><rect x="396" y="513.37" width="1" height="35.72" fill="url(#p2_30)"/><rect x="397" y="513.17" width="1" height="35.79" fill="url(#p2_31)"/><rect x="398" y="512.97" width="1" height="35.87" fill="url(#p2_31)"/><rect x="399" y="512.78" width="1" height="35.94" fill="url(#p2_31)"/><rect x="400" y="512.59" width="1" height="36.01" fill="url(#p2_31)"/><rect x="401" y="512.4" width="1" height="36.08" fill="url(#p2_31)"/><rect x="402" y="512.22" width="1" height="36.15" fill="url(#p2_31)"/><rect x="403" y="512.04" width="1" height="36.22" fill="url(#p2_31)"/><rect x="404" y="511.86" width="1" height="36.29" fill="url(#p2_31)"/><rect x="405" y="511.69" width="1" height="36.36" fill="url(#p2_31)"/><rect x="406" y="511.51" width="1" height="36.43" fill="url(#p2_31)"/><rect x="407" y="511.35" width="1" height="36.5" fill="url(#p2_31)"/><rect x="408" y="511.18" width="1" height="36.56" fill="url(#p2_32)"/><rect x="409" y="511.02" width="1" height="36.63" fill="url(#p2_32)"/><rect x="410" y="510.86" width="1" height="36.69" fill="url(#p2_32)"/><rect x="411" y="510.7" width="1" height="36.76" fill="url(#p2_32)"/><rect x="412" y="510.55" width="1" height="36.82" fill="url(#p2_32)"/><rect x="413" y="510.4" width="1" height="36.88" fill="url(#p2_32)"/><rect x="414" y="510.26" width="1" height="36.94" fill="url(#p2_32)"/><rect x="415" y="510.11" width="1" height="37" fill="url(#p2_32)"/><rect x="416" y="509.98" width="1" height="37.06" fill="url(#p2_32)"/><rect x="417" y="509.84" width="1" height="37.11" fill="url(#p2_32)"/><rect x="418" y="509.71" width="1" height="37.17" fill="url(#p2_32)"/><rect x="419" y="509.58" width="1" height="37.22" fill="url(#p2_33)"/><rect x="420" y="509.45" width="1" height="37.28" fill="url(#p2_33)"/><rect x="421" y="509.33" width="1" height="37.33" fill="url(#p2_33)"/><rect x="422" y="509.21" width="1" height="37.38" fill="url(#p2_33)"/><rect x="423" y="509.09" width="1" height="37.43" fill="url(#p2_33)"/><rect x="424" y="508.98" width="1" height="37.48" fill="url(#p2_33)"/><rect x="425" y="508.87" width="1" height="37.52" fill="url(#p2_33)"/><rect x="426" y="508.76" width="1" height="37.57" fill="url(#p2_33)"/><rect x="427" y="508.66" width="1" height="37.62" fill="url(#p2_33)"/><rect x="428" y="508.56" width="1" height="37.66" fill="url(#p2_33)"/><rect x="429" y="508.46" width="1" height="37.7" fill="url(#p2_33)"/><rect x="430" y="508.37" width="1" height="37.74" fill="url(#p2_34)"/><rect x="431" y="508.28" width="1" height="37.78" fill="url(#p2_34)"/><rect x="432" y="508.2" width="1" height="37.82" fill="url(#p2_34)"/><rect x="433" y="508.11" width="1" height="37.85" fill="url(#p2_34)"/><rect x="434" y="508.03" width="1" height="37.89" fill="url(#p2_34)"/><rect x="435" y="507.98" width="1" height="37.91" fill="url(#p2_34)"/></g>
<g shape-rendering="crispEdges"><rect x="64" y="638.86" width="1" height="1.25" fill="url(#p3_0)"/><rect x="65" y="638.86" width="1" height="1.25" fill="url(#p3_0)"/><rect x="66" y="638.86" width="1" height="1.25" fill="url(#p3_0)"/><rect x="67" y="638.85" width="1" height="1.25" fill="url(#p3_0)"/><rect x="68" y="638.84" width="1" height="1.26" fill="url(#p3_0)"/><rect x="69" y="638.83" width="1" height="1.26" fill="url(#p3_0)"/><rect x="70" y="638.82" width="1" height="1.26" fill="url(#p3_1)"/><rect x="71" y="638.8" width="1" height="1.27" fill="url(#p3_1)"/><rect x="72" y="638.78" width="1" height="1.27" fill="url(#p3_1)"/><rect x="73" y="638.76" width="1" height="1.28" fill="url(#p3_1)"/><rect x="74" y="638.73" width="1" height="1.29" fill="url(#p3_1)"/><rect x="75" y="638.7" width="1" height="1.29" fill="url(#p3_1)"/><rect x="76" y="638.67" width="1" height="1.3" fill="url(#p3_1)"/><rect x="77" y="638.64" width="1" height="1.31" fill="url(#p3_1)"/><rect x="78" y="638.6" width="1" height="1.32" fill="url(#p3_1)"/><rect x="79" y="638.56" width="1" height="1.33" fill="url(#p3_1)"/><rect x="80" y="638.52" width="1" height="1.35" fill="url(#p3_1)"/><rect x="81" y="638.48" width="1" height="1.36" fill="url(#p3_2)"/><rect x="82" y="638.43" width="1" height="1.37" fill="url(#p3_2)"/><rect x="83" y="638.38" width="1" height="1.39" fill="url(#p3_2)"/><rect x="84" y="638.33" width="1" height="1.4" fill="url(#p3_2)"/><rect x="85" y="638.27" width="1" height="1.42" fill="url(#p3_2)"/><rect x="86" y="638.21" width="1" height="1.44" fill="url(#p3_2)"/><rect x="87" y="638.15" width="1" height="1.45" fill="url(#p3_2)"/><rect x="88" y="638.09" width="1" height="1.47" fill="url(#p3_2)"/><rect x="89" y="638.02" width="1" height="1.49" fill="url(#p3_2)"/><rect x="90" y="637.95" width="1" height="1.51" fill="url(#p3_2)"/><rect x="91" y="637.88" width="1" height="1.54" fill="url(#p3_2)"/><rect x="92" y="637.8" width="1" height="1.56" fill="url(#p3_3)"/><rect x="93" y="637.72" width="1" height="1.58" fill="url(#p3_3)"/><rect x="94" y="637.64" width="1" height="1.61" fill="url(#p3_3)"/><rect x="95" y="637.56" width="1" height="1.63" fill="url(#p3_3)"/><rect x="96" y="637.47" width="1" height="1.66" fill="url(#p3_3)"/><rect x="97" y="637.38" width="1" height="1.69" fill="url(#p3_3)"/><rect x="98" y="637.29" width="1" height="1.71" fill="url(#p3_3)"/><rect x="99" y="637.2" width="1" height="1.74" fill="url(#p3_3)"/><rect x="100" y="637.1" width="1" height="1.77" fill="url(#p3_3)"/><rect x="101" y="637" width="1" height="1.81" fill="url(#p3_3)"/><rect x="102" y="636.89" width="1" height="1.84" fill="url(#p3_3)"/><rect x="103" y="636.79" width="1" height="1.87" fill="url(#p3_4)"/><rect x="104" y="636.68" width="1" height="1.91" fill="url(#p3_4)"/><rect x="105" y="636.56" width="1" height="1.94" fill="url(#p3_4)"/><rect x="106" y="636.45" width="1" height="1.98" fill="url(#p3_4)"/><rect x="107" y="636.33" width="1" height="2.02" fill="url(#p3_4)"/><rect x="108" y="636.21" width="1" height="2.06" fill="url(#p3_4)"/><rect x="109" y="636.09" width="1" height="2.1" fill="url(#p3_4)"/><rect x="110" y="635.96" width="1" height="2.14" fill="url(#p3_4)"/><rect x="111" y="635.83" width="1" height="2.18" fill="url(#p3_4)"/><rect x="112" y="635.7" width="1" height="2.23" fill="url(#p3_4)"/><rect x="113" y="635.56" width="1" height="2.27" fill="url(#p3_4)"/><rect x="114" y="635.43" width="1" height="2.32" fill="url(#p3_5)"/><rect x="115" y="635.29" width="1" height="2.37" fill="url(#p3_5)"/><rect x="116" y="635.14" width="1" height="2.42" fill="url(#p3_5)"/><rect x="117" y="635" width="1" height="2.47" fill="url(#p3_5)"/><rect x="118" y="634.85" width="1" height="2.52" fill="url(#p3_5)"/><rect x="119" y="634.69" width="1" height="2.57" fill="url(#p3_5)"/><rect x="120" y="634.54" width="1" height="2.63" fill="url(#p3_5)"/><rect x="121" y="634.38" width="1" height="2.69" fill="url(#p3_5)"/><rect x="122" y="634.22" width="1" height="2.74" fill="url(#p3_5)"/><rect x="123" y="634.06" width="1" height="2.8" fill="url(#p3_5)"/><rect x="124" y="633.89" width="1" height="2.86" fill="url(#p3_5)"/><rect x="125" y="633.72" width="1" height="2.92" fill="url(#p3_6)"/><rect x="126" y="633.55" width="1" height="2.99" fill="url(#p3_6)"/><rect x="127" y="633.37" width="1" height="3.05" fill="url(#p3_6)"/><rect x="128" y="633.19" width="1" height="3.12" fill="url(#p3_6)"/><rect x="129" y="633.01" width="1" height="3.19" fill="url(#p3_6)"/><rect x="130" y="632.83" width="1" height="3.26" fill="url(#p3_6)"/><rect x="131" y="632.64" width="1" height="3.33" fill="url(#p3_6)"/><rect x="132" y="632.45" width="1" height="3.4" fill="url(#p3_6)"/><rect x="133" y="632.26" width="1" height="3.47" fill="url(#p3_6)"/><rect x="134" y="632.06" width="1" height="3.55" fill="url(#p3_6)"/><rect x="135" y="631.87" width="1" height="3.63" fill="url(#p3_6)"/><rect x="136" y="631.66" width="1" height="3.71" fill="url(#p3_7)"/><rect x="137" y="631.46" width="1" height="3.79" fill="url(#p3_7)"/><rect x="138" y="631.25" width="1" height="3.87" fill="url(#p3_7)"/><rect x="139" y="631.04" width="1" height="3.95" fill="url(#p3_7)"/><rect x="140" y="630.83" width="1" height="4.04" fill="url(#p3_7)"/><rect x="141" y="630.61" width="1" height="4.13" fill="url(#p3_7)"/><rect x="142" y="630.4" width="1" height="4.22" fill="url(#p3_7)"/><rect x="143" y="630.17" width="1" height="4.31" fill="url(#p3_7)"/><rect x="144" y="629.95" width="1" height="4.4" fill="url(#p3_7)"/><rect x="145" y="629.72" width="1" height="4.5" fill="url(#p3_7)"/><rect x="146" y="629.49" width="1" height="4.59" fill="url(#p3_7)"/><rect x="147" y="629.26" width="1" height="4.69" fill="url(#p3_8)"/><rect x="148" y="629.02" width="1" height="4.79" fill="url(#p3_8)"/><rect x="149" y="628.79" width="1" height="4.89" fill="url(#p3_8)"/><rect x="150" y="628.54" width="1" height="5" fill="url(#p3_8)"/><rect x="151" y="628.3" width="1" height="5.1" fill="url(#p3_8)"/><rect x="152" y="628.05" width="1" height="5.21" fill="url(#p3_8)"/><rect x="153" y="627.8" width="1" height="5.32" fill="url(#p3_8)"/><rect x="154" y="627.55" width="1" height="5.43" fill="url(#p3_8)"/><rect x="155" y="627.3" width="1" height="5.54" fill="url(#p3_8)"/><rect x="156" y="627.04" width="1" height="5.66" fill="url(#p3_8)"/><rect x="157" y="626.78" width="1" height="5.77" fill="url(#p3_9)"/><rect x="158" y="626.51" width="1" height="5.89" fill="url(#p3_9)"/><rect x="159" y="626.25" width="1" height="6.01" fill="url(#p3_9)"/><rect x="160" y="625.98" width="1" height="6.14" fill="url(#p3_9)"/><rect x="161" y="625.71" width="1" height="6.26" fill="url(#p3_9)"/><rect x="162" y="625.43" width="1" height="6.39" fill="url(#p3_9)"/><rect x="163" y="625.15" width="1" height="6.52" fill="url(#p3_9)"/><rect x="164" y="624.87" width="1" height="6.65" fill="url(#p3_9)"/><rect x="165" y="624.59" width="1" height="6.78" fill="url(#p3_9)"/><rect x="166" y="624.31" width="1" height="6.91" fill="url(#p3_9)"/><rect x="167" y="624.02" width="1" height="7.05" fill="url(#p3_9)"/><rect x="168" y="623.73" width="1" height="7.19" fill="url(#p3_10)"/><rect x="169" y="623.43" width="1" height="7.33" fill="url(#p3_10)"/><rect x="170" y="623.14" width="1" height="7.47" fill="url(#p3_10)"/><rect x="171" y="622.84" width="1" height="7.61" fill="url(#p3_10)"/><rect x="172" y="622.54" width="1" height="7.76" fill="url(#p3_10)"/><rect x="173" y="622.23" width="1" height="7.91" fill="url(#p3_10)"/><rect x="174" y="621.93" width="1" height="8.06" fill="url(#p3_10)"/><rect x="175" y="621.62" width="1" height="8.21" fill="url(#p3_10)"/><rect x="176" y="621.31" width="1" height="8.36" fill="url(#p3_10)"/><rect x="177" y="620.99" width="1" height="8.52" fill="url(#p3_10)"/><rect x="178" y="620.68" width="1" height="8.68" fill="url(#p3_10)"/><rect x="179" y="620.36" width="1" height="8.84" fill="url(#p3_11)"/><rect x="180" y="620.04" width="1" height="9" fill="url(#p3_11)"/><rect x="181" y="619.71" width="1" height="9.16" fill="url(#p3_11)"/><rect x="182" y="619.39" width="1" height="9.33" fill="url(#p3_11)"/><rect x="183" y="619.06" width="1" height="9.5" fill="url(#p3_11)"/><rect x="184" y="618.73" width="1" height="9.67" fill="url(#p3_11)"/><rect x="185" y="618.39" width="1" height="9.84" fill="url(#p3_11)"/><rect x="186" y="618.06" width="1" height="10.01" fill="url(#p3_11)"/><rect x="187" y="617.72" width="1" height="10.19" fill="url(#p3_11)"/><rect x="188" y="617.38" width="1" height="10.37" fill="url(#p3_11)"/><rect x="189" y="617.04" width="1" height="10.54" fill="url(#p3_11)"/><rect x="190" y="616.69" width="1" height="10.73" fill="url(#p3_12)"/><rect x="191" y="616.35" width="1" height="10.91" fill="url(#p3_12)"/><rect x="192" y="616" width="1" height="11.09" fill="url(#p3_12)"/><rect x="193" y="615.65" width="1" height="11.28" fill="url(#p3_12)"/><rect x="194" y="615.29" width="1" height="11.47" fill="url(#p3_12)"/><rect x="195" y="614.94" width="1" height="11.66" fill="url(#p3_12)"/><rect x="196" y="614.58" width="1" height="11.85" fill="url(#p3_12)"/><rect x="197" y="614.22" width="1" height="12.04" fill="url(#p3_12)"/><rect x="198" y="613.86" width="1" height="12.24" fill="url(#p3_12)"/><rect x="199" y="613.5" width="1" height="12.44" fill="url(#p3_12)"/><rect x="200" y="613.13" width="1" height="12.64" fill="url(#p3_12)"/><rect x="201" y="612.76" width="1" height="12.84" fill="url(#p3_13)"/><rect x="202" y="612.39" width="1" height="13.04" fill="url(#p3_13)"/><rect x="203" y="612.02" width="1" height="13.24" fill="url(#p3_13)"/><rect x="204" y="611.65" width="1" height="13.45" fill="url(#p3_13)"/><rect x="205" y="611.28" width="1" height="13.66" fill="url(#p3_13)"/><rect x="206" y="610.9" width="1" height="13.87" fill="url(#p3_13)"/><rect x="207" y="610.52" width="1" height="14.08" fill="url(#p3_13)"/><rect x="208" y="610.14" width="1" height="14.29" fill="url(#p3_13)"/><rect x="209" y="609.76" width="1" height="14.5" fill="url(#p3_13)"/><rect x="210" y="609.38" width="1" height="14.72" fill="url(#p3_13)"/><rect x="211" y="608.99" width="1" height="14.94" fill="url(#p3_13)"/><rect x="212" y="608.6" width="1" height="15.15" fill="url(#p3_14)"/><rect x="213" y="608.22" width="1" height="15.37" fill="url(#p3_14)"/><rect x="214" y="607.83" width="1" height="15.59" fill="url(#p3_14)"/><rect x="215" y="607.43" width="1" height="15.82" fill="url(#p3_14)"/><rect x="216" y="607.04" width="1" height="16.04" fill="url(#p3_14)"/><rect x="217" y="606.65" width="1" height="16.27" fill="url(#p3_14)"/><rect x="218" y="606.25" width="1" height="16.49" fill="url(#p3_14)"/><rect x="219" y="605.86" width="1" height="16.72" fill="url(#p3_14)"/><rect x="220" y="605.46" width="1" height="16.95" fill="url(#p3_14)"/><rect x="221" y="605.06" width="1" height="17.18" fill="url(#p3_14)"/><rect x="222" y="604.66" width="1" height="17.41" fill="url(#p3_14)"/><rect x="223" y="604.26" width="1" height="17.64" fill="url(#p3_15)"/><rect x="224" y="603.85" width="1" height="17.87" fill="url(#p3_15)"/><rect x="225" y="603.45" width="1" height="18.11" fill="url(#p3_15)"/><rect x="226" y="603.05" width="1" height="18.34" fill="url(#p3_15)"/><rect x="227" y="602.64" width="1" height="18.58" fill="url(#p3_15)"/><rect x="228" y="602.23" width="1" height="18.82" fill="url(#p3_15)"/><rect x="229" y="601.83" width="1" height="19.06" fill="url(#p3_15)"/><rect x="230" y="601.42" width="1" height="19.3" fill="url(#p3_15)"/><rect x="231" y="601.01" width="1" height="19.54" fill="url(#p3_15)"/><rect x="232" y="600.6" width="1" height="19.78" fill="url(#p3_15)"/><rect x="233" y="600.19" width="1" height="20.02" fill="url(#p3_15)"/><rect x="234" y="599.77" width="1" height="20.26" fill="url(#p3_16)"/><rect x="235" y="599.36" width="1" height="20.5" fill="url(#p3_16)"/><rect x="236" y="598.95" width="1" height="20.75" fill="url(#p3_16)"/><rect x="237" y="598.53" width="1" height="20.99" fill="url(#p3_16)"/><rect x="238" y="598.12" width="1" height="21.24" fill="url(#p3_16)"/><rect x="239" y="597.71" width="1" height="21.48" fill="url(#p3_16)"/><rect x="240" y="597.29" width="1" height="21.73" fill="url(#p3_16)"/><rect x="241" y="596.87" width="1" height="21.98" fill="url(#p3_16)"/><rect x="242" y="596.46" width="1" height="22.22" fill="url(#p3_16)"/><rect x="243" y="596.04" width="1" height="22.47" fill="url(#p3_16)"/><rect x="244" y="595.62" width="1" height="22.72" fill="url(#p3_16)"/><rect x="245" y="595.21" width="1" height="22.97" fill="url(#p3_17)"/><rect x="246" y="594.79" width="1" height="23.22" fill="url(#p3_17)"/><rect x="247" y="594.37" width="1" height="23.46" fill="url(#p3_17)"/><rect x="248" y="593.95" width="1" height="23.71" fill="url(#p3_17)"/><rect x="249" y="593.54" width="1" height="23.96" fill="url(#p3_17)"/><rect x="250" y="593.12" width="1" height="24.21" fill="url(#p3_17)"/><rect x="251" y="592.7" width="1" height="24.46" fill="url(#p3_17)"/><rect x="252" y="592.28" width="1" height="24.71" fill="url(#p3_17)"/><rect x="253" y="591.86" width="1" height="24.96" fill="url(#p3_17)"/><rect x="254" y="591.45" width="1" height="25.21" fill="url(#p3_17)"/><rect x="255" y="591.03" width="1" height="25.46" fill="url(#p3_18)"/><rect x="256" y="590.61" width="1" height="25.71" fill="url(#p3_18)"/><rect x="257" y="590.19" width="1" height="25.96" fill="url(#p3_18)"/><rect x="258" y="589.78" width="1" height="26.21" fill="url(#p3_18)"/><rect x="259" y="589.36" width="1" height="26.45" fill="url(#p3_18)"/><rect x="260" y="588.95" width="1" height="26.7" fill="url(#p3_18)"/><rect x="261" y="588.53" width="1" height="26.95" fill="url(#p3_18)"/><rect x="262" y="588.11" width="1" height="27.2" fill="url(#p3_18)"/><rect x="263" y="587.7" width="1" height="27.44" fill="url(#p3_18)"/><rect x="264" y="587.29" width="1" height="27.69" fill="url(#p3_18)"/><rect x="265" y="586.87" width="1" height="27.94" fill="url(#p3_18)"/><rect x="266" y="586.46" width="1" height="28.18" fill="url(#p3_19)"/><rect x="267" y="586.05" width="1" height="28.43" fill="url(#p3_19)"/><rect x="268" y="585.63" width="1" height="28.67" fill="url(#p3_19)"/><rect x="269" y="585.22" width="1" height="28.92" fill="url(#p3_19)"/><rect x="270" y="584.98" width="1" height="28.99" fill="url(#p3_19)"/><rect x="271" y="584.8" width="1" height="29" fill="url(#p3_19)"/><rect x="272" y="584.64" width="1" height="29" fill="url(#p3_19)"/><rect x="273" y="584.48" width="1" height="28.99" fill="url(#p3_19)"/><rect x="274" y="584.32" width="1" height="28.99" fill="url(#p3_19)"/><rect x="275" y="584.16" width="1" height="28.98" fill="url(#p3_19)"/><rect x="276" y="584" width="1" height="28.98" fill="url(#p3_19)"/><rect x="277" y="583.83" width="1" height="28.97" fill="url(#p3_20)"/><rect x="278" y="583.67" width="1" height="28.97" fill="url(#p3_20)"/><rect x="279" y="583.51" width="1" height="28.96" fill="url(#p3_20)"/><rect x="280" y="583.36" width="1" height="28.95" fill="url(#p3_20)"/><rect x="281" y="583.2" width="1" height="28.95" fill="url(#p3_20)"/><rect x="282" y="583.04" width="1" height="28.94" fill="url(#p3_20)"/><rect x="283" y="582.88" width="1" height="28.93" fill="url(#p3_20)"/><rect x="284" y="582.72" width="1" height="28.93" fill="url(#p3_20)"/><rect x="285" y="582.56" width="1" height="28.92" fill="url(#p3_20)"/><rect x="286" y="582.41" width="1" height="28.91" fill="url(#p3_20)"/><rect x="287" y="582.25" width="1" height="28.9" fill="url(#p3_20)"/><rect x="288" y="582.09" width="1" height="28.89" fill="url(#p3_21)"/><rect x="289" y="581.94" width="1" height="28.89" fill="url(#p3_21)"/><rect x="290" y="581.78" width="1" height="28.88" fill="url(#p3_21)"/><rect x="291" y="581.63" width="1" height="28.87" fill="url(#p3_21)"/><rect x="292" y="581.47" width="1" height="28.86" fill="url(#p3_21)"/><rect x="293" y="581.32" width="1" height="28.85" fill="url(#p3_21)"/><rect x="294" y="581.17" width="1" height="28.84" fill="url(#p3_21)"/><rect x="295" y="581.01" width="1" height="28.83" fill="url(#p3_21)"/><rect x="296" y="580.86" width="1" height="28.81" fill="url(#p3_21)"/><rect x="297" y="580.71" width="1" height="28.8" fill="url(#p3_21)"/><rect x="298" y="580.56" width="1" height="28.79" fill="url(#p3_21)"/><rect x="299" y="580.41" width="1" height="28.78" fill="url(#p3_22)"/><rect x="300" y="580.26" width="1" height="28.77" fill="url(#p3_22)"/><rect x="301" y="580.11" width="1" height="28.75" fill="url(#p3_22)"/><rect x="302" y="579.96" width="1" height="28.74" fill="url(#p3_22)"/><rect x="303" y="579.81" width="1" height="28.72" fill="url(#p3_22)"/><rect x="304" y="579.66" width="1" height="28.71" fill="url(#p3_22)"/><rect x="305" y="579.52" width="1" height="28.7" fill="url(#p3_22)"/><rect x="306" y="579.37" width="1" height="28.68" fill="url(#p3_22)"/><rect x="307" y="579.23" width="1" height="28.66" fill="url(#p3_22)"/><rect x="308" y="579.08" width="1" height="28.65" fill="url(#p3_22)"/><rect x="309" y="578.94" width="1" height="28.63" fill="url(#p3_22)"/><rect x="310" y="578.79" width="1" height="28.61" fill="url(#p3_23)"/><rect x="311" y="578.65" width="1" height="28.6" fill="url(#p3_23)"/><rect x="312" y="578.51" width="1" height="28.58" fill="url(#p3_23)"/><rect x="313" y="578.37" width="1" height="28.56" fill="url(#p3_23)"/><rect x="314" y="578.23" width="1" height="28.54" fill="url(#p3_23)"/><rect x="315" y="578.09" width="1" height="28.52" fill="url(#p3_23)"/><rect x="316" y="577.95" width="1" height="28.5" fill="url(#p3_23)"/><rect x="317" y="577.81" width="1" height="28.48" fill="url(#p3_23)"/><rect x="318" y="577.67" width="1" height="28.46" fill="url(#p3_23)"/><rect x="319" y="577.54" width="1" height="28.44" fill="url(#p3_23)"/><rect x="320" y="577.4" width="1" height="28.42" fill="url(#p3_23)"/><rect x="321" y="577.27" width="1" height="28.39" fill="url(#p3_24)"/><rect x="322" y="577.13" width="1" height="28.37" fill="url(#p3_24)"/><rect x="323" y="577" width="1" height="28.35" fill="url(#p3_24)"/><rect x="324" y="576.87" width="1" height="28.32" fill="url(#p3_24)"/><rect x="325" y="576.74" width="1" height="28.3" fill="url(#p3_24)"/><rect x="326" y="576.6" width="1" height="28.27" fill="url(#p3_24)"/><rect x="327" y="576.47" width="1" height="28.25" fill="url(#p3_24)"/><rect x="328" y="576.35" width="1" height="28.22" fill="url(#p3_24)"/><rect x="329" y="576.22" width="1" height="28.2" fill="url(#p3_24)"/><rect x="330" y="576.09" width="1" height="28.17" fill="url(#p3_24)"/><rect x="331" y="575.96" width="1" height="28.14" fill="url(#p3_24)"/><rect x="332" y="575.84" width="1" height="28.11" fill="url(#p3_25)"/><rect x="333" y="575.71" width="1" height="28.09" fill="url(#p3_25)"/><rect x="334" y="575.59" width="1" height="28.06" fill="url(#p3_25)"/><rect x="335" y="575.47" width="1" height="28.03" fill="url(#p3_25)"/><rect x="336" y="575.34" width="1" height="28" fill="url(#p3_25)"/><rect x="337" y="575.22" width="1" height="27.97" fill="url(#p3_25)"/><rect x="338" y="575.1" width="1" height="27.94" fill="url(#p3_25)"/><rect x="339" y="574.98" width="1" height="27.91" fill="url(#p3_25)"/><rect x="340" y="574.86" width="1" height="27.88" fill="url(#p3_25)"/><rect x="341" y="574.75" width="1" height="27.85" fill="url(#p3_25)"/><rect x="342" y="574.63" width="1" height="27.81" fill="url(#p3_25)"/><rect x="343" y="574.51" width="1" height="27.78" fill="url(#p3_26)"/><rect x="344" y="574.4" width="1" height="27.75" fill="url(#p3_26)"/><rect x="345" y="574.29" width="1" height="27.72" fill="url(#p3_26)"/><rect x="346" y="574.17" width="1" height="27.68" fill="url(#p3_26)"/><rect x="347" y="574.06" width="1" height="27.65" fill="url(#p3_26)"/><rect x="348" y="573.95" width="1" height="27.61" fill="url(#p3_26)"/><rect x="349" y="573.84" width="1" height="27.58" fill="url(#p3_26)"/><rect x="350" y="573.73" width="1" height="27.54" fill="url(#p3_26)"/><rect x="351" y="573.62" width="1" height="27.51" fill="url(#p3_26)"/><rect x="352" y="573.52" width="1" height="27.47" fill="url(#p3_26)"/><rect x="353" y="573.41" width="1" height="27.44" fill="url(#p3_27)"/><rect x="354" y="573.31" width="1" height="27.4" fill="url(#p3_27)"/><rect x="355" y="573.2" width="1" height="27.36" fill="url(#p3_27)"/><rect x="356" y="573.1" width="1" height="27.33" fill="url(#p3_27)"/><rect x="357" y="573" width="1" height="27.29" fill="url(#p3_27)"/><rect x="358" y="572.9" width="1" height="27.25" fill="url(#p3_27)"/><rect x="359" y="572.8" width="1" height="27.21" fill="url(#p3_27)"/><rect x="360" y="572.7" width="1" height="27.18" fill="url(#p3_27)"/><rect x="361" y="572.6" width="1" height="27.14" fill="url(#p3_27)"/><rect x="362" y="572.5" width="1" height="27.1" fill="url(#p3_27)"/><rect x="363" y="572.41" width="1" height="27.06" fill="url(#p3_27)"/><rect x="364" y="572.31" width="1" height="27.02" fill="url(#p3_28)"/><rect x="365" y="572.22" width="1" height="26.98" fill="url(#p3_28)"/><rect x="366" y="572.12" width="1" height="26.94" fill="url(#p3_28)"/><rect x="367" y="572.03" width="1" height="26.91" fill="url(#p3_28)"/><rect x="368" y="571.94" width="1" height="26.87" fill="url(#p3_28)"/><rect x="369" y="571.85" width="1" height="26.83" fill="url(#p3_28)"/><rect x="370" y="571.76" width="1" height="26.79" fill="url(#p3_28)"/><rect x="371" y="571.68" width="1" height="26.75" fill="url(#p3_28)"/><rect x="372" y="571.59" width="1" height="26.71" fill="url(#p3_28)"/><rect x="373" y="571.5" width="1" height="26.67" fill="url(#p3_28)"/><rect x="374" y="571.42" width="1" height="26.63" fill="url(#p3_28)"/><rect x="375" y="571.33" width="1" height="26.59" fill="url(#p3_29)"/><rect x="376" y="571.25" width="1" height="26.55" fill="url(#p3_29)"/><rect x="377" y="571.17" width="1" height="26.51" fill="url(#p3_29)"/><rect x="378" y="571.09" width="1" height="26.47" fill="url(#p3_29)"/><rect x="379" y="571.01" width="1" height="26.43" fill="url(#p3_29)"/><rect x="380" y="570.93" width="1" height="26.39" fill="url(#p3_29)"/><rect x="381" y="570.85" width="1" height="26.35" fill="url(#p3_29)"/><rect x="382" y="570.78" width="1" height="26.31" fill="url(#p3_29)"/><rect x="383" y="570.7" width="1" height="26.27" fill="url(#p3_29)"/><rect x="384" y="570.63" width="1" height="26.23" fill="url(#p3_29)"/><rect x="385" y="570.56" width="1" height="26.19" fill="url(#p3_29)"/><rect x="386" y="570.48" width="1" height="26.15" fill="url(#p3_30)"/><rect x="387" y="570.41" width="1" height="26.11" fill="url(#p3_30)"/><rect x="388" y="570.34" width="1" height="26.07" fill="url(#p3_30)"/><rect x="389" y="570.27" width="1" height="26.03" fill="url(#p3_30)"/><rect x="390" y="570.2" width="1" height="25.99" fill="url(#p3_30)"/><rect x="391" y="570.14" width="1" height="25.95" fill="url(#p3_30)"/><rect x="392" y="570.07" width="1" height="25.91" fill="url(#p3_30)"/><rect x="393" y="570.01" width="1" height="25.87" fill="url(#p3_30)"/><rect x="394" y="569.94" width="1" height="25.83" fill="url(#p3_30)"/><rect x="395" y="569.88" width="1" height="25.8" fill="url(#p3_30)"/><rect x="396" y="569.82" width="1" height="25.76" fill="url(#p3_30)"/><rect x="397" y="569.76" width="1" height="25.72" fill="url(#p3_31)"/><rect x="398" y="569.7" width="1" height="25.68" fill="url(#p3_31)"/><rect x="399" y="569.64" width="1" height="25.65" fill="url(#p3_31)"/><rect x="400" y="569.58" width="1" height="25.61" fill="url(#p3_31)"/><rect x="401" y="569.52" width="1" height="25.57" fill="url(#p3_31)"/><rect x="402" y="569.47" width="1" height="25.54" fill="url(#p3_31)"/><rect x="403" y="569.41" width="1" height="25.5" fill="url(#p3_31)"/><rect x="404" y="569.36" width="1" height="25.47" fill="url(#p3_31)"/><rect x="405" y="569.31" width="1" height="25.43" fill="url(#p3_31)"/><rect x="406" y="569.26" width="1" height="25.4" fill="url(#p3_31)"/><rect x="407" y="569.21" width="1" height="25.36" fill="url(#p3_31)"/><rect x="408" y="569.16" width="1" height="25.33" fill="url(#p3_32)"/><rect x="409" y="569.11" width="1" height="25.3" fill="url(#p3_32)"/><rect x="410" y="569.06" width="1" height="25.26" fill="url(#p3_32)"/><rect x="411" y="569.02" width="1" height="25.23" fill="url(#p3_32)"/><rect x="412" y="568.97" width="1" height="25.2" fill="url(#p3_32)"/><rect x="413" y="568.93" width="1" height="25.17" fill="url(#p3_32)"/><rect x="414" y="568.88" width="1" height="25.14" fill="url(#p3_32)"/><rect x="415" y="568.84" width="1" height="25.11" fill="url(#p3_32)"/><rect x="416" y="568.8" width="1" height="25.08" fill="url(#p3_32)"/><rect x="417" y="568.76" width="1" height="25.05" fill="url(#p3_32)"/><rect x="418" y="568.72" width="1" height="25.02" fill="url(#p3_32)"/><rect x="419" y="568.68" width="1" height="24.99" fill="url(#p3_33)"/><rect x="420" y="568.64" width="1" height="24.97" fill="url(#p3_33)"/><rect x="421" y="568.61" width="1" height="24.94" fill="url(#p3_33)"/><rect x="422" y="568.57" width="1" height="24.91" fill="url(#p3_33)"/><rect x="423" y="568.54" width="1" height="24.89" fill="url(#p3_33)"/><rect x="424" y="568.51" width="1" height="24.86" fill="url(#p3_33)"/><rect x="425" y="568.47" width="1" height="24.84" fill="url(#p3_33)"/><rect x="426" y="568.44" width="1" height="24.82" fill="url(#p3_33)"/><rect x="427" y="568.41" width="1" height="24.79" fill="url(#p3_33)"/><rect x="428" y="568.38" width="1" height="24.77" fill="url(#p3_33)"/><rect x="429" y="568.36" width="1" height="24.75" fill="url(#p3_33)"/><rect x="430" y="568.33" width="1" height="24.73" fill="url(#p3_34)"/><rect x="431" y="568.3" width="1" height="24.71" fill="url(#p3_34)"/><rect x="432" y="568.28" width="1" height="24.69" fill="url(#p3_34)"/><rect x="433" y="568.25" width="1" height="24.67" fill="url(#p3_34)"/><rect x="434" y="568.23" width="1" height="24.65" fill="url(#p3_34)"/><rect x="435" y="568.22" width="1" height="24.64" fill="url(#p3_34)"/></g>
<path d="M64.90,402.80 L65.99,402.81 L67.08,402.81 L68.17,402.82 L69.26,402.83 L70.34,402.84 L71.43,402.85 L72.52,402.86 L73.61,402.87 L74.70,402.88 L75.79,402.90 L76.88,402.91 L77.97,402.92 L79.06,402.94 L80.15,402.95 L81.23,402.97 L82.32,402.99 L83.41,403.00 L84.50,403.02 L85.59,403.04 L86.68,403.06 L87.77,403.08 L88.86,403.09 L89.95,403.11 L91.04,403.14 L92.12,403.16 L93.21,403.18 L94.30,403.20 L95.39,403.22 L96.48,403.24 L97.57,403.27 L98.66,403.29 L99.75,403.31 L100.84,403.34 L101.93,403.36 L103.01,403.39 L104.10,403.41 L105.19,403.44 L106.28,403.47 L107.37,403.49 L108.46,403.52 L109.55,403.55 L110.64,403.57 L111.73,403.60 L112.81,403.63 L113.90,403.66 L114.99,403.69 L116.08,403.71 L117.17,403.74 L118.26,403.77 L119.35,403.80 L120.44,403.83 L121.53,403.86 L122.62,403.89 L123.70,403.92 L124.79,403.95 L125.88,403.98 L126.97,404.01 L128.06,404.04 L129.15,404.07 L130.24,404.10 L131.33,404.13 L132.42,404.16 L133.51,404.20 L134.59,404.23 L135.68,404.27 L136.77,404.30 L137.86,404.34 L138.95,404.38 L140.04,404.42 L141.13,404.46 L142.22,404.50 L143.31,404.54 L144.39,404.59 L145.48,404.63 L146.57,404.68 L147.66,404.72 L148.75,404.77 L149.84,404.82 L150.93,404.86 L152.02,404.91 L153.11,404.96 L154.20,405.01 L155.28,405.06 L156.37,405.11 L157.46,405.17 L158.55,405.22 L159.64,405.27 L160.73,405.32 L161.82,405.38 L162.91,405.43 L164.00,405.49 L165.09,405.54 L166.17,405.60 L167.26,405.66 L168.35,405.71 L169.44,405.77 L170.53,405.83 L171.62,405.88 L172.71,405.94 L173.80,406.00 L174.89,406.06 L175.98,406.12 L177.06,406.18 L178.15,406.24 L179.24,406.31 L180.33,406.37 L181.42,406.43 L182.51,406.50 L183.60,406.57 L184.69,406.64 L185.78,406.71 L186.86,406.78 L187.95,406.85 L189.04,406.92 L190.13,406.99 L191.22,407.06 L192.31,407.14 L193.40,407.21 L194.49,407.29 L195.58,407.37 L196.67,407.44 L197.75,407.52 L198.84,407.60 L199.93,407.68 L201.02,407.76 L202.11,407.84 L203.20,407.92 L204.29,408.00 L205.38,408.08 L206.47,408.16 L207.56,408.24 L208.64,408.32 L209.73,408.41 L210.82,408.49 L211.91,408.57 L213.00,408.66 L214.09,408.74 L215.18,408.82 L216.27,408.91 L217.36,408.99 L218.44,409.08 L219.53,409.16 L220.62,409.25 L221.71,409.33 L222.80,409.41 L223.89,409.50 L224.98,409.58 L226.07,409.67 L227.16,409.75 L228.25,409.84 L229.33,409.93 L230.42,410.02 L231.51,410.11 L232.60,410.21 L233.69,410.30 L234.78,410.40 L235.87,410.49 L236.96,410.59 L238.05,410.69 L239.14,410.78 L240.22,410.88 L241.31,410.98 L242.40,411.08 L243.49,411.18 L244.58,411.28 L245.67,411.38 L246.76,411.48 L247.85,411.58 L248.94,411.68 L250.03,411.78 L251.11,411.87 L252.20,411.97 L253.29,412.07 L254.38,412.17 L255.47,412.26 L256.56,412.36 L257.65,412.45 L258.74,412.54 L259.83,412.63 L260.91,412.72 L262.00,412.81 L263.09,412.90 L264.18,412.98 L265.27,413.07 L266.36,413.15 L267.45,413.23 L268.54,413.31 L269.63,413.39 L270.72,413.47 L271.80,413.55 L272.89,413.62 L273.98,413.70 L275.07,413.78 L276.16,413.85 L277.25,413.93 L278.34,414.00 L279.43,414.08 L280.52,414.15 L281.61,414.22 L282.69,414.29 L283.78,414.37 L284.87,414.44 L285.96,414.51 L287.05,414.58 L288.14,414.65 L289.23,414.72 L290.32,414.79 L291.41,414.85 L292.49,414.92 L293.58,414.99 L294.67,415.06 L295.76,415.12 L296.85,415.19 L297.94,415.26 L299.03,415.32 L300.12,415.39 L301.21,415.45 L302.30,415.52 L303.38,415.58 L304.47,415.65 L305.56,415.71 L306.65,415.77 L307.74,415.84 L308.83,415.90 L309.92,415.96 L311.01,416.03 L312.10,416.09 L313.19,416.15 L314.27,416.21 L315.36,416.27 L316.45,416.33 L317.54,416.40 L318.63,416.46 L319.72,416.52 L320.81,416.58 L321.90,416.64 L322.99,416.70 L324.08,416.76 L325.16,416.82 L326.25,416.88 L327.34,416.93 L328.43,416.99 L329.52,417.05 L330.61,417.11 L331.70,417.17 L332.79,417.23 L333.88,417.28 L334.96,417.34 L336.05,417.40 L337.14,417.46 L338.23,417.51 L339.32,417.57 L340.41,417.63 L341.50,417.68 L342.59,417.74 L343.68,417.79 L344.77,417.85 L345.85,417.91 L346.94,417.96 L348.03,418.02 L349.12,418.07 L350.21,418.13 L351.30,418.18 L352.39,418.24 L353.48,418.29 L354.57,418.35 L355.66,418.40 L356.74,418.46 L357.83,418.51 L358.92,418.56 L360.01,418.62 L361.10,418.67 L362.19,418.73 L363.28,418.78 L364.37,418.83 L365.46,418.89 L366.54,418.94 L367.63,418.99 L368.72,419.05 L369.81,419.10 L370.90,419.15 L371.99,419.21 L373.08,419.26 L374.17,419.31 L375.26,419.37 L376.35,419.42 L377.43,419.47 L378.52,419.52 L379.61,419.58 L380.70,419.63 L381.79,419.68 L382.88,419.73 L383.97,419.79 L385.06,419.84 L386.15,419.89 L387.24,419.94 L388.32,420.00 L389.41,420.05 L390.50,420.10 L391.59,420.15 L392.68,420.21 L393.77,420.26 L394.86,420.31 L395.95,420.36 L397.04,420.42 L398.12,420.47 L399.21,420.52 L400.30,420.57 L401.39,420.63 L402.48,420.68 L403.57,420.73 L404.66,420.78 L405.75,420.84 L406.84,420.89 L407.93,420.94 L409.01,420.99 L410.10,421.04 L411.19,421.10 L412.28,421.15 L413.37,421.20 L414.46,421.25 L415.55,421.30 L416.64,421.35 L417.73,421.40 L418.82,421.45 L419.90,421.50 L420.99,421.55 L422.08,421.60 L423.17,421.65 L424.26,421.70 L425.35,421.75 L426.44,421.80 L427.53,421.85 L428.62,421.90 L429.71,421.95 L430.79,422.00 L431.88,422.05 L432.97,422.10 L434.06,422.15 L435.15,422.20" fill="none" stroke="#10b0e0" stroke-width="5.2" stroke-linejoin="round"/>
<path d="M64.90,402.00 L65.99,401.97 L67.08,401.94 L68.17,401.91 L69.26,401.88 L70.34,401.86 L71.43,401.83 L72.52,401.80 L73.61,401.77 L74.70,401.75 L75.79,401.72 L76.88,401.69 L77.97,401.67 L79.06,401.64 L80.15,401.62 L81.23,401.59 L82.32,401.57 L83.41,401.55 L84.50,401.52 L85.59,401.50 L86.68,401.48 L87.77,401.46 L88.86,401.43 L89.95,401.41 L91.04,401.39 L92.12,401.37 L93.21,401.35 L94.30,401.33 L95.39,401.31 L96.48,401.30 L97.57,401.28 L98.66,401.26 L99.75,401.24 L100.84,401.23 L101.93,401.21 L103.01,401.20 L104.10,401.18 L105.19,401.17 L106.28,401.15 L107.37,401.14 L108.46,401.13 L109.55,401.12 L110.64,401.10 L111.73,401.09 L112.81,401.08 L113.90,401.07 L114.99,401.06 L116.08,401.06 L117.17,401.05 L118.26,401.04 L119.35,401.03 L120.44,401.03 L121.53,401.02 L122.62,401.02 L123.70,401.01 L124.79,401.01 L125.88,401.01 L126.97,401.00 L128.06,401.00 L129.15,401.00 L130.24,401.00 L131.33,401.00 L132.42,401.00 L133.51,401.00 L134.59,401.00 L135.68,401.00 L136.77,401.01 L137.86,401.01 L138.95,401.01 L140.04,401.01 L141.13,401.02 L142.22,401.02 L143.31,401.02 L144.39,401.03 L145.48,401.03 L146.57,401.03 L147.66,401.04 L148.75,401.04 L149.84,401.05 L150.93,401.05 L152.02,401.06 L153.11,401.06 L154.20,401.07 L155.28,401.07 L156.37,401.08 L157.46,401.09 L158.55,401.09 L159.64,401.10 L160.73,401.11 L161.82,401.11 L162.91,401.12 L164.00,401.13 L165.09,401.14 L166.17,401.14 L167.26,401.15 L168.35,401.16 L169.44,401.17 L170.53,401.17 L171.62,401.18 L172.71,401.19 L173.80,401.20 L174.89,401.21 L175.98,401.22 L177.06,401.23 L178.15,401.25 L179.24,401.26 L180.33,401.28 L181.42,401.30 L182.51,401.32 L183.60,401.35 L184.69,401.37 L185.78,401.39 L186.86,401.42 L187.95,401.45 L189.04,401.48 L190.13,401.51 L191.22,401.54 L192.31,401.57 L193.40,401.60 L194.49,401.64 L195.58,401.67 L196.67,401.71 L197.75,401.75 L198.84,401.78 L199.93,401.82 L201.02,401.86 L202.11,401.90 L203.20,401.94 L204.29,401.98 L205.38,402.02 L206.47,402.06 L207.56,402.11 L208.64,402.15 L209.73,402.19 L210.82,402.23 L211.91,402.28 L213.00,402.32 L214.09,402.36 L215.18,402.41 L216.27,402.45 L217.36,402.49 L218.44,402.54 L219.53,402.58 L220.62,402.62 L221.71,402.67 L222.80,402.71 L223.89,402.75 L224.98,402.79 L226.07,402.83 L227.16,402.88 L228.25,402.92 L229.33,402.96 L230.42,403.01 L231.51,403.05 L232.60,403.10 L233.69,403.15 L234.78,403.19 L235.87,403.24 L236.96,403.29 L238.05,403.34 L239.14,403.39 L240.22,403.44 L241.31,403.49 L242.40,403.55 L243.49,403.60 L244.58,403.65 L245.67,403.70 L246.76,403.76 L247.85,403.81 L248.94,403.87 L250.03,403.92 L251.11,403.98 L252.20,404.03 L253.29,404.09 L254.38,404.14 L255.47,404.20 L256.56,404.26 L257.65,404.31 L258.74,404.37 L259.83,404.42 L260.91,404.48 L262.00,404.54 L263.09,404.60 L264.18,404.65 L265.27,404.71 L266.36,404.77 L267.45,404.82 L268.54,404.88 L269.63,404.94 L270.72,405.00 L271.80,405.06 L272.89,405.12 L273.98,405.18 L275.07,405.24 L276.16,405.31 L277.25,405.37 L278.34,405.43 L279.43,405.50 L280.52,405.56 L281.61,405.63 L282.69,405.69 L283.78,405.76 L284.87,405.82 L285.96,405.89 L287.05,405.96 L288.14,406.02 L289.23,406.09 L290.32,406.15 L291.41,406.22 L292.49,406.28 L293.58,406.35 L294.67,406.41 L295.76,406.48 L296.85,406.54 L297.94,406.61 L299.03,406.67 L300.12,406.73 L301.21,406.79 L302.30,406.85 L303.38,406.91 L304.47,406.97 L305.56,407.03 L306.65,407.09 L307.74,407.14 L308.83,407.20 L309.92,407.25 L311.01,407.31 L312.10,407.36 L313.19,407.42 L314.27,407.48 L315.36,407.53 L316.45,407.59 L317.54,407.64 L318.63,407.70 L319.72,407.75 L320.81,407.81 L321.90,407.86 L322.99,407.92 L324.08,407.97 L325.16,408.03 L326.25,408.08 L327.34,408.14 L328.43,408.19 L329.52,408.24 L330.61,408.30 L331.70,408.35 L332.79,408.41 L333.88,408.46 L334.96,408.52 L336.05,408.57 L337.14,408.62 L338.23,408.68 L339.32,408.73 L340.41,408.78 L341.50,408.84 L342.59,408.89 L343.68,408.94 L344.77,409.00 L345.85,409.05 L346.94,409.10 L348.03,409.15 L349.12,409.20 L350.21,409.26 L351.30,409.31 L352.39,409.36 L353.48,409.41 L354.57,409.46 L355.66,409.51 L356.74,409.56 L357.83,409.61 L358.92,409.66 L360.01,409.71 L361.10,409.76 L362.19,409.80 L363.28,409.85 L364.37,409.90 L365.46,409.95 L366.54,409.99 L367.63,410.04 L368.72,410.09 L369.81,410.13 L370.90,410.18 L371.99,410.22 L373.08,410.27 L374.17,410.31 L375.26,410.36 L376.35,410.40 L377.43,410.44 L378.52,410.48 L379.61,410.53 L380.70,410.57 L381.79,410.61 L382.88,410.65 L383.97,410.69 L385.06,410.73 L386.15,410.77 L387.24,410.81 L388.32,410.84 L389.41,410.88 L390.50,410.92 L391.59,410.96 L392.68,410.99 L393.77,411.03 L394.86,411.06 L395.95,411.10 L397.04,411.13 L398.12,411.16 L399.21,411.19 L400.30,411.23 L401.39,411.26 L402.48,411.29 L403.57,411.32 L404.66,411.35 L405.75,411.38 L406.84,411.40 L407.93,411.43 L409.01,411.46 L410.10,411.49 L411.19,411.51 L412.28,411.54 L413.37,411.57 L414.46,411.59 L415.55,411.62 L416.64,411.64 L417.73,411.67 L418.82,411.69 L419.90,411.71 L420.99,411.74 L422.08,411.76 L423.17,411.78 L424.26,411.80 L425.35,411.83 L426.44,411.85 L427.53,411.87 L428.62,411.89 L429.71,411.91 L430.79,411.93 L431.88,411.95 L432.97,411.96 L434.06,411.98 L435.15,412.00" fill="none" stroke="#0b6594" stroke-width="4" stroke-linejoin="round"/>
<path d="M64.90,403.80 L65.99,403.83 L67.08,403.86 L68.17,403.89 L69.26,403.92 L70.34,403.95 L71.43,403.99 L72.52,404.02 L73.61,404.06 L74.70,404.10 L75.79,404.14 L76.88,404.18 L77.97,404.22 L79.06,404.26 L80.15,404.31 L81.23,404.35 L82.32,404.40 L83.41,404.45 L84.50,404.49 L85.59,404.54 L86.68,404.59 L87.77,404.64 L88.86,404.70 L89.95,404.75 L91.04,404.80 L92.12,404.86 L93.21,404.91 L94.30,404.97 L95.39,405.03 L96.48,405.09 L97.57,405.14 L98.66,405.20 L99.75,405.26 L100.84,405.33 L101.93,405.39 L103.01,405.45 L104.10,405.51 L105.19,405.58 L106.28,405.64 L107.37,405.71 L108.46,405.77 L109.55,405.84 L110.64,405.91 L111.73,405.98 L112.81,406.04 L113.90,406.11 L114.99,406.18 L116.08,406.25 L117.17,406.32 L118.26,406.39 L119.35,406.47 L120.44,406.54 L121.53,406.61 L122.62,406.68 L123.70,406.75 L124.79,406.83 L125.88,406.90 L126.97,406.98 L128.06,407.05 L129.15,407.13 L130.24,407.20 L131.33,407.28 L132.42,407.36 L133.51,407.44 L134.59,407.52 L135.68,407.61 L136.77,407.70 L137.86,407.79 L138.95,407.89 L140.04,407.98 L141.13,408.08 L142.22,408.18 L143.31,408.29 L144.39,408.39 L145.48,408.50 L146.57,408.60 L147.66,408.71 L148.75,408.82 L149.84,408.93 L150.93,409.04 L152.02,409.15 L153.11,409.27 L154.20,409.38 L155.28,409.49 L156.37,409.61 L157.46,409.72 L158.55,409.84 L159.64,409.95 L160.73,410.07 L161.82,410.18 L162.91,410.30 L164.00,410.41 L165.09,410.52 L166.17,410.64 L167.26,410.75 L168.35,410.86 L169.44,410.97 L170.53,411.08 L171.62,411.19 L172.71,411.29 L173.80,411.40 L174.89,411.50 L175.98,411.61 L177.06,411.71 L178.15,411.82 L179.24,411.92 L180.33,412.02 L181.42,412.13 L182.51,412.23 L183.60,412.33 L184.69,412.44 L185.78,412.54 L186.86,412.64 L187.95,412.74 L189.04,412.85 L190.13,412.95 L191.22,413.05 L192.31,413.15 L193.40,413.26 L194.49,413.36 L195.58,413.46 L196.67,413.56 L197.75,413.67 L198.84,413.77 L199.93,413.87 L201.02,413.97 L202.11,414.08 L203.20,414.18 L204.29,414.28 L205.38,414.39 L206.47,414.49 L207.56,414.59 L208.64,414.70 L209.73,414.80 L210.82,414.90 L211.91,415.01 L213.00,415.11 L214.09,415.22 L215.18,415.32 L216.27,415.43 L217.36,415.53 L218.44,415.64 L219.53,415.74 L220.62,415.85 L221.71,415.96 L222.80,416.06 L223.89,416.17 L224.98,416.28 L226.07,416.39 L227.16,416.50 L228.25,416.61 L229.33,416.72 L230.42,416.83 L231.51,416.94 L232.60,417.05 L233.69,417.17 L234.78,417.28 L235.87,417.39 L236.96,417.51 L238.05,417.62 L239.14,417.74 L240.22,417.85 L241.31,417.97 L242.40,418.08 L243.49,418.20 L244.58,418.32 L245.67,418.43 L246.76,418.55 L247.85,418.66 L248.94,418.78 L250.03,418.89 L251.11,419.01 L252.20,419.12 L253.29,419.23 L254.38,419.35 L255.47,419.46 L256.56,419.57 L257.65,419.68 L258.74,419.79 L259.83,419.90 L260.91,420.01 L262.00,420.12 L263.09,420.22 L264.18,420.33 L265.27,420.44 L266.36,420.54 L267.45,420.64 L268.54,420.74 L269.63,420.85 L270.72,420.95 L271.80,421.05 L272.89,421.16 L273.98,421.26 L275.07,421.36 L276.16,421.47 L277.25,421.57 L278.34,421.68 L279.43,421.78 L280.52,421.88 L281.61,421.99 L282.69,422.09 L283.78,422.19 L284.87,422.29 L285.96,422.39 L287.05,422.49 L288.14,422.59 L289.23,422.69 L290.32,422.78 L291.41,422.88 L292.49,422.97 L293.58,423.07 L294.67,423.16 L295.76,423.25 L296.85,423.34 L297.94,423.43 L299.03,423.51 L300.12,423.60 L301.21,423.68 L302.30,423.76 L303.38,423.84 L304.47,423.91 L305.56,423.99 L306.65,424.06 L307.74,424.13 L308.83,424.20 L309.92,424.27 L311.01,424.33 L312.10,424.40 L313.19,424.46 L314.27,424.52 L315.36,424.59 L316.45,424.65 L317.54,424.71 L318.63,424.77 L319.72,424.83 L320.81,424.89 L321.90,424.95 L322.99,425.01 L324.08,425.07 L325.16,425.13 L326.25,425.18 L327.34,425.24 L328.43,425.29 L329.52,425.35 L330.61,425.40 L331.70,425.46 L332.79,425.51 L333.88,425.57 L334.96,425.62 L336.05,425.67 L337.14,425.72 L338.23,425.77 L339.32,425.82 L340.41,425.87 L341.50,425.92 L342.59,425.97 L343.68,426.02 L344.77,426.07 L345.85,426.12 L346.94,426.17 L348.03,426.22 L349.12,426.26 L350.21,426.31 L351.30,426.36 L352.39,426.40 L353.48,426.45 L354.57,426.50 L355.66,426.54 L356.74,426.59 L357.83,426.63 L358.92,426.68 L360.01,426.72 L361.10,426.76 L362.19,426.81 L363.28,426.85 L364.37,426.90 L365.46,426.94 L366.54,426.98 L367.63,427.03 L368.72,427.07 L369.81,427.11 L370.90,427.16 L371.99,427.20 L373.08,427.24 L374.17,427.28 L375.26,427.32 L376.35,427.37 L377.43,427.41 L378.52,427.45 L379.61,427.49 L380.70,427.54 L381.79,427.58 L382.88,427.62 L383.97,427.66 L385.06,427.70 L386.15,427.74 L387.24,427.79 L388.32,427.83 L389.41,427.87 L390.50,427.91 L391.59,427.95 L392.68,428.00 L393.77,428.04 L394.86,428.08 L395.95,428.12 L397.04,428.17 L398.12,428.21 L399.21,428.25 L400.30,428.30 L401.39,428.34 L402.48,428.38 L403.57,428.43 L404.66,428.47 L405.75,428.51 L406.84,428.56 L407.93,428.60 L409.01,428.64 L410.10,428.68 L411.19,428.72 L412.28,428.77 L413.37,428.81 L414.46,428.85 L415.55,428.89 L416.64,428.93 L417.73,428.97 L418.82,429.01 L419.90,429.05 L420.99,429.09 L422.08,429.13 L423.17,429.17 L424.26,429.21 L425.35,429.25 L426.44,429.29 L427.53,429.33 L428.62,429.37 L429.71,429.41 L430.79,429.45 L431.88,429.48 L432.97,429.52 L434.06,429.56 L435.15,429.60" fill="none" stroke="#0b6594" stroke-width="4" stroke-linejoin="round"/>
<path d="M64.90,606.78 L65.99,606.78 L67.08,606.77 L68.17,606.75 L69.26,606.73 L70.34,606.70 L71.43,606.67 L72.52,606.63 L73.61,606.58 L74.70,606.53 L75.79,606.47 L76.88,606.40 L77.97,606.33 L79.06,606.25 L80.15,606.17 L81.23,606.08 L82.32,605.98 L83.41,605.88 L84.50,605.77 L85.59,605.65 L86.68,605.53 L87.77,605.41 L88.86,605.27 L89.95,605.13 L91.04,604.99 L92.12,604.84 L93.21,604.68 L94.30,604.51 L95.39,604.34 L96.48,604.17 L97.57,603.99 L98.66,603.80 L99.75,603.61 L100.84,603.41 L101.93,603.20 L103.01,602.99 L104.10,602.77 L105.19,602.55 L106.28,602.32 L107.37,602.09 L108.46,601.85 L109.55,601.60 L110.64,601.35 L111.73,601.10 L112.81,600.83 L113.90,600.57 L114.99,600.29 L116.08,600.02 L117.17,599.73 L118.26,599.44 L119.35,599.15 L120.44,598.85 L121.53,598.54 L122.62,598.23 L123.70,597.91 L124.79,597.59 L125.88,597.27 L126.97,596.93 L128.06,596.60 L129.15,596.26 L130.24,595.91 L131.33,595.56 L132.42,595.20 L133.51,594.84 L134.59,594.47 L135.68,594.10 L136.77,593.72 L137.86,593.34 L138.95,592.96 L140.04,592.57 L141.13,592.17 L142.22,591.77 L143.31,591.37 L144.39,590.96 L145.48,590.55 L146.57,590.13 L147.66,589.71 L148.75,589.29 L149.84,588.86 L150.93,588.42 L152.02,587.99 L153.11,587.54 L154.20,587.10 L155.28,586.65 L156.37,586.19 L157.46,585.74 L158.55,585.27 L159.64,584.81 L160.73,584.34 L161.82,583.87 L162.91,583.39 L164.00,582.91 L165.09,582.43 L166.17,581.94 L167.26,581.45 L168.35,580.96 L169.44,580.46 L170.53,579.96 L171.62,579.46 L172.71,578.95 L173.80,578.44 L174.89,577.93 L175.98,577.42 L177.06,576.90 L178.15,576.38 L179.24,575.85 L180.33,575.33 L181.42,574.80 L182.51,574.27 L183.60,573.73 L184.69,573.20 L185.78,572.66 L186.86,572.12 L187.95,571.57 L189.04,571.03 L190.13,570.48 L191.22,569.93 L192.31,569.38 L193.40,568.82 L194.49,568.26 L195.58,567.71 L196.67,567.15 L197.75,566.58 L198.84,566.02 L199.93,565.45 L201.02,564.89 L202.11,564.32 L203.20,563.75 L204.29,563.18 L205.38,562.60 L206.47,562.03 L207.56,561.45 L208.64,560.88 L209.73,560.30 L210.82,559.72 L211.91,559.14 L213.00,558.56 L214.09,557.97 L215.18,557.39 L216.27,556.81 L217.36,556.22 L218.44,555.64 L219.53,555.05 L220.62,554.46 L221.71,553.87 L222.80,553.29 L223.89,552.70 L224.98,552.11 L226.07,551.52 L227.16,550.93 L228.25,550.34 L229.33,549.75 L230.42,549.16 L231.51,548.57 L232.60,547.98 L233.69,547.39 L234.78,546.80 L235.87,546.21 L236.96,545.62 L238.05,545.03 L239.14,544.44 L240.22,543.86 L241.31,543.27 L242.40,542.68 L243.49,542.09 L244.58,541.50 L245.67,540.92 L246.76,540.33 L247.85,539.75 L248.94,539.16 L250.03,538.58 L251.11,538.00 L252.20,537.42 L253.29,536.84 L254.38,536.26 L255.47,535.68 L256.56,535.10 L257.65,534.52 L258.74,533.95 L259.83,533.38 L260.91,532.80 L262.00,532.23 L263.09,531.66 L264.18,531.09 L265.27,530.53 L266.36,529.96 L267.45,529.40 L268.54,528.83 L269.63,528.27 L270.72,527.71 L271.80,527.15 L272.89,526.60 L273.98,526.04 L275.07,525.49 L276.16,524.94 L277.25,524.39 L278.34,523.85 L279.43,523.30 L280.52,522.76 L281.61,522.22 L282.69,521.68 L283.78,521.14 L284.87,520.61 L285.96,520.08 L287.05,519.55 L288.14,519.02 L289.23,518.49 L290.32,517.97 L291.41,517.45 L292.49,516.93 L293.58,516.41 L294.67,515.90 L295.76,515.39 L296.85,514.88 L297.94,514.38 L299.03,513.87 L300.12,513.37 L301.21,512.87 L302.30,512.38 L303.38,511.88 L304.47,511.39 L305.56,510.91 L306.65,510.42 L307.74,509.94 L308.83,509.46 L309.92,508.98 L311.01,508.51 L312.10,508.04 L313.19,507.57 L314.27,507.11 L315.36,506.65 L316.45,506.19 L317.54,505.73 L318.63,505.28 L319.72,504.83 L320.81,504.38 L321.90,503.94 L322.99,503.50 L324.08,503.06 L325.16,502.63 L326.25,502.20 L327.34,501.77 L328.43,501.34 L329.52,500.92 L330.61,500.50 L331.70,500.09 L332.79,499.68 L333.88,499.27 L334.96,498.86 L336.05,498.46 L337.14,498.06 L338.23,497.67 L339.32,497.27 L340.41,496.89 L341.50,496.50 L342.59,496.12 L343.68,495.74 L344.77,495.37 L345.85,494.99 L346.94,494.63 L348.03,494.26 L349.12,493.90 L350.21,493.54 L351.30,493.19 L352.39,492.84 L353.48,492.49 L354.57,492.15 L355.66,491.81 L356.74,491.47 L357.83,491.14 L358.92,490.81 L360.01,490.48 L361.10,490.16 L362.19,489.84 L363.28,489.52 L364.37,489.21 L365.46,488.90 L366.54,488.60 L367.63,488.30 L368.72,488.00 L369.81,487.70 L370.90,487.41 L371.99,487.13 L373.08,486.84 L374.17,486.56 L375.26,486.29 L376.35,486.02 L377.43,485.75 L378.52,485.48 L379.61,485.22 L380.70,484.96 L381.79,484.71 L382.88,484.46 L383.97,484.21 L385.06,483.97 L386.15,483.73 L387.24,483.49 L388.32,483.26 L389.41,483.03 L390.50,482.81 L391.59,482.59 L392.68,482.37 L393.77,482.15 L394.86,481.94 L395.95,481.74 L397.04,481.53 L398.12,481.33 L399.21,481.14 L400.30,480.95 L401.39,480.76 L402.48,480.57 L403.57,480.39 L404.66,480.22 L405.75,480.04 L406.84,479.87 L407.93,479.71 L409.01,479.54 L410.10,479.38 L411.19,479.23 L412.28,479.08 L413.37,478.93 L414.46,478.79 L415.55,478.64 L416.64,478.51 L417.73,478.37 L418.82,478.24 L419.90,478.12 L420.99,478.00 L422.08,477.88 L423.17,477.76 L424.26,477.65 L425.35,477.54 L426.44,477.44 L427.53,477.34 L428.62,477.24 L429.71,477.15 L430.79,477.06 L431.88,476.97 L432.97,476.89 L434.06,476.81 L435.15,476.74" fill="none" stroke="#10b0e0" stroke-width="4.8" stroke-linejoin="round"/>
<path d="M64.90,640.11 L65.99,640.11 L67.08,640.11 L68.17,640.10 L69.26,640.09 L70.34,640.08 L71.43,640.07 L72.52,640.05 L73.61,640.03 L74.70,640.01 L75.79,639.99 L76.88,639.97 L77.97,639.94 L79.06,639.91 L80.15,639.88 L81.23,639.85 L82.32,639.81 L83.41,639.77 L84.50,639.73 L85.59,639.69 L86.68,639.64 L87.77,639.59 L88.86,639.54 L89.95,639.49 L91.04,639.44 L92.12,639.38 L93.21,639.32 L94.30,639.26 L95.39,639.20 L96.48,639.13 L97.57,639.06 L98.66,638.99 L99.75,638.92 L100.84,638.85 L101.93,638.77 L103.01,638.69 L104.10,638.61 L105.19,638.53 L106.28,638.45 L107.37,638.36 L108.46,638.27 L109.55,638.18 L110.64,638.09 L111.73,638.00 L112.81,637.90 L113.90,637.80 L114.99,637.70 L116.08,637.60 L117.17,637.50 L118.26,637.39 L119.35,637.28 L120.44,637.17 L121.53,637.06 L122.62,636.95 L123.70,636.84 L124.79,636.72 L125.88,636.60 L126.97,636.48 L128.06,636.36 L129.15,636.24 L130.24,636.12 L131.33,635.99 L132.42,635.86 L133.51,635.73 L134.59,635.60 L135.68,635.47 L136.77,635.34 L137.86,635.20 L138.95,635.07 L140.04,634.93 L141.13,634.79 L142.22,634.65 L143.31,634.51 L144.39,634.37 L145.48,634.22 L146.57,634.08 L147.66,633.93 L148.75,633.78 L149.84,633.63 L150.93,633.48 L152.02,633.33 L153.11,633.18 L154.20,633.02 L155.28,632.87 L156.37,632.71 L157.46,632.56 L158.55,632.40 L159.64,632.24 L160.73,632.08 L161.82,631.92 L162.91,631.76 L164.00,631.60 L165.09,631.43 L166.17,631.27 L167.26,631.10 L168.35,630.94 L169.44,630.77 L170.53,630.60 L171.62,630.43 L172.71,630.27 L173.80,630.10 L174.89,629.93 L175.98,629.75 L177.06,629.58 L178.15,629.41 L179.24,629.24 L180.33,629.06 L181.42,628.89 L182.51,628.72 L183.60,628.54 L184.69,628.37 L185.78,628.19 L186.86,628.01 L187.95,627.84 L189.04,627.66 L190.13,627.48 L191.22,627.30 L192.31,627.12 L193.40,626.94 L194.49,626.76 L195.58,626.58 L196.67,626.40 L197.75,626.22 L198.84,626.04 L199.93,625.86 L201.02,625.68 L202.11,625.50 L203.20,625.32 L204.29,625.14 L205.38,624.95 L206.47,624.77 L207.56,624.59 L208.64,624.41 L209.73,624.22 L210.82,624.04 L211.91,623.86 L213.00,623.67 L214.09,623.49 L215.18,623.31 L216.27,623.12 L217.36,622.94 L218.44,622.75 L219.53,622.57 L220.62,622.39 L221.71,622.20 L222.80,622.02 L223.89,621.83 L224.98,621.65 L226.07,621.46 L227.16,621.28 L228.25,621.10 L229.33,620.91 L230.42,620.73 L231.51,620.54 L232.60,620.36 L233.69,620.17 L234.78,619.99 L235.87,619.80 L236.96,619.62 L238.05,619.43 L239.14,619.25 L240.22,619.07 L241.31,618.88 L242.40,618.70 L243.49,618.51 L244.58,618.33 L245.67,618.15 L246.76,617.96 L247.85,617.78 L248.94,617.59 L250.03,617.41 L251.11,617.23 L252.20,617.04 L253.29,616.86 L254.38,616.68 L255.47,616.49 L256.56,616.31 L257.65,616.13 L258.74,615.94 L259.83,615.76 L260.91,615.58 L262.00,615.39 L263.09,615.21 L264.18,615.03 L265.27,614.85 L266.36,614.66 L267.45,614.48 L268.54,614.30 L269.63,614.12 L270.72,613.94 L271.80,613.76 L272.89,613.57 L273.98,613.39 L275.07,613.21 L276.16,613.03 L277.25,612.85 L278.34,612.67 L279.43,612.49 L280.52,612.31 L281.61,612.13 L282.69,611.95 L283.78,611.77 L284.87,611.59 L285.96,611.41 L287.05,611.23 L288.14,611.05 L289.23,610.87 L290.32,610.69 L291.41,610.51 L292.49,610.33 L293.58,610.15 L294.67,609.97 L295.76,609.80 L296.85,609.62 L297.94,609.44 L299.03,609.26 L300.12,609.09 L301.21,608.91 L302.30,608.73 L303.38,608.56 L304.47,608.38 L305.56,608.20 L306.65,608.03 L307.74,607.85 L308.83,607.68 L309.92,607.50 L311.01,607.33 L312.10,607.15 L313.19,606.98 L314.27,606.80 L315.36,606.63 L316.45,606.46 L317.54,606.29 L318.63,606.11 L319.72,605.94 L320.81,605.77 L321.90,605.60 L322.99,605.43 L324.08,605.26 L325.16,605.09 L326.25,604.92 L327.34,604.75 L328.43,604.58 L329.52,604.41 L330.61,604.24 L331.70,604.07 L332.79,603.91 L333.88,603.74 L334.96,603.58 L336.05,603.41 L337.14,603.25 L338.23,603.08 L339.32,602.92 L340.41,602.75 L341.50,602.59 L342.59,602.43 L343.68,602.27 L344.77,602.11 L345.85,601.95 L346.94,601.79 L348.03,601.63 L349.12,601.47 L350.21,601.32 L351.30,601.16 L352.39,601.01 L353.48,600.85 L354.57,600.70 L355.66,600.54 L356.74,600.39 L357.83,600.24 L358.92,600.09 L360.01,599.94 L361.10,599.79 L362.19,599.64 L363.28,599.50 L364.37,599.35 L365.46,599.21 L366.54,599.06 L367.63,598.92 L368.72,598.78 L369.81,598.64 L370.90,598.50 L371.99,598.36 L373.08,598.22 L374.17,598.09 L375.26,597.95 L376.35,597.82 L377.43,597.68 L378.52,597.55 L379.61,597.42 L380.70,597.29 L381.79,597.17 L382.88,597.04 L383.97,596.91 L385.06,596.79 L386.15,596.67 L387.24,596.55 L388.32,596.43 L389.41,596.31 L390.50,596.19 L391.59,596.08 L392.68,595.96 L393.77,595.85 L394.86,595.74 L395.95,595.63 L397.04,595.52 L398.12,595.42 L399.21,595.31 L400.30,595.21 L401.39,595.11 L402.48,595.01 L403.57,594.91 L404.66,594.81 L405.75,594.72 L406.84,594.63 L407.93,594.53 L409.01,594.45 L410.10,594.36 L411.19,594.27 L412.28,594.19 L413.37,594.10 L414.46,594.02 L415.55,593.95 L416.64,593.87 L417.73,593.79 L418.82,593.72 L419.90,593.65 L420.99,593.58 L422.08,593.51 L423.17,593.45 L424.26,593.38 L425.35,593.32 L426.44,593.26 L427.53,593.20 L428.62,593.15 L429.71,593.10 L430.79,593.04 L431.88,592.99 L432.97,592.95 L434.06,592.90 L435.15,592.86" fill="none" stroke="#10b0e0" stroke-width="4.8" stroke-linejoin="round"/>
<path d="M64.90,638.25 L65.99,638.25 L67.08,638.24 L68.17,638.22 L69.26,638.19 L70.34,638.16 L71.43,638.12 L72.52,638.08 L73.61,638.02 L74.70,637.96 L75.79,637.90 L76.88,637.82 L77.97,637.74 L79.06,637.66 L80.15,637.56 L81.23,637.46 L82.32,637.35 L83.41,637.23 L84.50,637.11 L85.59,636.98 L86.68,636.85 L87.77,636.70 L88.86,636.55 L89.95,636.40 L91.04,636.24 L92.12,636.07 L93.21,635.89 L94.30,635.71 L95.39,635.52 L96.48,635.32 L97.57,635.12 L98.66,634.91 L99.75,634.69 L100.84,634.47 L101.93,634.24 L103.01,634.01 L104.10,633.77 L105.19,633.52 L106.28,633.26 L107.37,633.00 L108.46,632.74 L109.55,632.47 L110.64,632.19 L111.73,631.90 L112.81,631.61 L113.90,631.32 L114.99,631.02 L116.08,630.71 L117.17,630.40 L118.26,630.08 L119.35,629.75 L120.44,629.42 L121.53,629.09 L122.62,628.75 L123.70,628.40 L124.79,628.05 L125.88,627.69 L126.97,627.33 L128.06,626.96 L129.15,626.59 L130.24,626.21 L131.33,625.83 L132.42,625.44 L133.51,625.05 L134.59,624.65 L135.68,624.25 L136.77,623.84 L137.86,623.43 L138.95,623.01 L140.04,622.59 L141.13,622.17 L142.22,621.74 L143.31,621.31 L144.39,620.87 L145.48,620.43 L146.57,619.98 L147.66,619.53 L148.75,619.08 L149.84,618.62 L150.93,618.16 L152.02,617.69 L153.11,617.22 L154.20,616.75 L155.28,616.27 L156.37,615.80 L157.46,615.31 L158.55,614.83 L159.64,614.34 L160.73,613.84 L161.82,613.35 L162.91,612.85 L164.00,612.35 L165.09,611.84 L166.17,611.33 L167.26,610.82 L168.35,610.31 L169.44,609.79 L170.53,609.27 L171.62,608.75 L172.71,608.23 L173.80,607.70 L174.89,607.18 L175.98,606.65 L177.06,606.11 L178.15,605.58 L179.24,605.04 L180.33,604.50 L181.42,603.96 L182.51,603.42 L183.60,602.87 L184.69,602.33 L185.78,601.78 L186.86,601.23 L187.95,600.68 L189.04,600.13 L190.13,599.57 L191.22,599.02 L192.31,598.46 L193.40,597.90 L194.49,597.34 L195.58,596.78 L196.67,596.22 L197.75,595.66 L198.84,595.10 L199.93,594.53 L201.02,593.97 L202.11,593.40 L203.20,592.84 L204.29,592.27 L205.38,591.70 L206.47,591.14 L207.56,590.57 L208.64,590.00 L209.73,589.43 L210.82,588.86 L211.91,588.29 L213.00,587.72 L214.09,587.15 L215.18,586.58 L216.27,586.01 L217.36,585.44 L218.44,584.87 L219.53,584.30 L220.62,583.73 L221.71,583.16 L222.80,582.59 L223.89,582.02 L224.98,581.45 L226.07,580.88 L227.16,580.31 L228.25,579.74 L229.33,579.18 L230.42,578.61 L231.51,578.04 L232.60,577.48 L233.69,576.91 L234.78,576.35 L235.87,575.78 L236.96,575.22 L238.05,574.66 L239.14,574.10 L240.22,573.53 L241.31,572.97 L242.40,572.42 L243.49,571.86 L244.58,571.30 L245.67,570.75 L246.76,570.19 L247.85,569.64 L248.94,569.08 L250.03,568.53 L251.11,567.98 L252.20,567.43 L253.29,566.89 L254.38,566.34 L255.47,565.79 L256.56,565.25 L257.65,564.71 L258.74,564.17 L259.83,563.63 L260.91,563.09 L262.00,562.55 L263.09,562.02 L264.18,561.48 L265.27,560.95 L266.36,560.42 L267.45,559.89 L268.54,559.36 L269.63,558.84 L270.72,558.31 L271.80,557.79 L272.89,557.27 L273.98,556.75 L275.07,556.23 L276.16,555.72 L277.25,555.20 L278.34,554.69 L279.43,554.18 L280.52,553.67 L281.61,553.17 L282.69,552.66 L283.78,552.16 L284.87,551.66 L285.96,551.16 L287.05,550.66 L288.14,550.17 L289.23,549.67 L290.32,549.18 L291.41,548.69 L292.49,548.21 L293.58,547.72 L294.67,547.24 L295.76,546.76 L296.85,546.28 L297.94,545.80 L299.03,545.33 L300.12,544.86 L301.21,544.39 L302.30,543.92 L303.38,543.45 L304.47,542.99 L305.56,542.53 L306.65,542.07 L307.74,541.61 L308.83,541.16 L309.92,540.70 L311.01,540.25 L312.10,539.81 L313.19,539.36 L314.27,538.92 L315.36,538.48 L316.45,538.04 L317.54,537.60 L318.63,537.17 L319.72,536.74 L320.81,536.31 L321.90,535.88 L322.99,535.46 L324.08,535.04 L325.16,534.62 L326.25,534.20 L327.34,533.79 L328.43,533.38 L329.52,532.97 L330.61,532.56 L331.70,532.16 L332.79,531.76 L333.88,531.36 L334.96,530.96 L336.05,530.57 L337.14,530.18 L338.23,529.79 L339.32,529.40 L340.41,529.02 L341.50,528.64 L342.59,528.26 L343.68,527.89 L344.77,527.52 L345.85,527.15 L346.94,526.78 L348.03,526.42 L349.12,526.06 L350.21,525.70 L351.30,525.35 L352.39,525.00 L353.48,524.65 L354.57,524.30 L355.66,523.96 L356.74,523.62 L357.83,523.28 L358.92,522.95 L360.01,522.61 L361.10,522.29 L362.19,521.96 L363.28,521.64 L364.37,521.32 L365.46,521.00 L366.54,520.69 L367.63,520.38 L368.72,520.07 L369.81,519.77 L370.90,519.47 L371.99,519.17 L373.08,518.88 L374.17,518.59 L375.26,518.30 L376.35,518.02 L377.43,517.74 L378.52,517.46 L379.61,517.19 L380.70,516.91 L381.79,516.65 L382.88,516.38 L383.97,516.12 L385.06,515.86 L386.15,515.61 L387.24,515.36 L388.32,515.11 L389.41,514.87 L390.50,514.63 L391.59,514.39 L392.68,514.16 L393.77,513.93 L394.86,513.70 L395.95,513.48 L397.04,513.26 L398.12,513.05 L399.21,512.84 L400.30,512.63 L401.39,512.42 L402.48,512.22 L403.57,512.03 L404.66,511.83 L405.75,511.64 L406.84,511.46 L407.93,511.28 L409.01,511.10 L410.10,510.92 L411.19,510.75 L412.28,510.59 L413.37,510.42 L414.46,510.26 L415.55,510.11 L416.64,509.96 L417.73,509.81 L418.82,509.66 L419.90,509.52 L420.99,509.39 L422.08,509.26 L423.17,509.13 L424.26,509.00 L425.35,508.88 L426.44,508.77 L427.53,508.66 L428.62,508.55 L429.71,508.44 L430.79,508.34 L431.88,508.25 L432.97,508.16 L434.06,508.07 L435.15,507.98" fill="none" stroke="#0b6594" stroke-width="5.2" stroke-linejoin="round"/>
<path d="M64.90,638.86 L65.99,638.86 L67.08,638.85 L68.17,638.85 L69.26,638.83 L70.34,638.82 L71.43,638.80 L72.52,638.78 L73.61,638.75 L74.70,638.73 L75.79,638.70 L76.88,638.66 L77.97,638.62 L79.06,638.58 L80.15,638.54 L81.23,638.49 L82.32,638.44 L83.41,638.38 L84.50,638.33 L85.59,638.27 L86.68,638.20 L87.77,638.13 L88.86,638.06 L89.95,637.99 L91.04,637.91 L92.12,637.83 L93.21,637.75 L94.30,637.66 L95.39,637.57 L96.48,637.47 L97.57,637.38 L98.66,637.28 L99.75,637.17 L100.84,637.06 L101.93,636.95 L103.01,636.84 L104.10,636.72 L105.19,636.60 L106.28,636.48 L107.37,636.35 L108.46,636.22 L109.55,636.08 L110.64,635.94 L111.73,635.80 L112.81,635.66 L113.90,635.51 L114.99,635.36 L116.08,635.20 L117.17,635.04 L118.26,634.88 L119.35,634.72 L120.44,634.55 L121.53,634.38 L122.62,634.20 L123.70,634.02 L124.79,633.84 L125.88,633.65 L126.97,633.47 L128.06,633.27 L129.15,633.08 L130.24,632.88 L131.33,632.67 L132.42,632.47 L133.51,632.26 L134.59,632.05 L135.68,631.83 L136.77,631.61 L137.86,631.39 L138.95,631.16 L140.04,630.93 L141.13,630.70 L142.22,630.46 L143.31,630.22 L144.39,629.97 L145.48,629.73 L146.57,629.48 L147.66,629.22 L148.75,628.97 L149.84,628.70 L150.93,628.44 L152.02,628.17 L153.11,627.90 L154.20,627.63 L155.28,627.35 L156.37,627.07 L157.46,626.79 L158.55,626.50 L159.64,626.21 L160.73,625.92 L161.82,625.62 L162.91,625.32 L164.00,625.02 L165.09,624.71 L166.17,624.40 L167.26,624.09 L168.35,623.77 L169.44,623.45 L170.53,623.13 L171.62,622.80 L172.71,622.48 L173.80,622.14 L174.89,621.81 L175.98,621.47 L177.06,621.13 L178.15,620.79 L179.24,620.44 L180.33,620.09 L181.42,619.74 L182.51,619.38 L183.60,619.03 L184.69,618.67 L185.78,618.30 L186.86,617.94 L187.95,617.57 L189.04,617.20 L190.13,616.82 L191.22,616.44 L192.31,616.07 L193.40,615.68 L194.49,615.30 L195.58,614.91 L196.67,614.52 L197.75,614.13 L198.84,613.74 L199.93,613.34 L201.02,612.94 L202.11,612.54 L203.20,612.14 L204.29,611.73 L205.38,611.32 L206.47,610.91 L207.56,610.50 L208.64,610.09 L209.73,609.67 L210.82,609.25 L211.91,608.83 L213.00,608.41 L214.09,607.99 L215.18,607.56 L216.27,607.13 L217.36,606.71 L218.44,606.28 L219.53,605.84 L220.62,605.41 L221.71,604.97 L222.80,604.54 L223.89,604.10 L224.98,603.66 L226.07,603.22 L227.16,602.78 L228.25,602.34 L229.33,601.89 L230.42,601.45 L231.51,601.00 L232.60,600.56 L233.69,600.11 L234.78,599.66 L235.87,599.21 L236.96,598.76 L238.05,598.31 L239.14,597.86 L240.22,597.40 L241.31,596.95 L242.40,596.50 L243.49,596.04 L244.58,595.59 L245.67,595.14 L246.76,594.68 L247.85,594.23 L248.94,593.77 L250.03,593.32 L251.11,592.86 L252.20,592.41 L253.29,591.95 L254.38,591.50 L255.47,591.04 L256.56,590.59 L257.65,590.13 L258.74,589.68 L259.83,589.23 L260.91,588.77 L262.00,588.32 L263.09,587.87 L264.18,587.42 L265.27,586.97 L266.36,586.52 L267.45,586.07 L268.54,585.62 L269.63,585.17 L270.72,584.73 L271.80,584.28 L272.89,583.84 L273.98,583.39 L275.07,582.95 L276.16,582.51 L277.25,582.07 L278.34,581.63 L279.43,581.19 L280.52,580.76 L281.61,580.32 L282.69,579.89 L283.78,579.46 L284.87,579.03 L285.96,578.60 L287.05,578.18 L288.14,577.75 L289.23,577.33 L290.32,576.91 L291.41,576.49 L292.49,576.08 L293.58,575.66 L294.67,575.25 L295.76,574.84 L296.85,574.43 L297.94,574.02 L299.03,573.62 L300.12,573.22 L301.21,572.82 L302.30,572.42 L303.38,572.02 L304.47,571.63 L305.56,571.24 L306.65,570.85 L307.74,570.47 L308.83,570.08 L309.92,569.70 L311.01,569.32 L312.10,568.95 L313.19,568.58 L314.27,568.21 L315.36,567.84 L316.45,567.48 L317.54,567.11 L318.63,566.75 L319.72,566.40 L320.81,566.05 L321.90,565.69 L322.99,565.35 L324.08,565.00 L325.16,564.66 L326.25,564.32 L327.34,563.99 L328.43,563.65 L329.52,563.32 L330.61,563.00 L331.70,562.67 L332.79,562.35 L333.88,562.04 L334.96,561.72 L336.05,561.41 L337.14,561.10 L338.23,560.80 L339.32,560.49 L340.41,560.20 L341.50,559.90 L342.59,559.61 L343.68,559.32 L344.77,559.03 L345.85,558.75 L346.94,558.47 L348.03,558.19 L349.12,557.92 L350.21,557.65 L351.30,557.38 L352.39,557.12 L353.48,556.86 L354.57,556.60 L355.66,556.35 L356.74,556.10 L357.83,555.85 L358.92,555.60 L360.01,555.36 L361.10,555.12 L362.19,554.89 L363.28,554.66 L364.37,554.43 L365.46,554.20 L366.54,553.98 L367.63,553.76 L368.72,553.55 L369.81,553.34 L370.90,553.13 L371.99,552.92 L373.08,552.72 L374.17,552.52 L375.26,552.32 L376.35,552.13 L377.43,551.94 L378.52,551.75 L379.61,551.56 L380.70,551.38 L381.79,551.20 L382.88,551.03 L383.97,550.86 L385.06,550.69 L386.15,550.52 L387.24,550.36 L388.32,550.20 L389.41,550.04 L390.50,549.89 L391.59,549.73 L392.68,549.59 L393.77,549.44 L394.86,549.30 L395.95,549.16 L397.04,549.02 L398.12,548.89 L399.21,548.75 L400.30,548.62 L401.39,548.50 L402.48,548.38 L403.57,548.26 L404.66,548.14 L405.75,548.02 L406.84,547.91 L407.93,547.80 L409.01,547.69 L410.10,547.59 L411.19,547.49 L412.28,547.39 L413.37,547.29 L414.46,547.20 L415.55,547.11 L416.64,547.02 L417.73,546.93 L418.82,546.85 L419.90,546.77 L420.99,546.69 L422.08,546.62 L423.17,546.54 L424.26,546.47 L425.35,546.40 L426.44,546.34 L427.53,546.27 L428.62,546.21 L429.71,546.15 L430.79,546.10 L431.88,546.04 L432.97,545.99 L434.06,545.94 L435.15,545.89" fill="none" stroke="#0b6594" stroke-width="5" stroke-linejoin="round"/>
<path d="M64.90,606.73 L65.99,606.73 L67.08,606.73 L68.17,606.72 L69.26,606.72 L70.34,606.71 L71.43,606.70 L72.52,606.69 L73.61,606.68 L74.70,606.67 L75.79,606.66 L76.88,606.64 L77.97,606.63 L79.06,606.61 L80.15,606.59 L81.23,606.57 L82.32,606.55 L83.41,606.52 L84.50,606.50 L85.59,606.47 L86.68,606.44 L87.77,606.41 L88.86,606.38 L89.95,606.35 L91.04,606.32 L92.12,606.28 L93.21,606.25 L94.30,606.21 L95.39,606.17 L96.48,606.13 L97.57,606.09 L98.66,606.04 L99.75,606.00 L100.84,605.95 L101.93,605.90 L103.01,605.85 L104.10,605.80 L105.19,605.75 L106.28,605.70 L107.37,605.64 L108.46,605.59 L109.55,605.53 L110.64,605.47 L111.73,605.41 L112.81,605.35 L113.90,605.28 L114.99,605.22 L116.08,605.15 L117.17,605.09 L118.26,605.02 L119.35,604.95 L120.44,604.87 L121.53,604.80 L122.62,604.73 L123.70,604.65 L124.79,604.57 L125.88,604.49 L126.97,604.41 L128.06,604.33 L129.15,604.25 L130.24,604.17 L131.33,604.08 L132.42,603.99 L133.51,603.91 L134.59,603.82 L135.68,603.73 L136.77,603.63 L137.86,603.54 L138.95,603.45 L140.04,603.35 L141.13,603.25 L142.22,603.15 L143.31,603.05 L144.39,602.95 L145.48,602.85 L146.57,602.74 L147.66,602.64 L148.75,602.53 L149.84,602.42 L150.93,602.32 L152.02,602.21 L153.11,602.09 L154.20,601.98 L155.28,601.87 L156.37,601.75 L157.46,601.63 L158.55,601.52 L159.64,601.40 L160.73,601.28 L161.82,601.16 L162.91,601.03 L164.00,600.91 L165.09,600.78 L166.17,600.66 L167.26,600.53 L168.35,600.40 L169.44,600.27 L170.53,600.14 L171.62,600.01 L172.71,599.88 L173.80,599.74 L174.89,599.61 L175.98,599.47 L177.06,599.33 L178.15,599.19 L179.24,599.05 L180.33,598.91 L181.42,598.77 L182.51,598.63 L183.60,598.48 L184.69,598.34 L185.78,598.19 L186.86,598.05 L187.95,597.90 L189.04,597.75 L190.13,597.60 L191.22,597.45 L192.31,597.30 L193.40,597.15 L194.49,596.99 L195.58,596.84 L196.67,596.68 L197.75,596.53 L198.84,596.37 L199.93,596.21 L201.02,596.05 L202.11,595.89 L203.20,595.73 L204.29,595.57 L205.38,595.41 L206.47,595.25 L207.56,595.09 L208.64,594.92 L209.73,594.76 L210.82,594.59 L211.91,594.43 L213.00,594.26 L214.09,594.09 L215.18,593.92 L216.27,593.76 L217.36,593.59 L218.44,593.42 L219.53,593.25 L220.62,593.08 L221.71,592.90 L222.80,592.73 L223.89,592.56 L224.98,592.39 L226.07,592.21 L227.16,592.04 L228.25,591.87 L229.33,591.69 L230.42,591.52 L231.51,591.34 L232.60,591.17 L233.69,590.99 L234.78,590.81 L235.87,590.64 L236.96,590.46 L238.05,590.28 L239.14,590.11 L240.22,589.93 L241.31,589.75 L242.40,589.57 L243.49,589.39 L244.58,589.22 L245.67,589.04 L246.76,588.86 L247.85,588.68 L248.94,588.50 L250.03,588.32 L251.11,588.14 L252.20,587.96 L253.29,587.78 L254.38,587.60 L255.47,587.43 L256.56,587.25 L257.65,587.07 L258.74,586.89 L259.83,586.71 L260.91,586.53 L262.00,586.35 L263.09,586.17 L264.18,586.00 L265.27,585.82 L266.36,585.64 L267.45,585.46 L268.54,585.28 L269.63,585.11 L270.72,584.93 L271.80,584.75 L272.89,584.58 L273.98,584.40 L275.07,584.23 L276.16,584.05 L277.25,583.88 L278.34,583.70 L279.43,583.53 L280.52,583.35 L281.61,583.18 L282.69,583.01 L283.78,582.83 L284.87,582.66 L285.96,582.49 L287.05,582.32 L288.14,582.15 L289.23,581.98 L290.32,581.81 L291.41,581.64 L292.49,581.47 L293.58,581.31 L294.67,581.14 L295.76,580.97 L296.85,580.81 L297.94,580.64 L299.03,580.48 L300.12,580.31 L301.21,580.15 L302.30,579.99 L303.38,579.83 L304.47,579.67 L305.56,579.51 L306.65,579.35 L307.74,579.19 L308.83,579.03 L309.92,578.88 L311.01,578.72 L312.10,578.57 L313.19,578.41 L314.27,578.26 L315.36,578.11 L316.45,577.96 L317.54,577.81 L318.63,577.66 L319.72,577.51 L320.81,577.36 L321.90,577.21 L322.99,577.07 L324.08,576.92 L325.16,576.78 L326.25,576.64 L327.34,576.49 L328.43,576.35 L329.52,576.21 L330.61,576.08 L331.70,575.94 L332.79,575.80 L333.88,575.67 L334.96,575.53 L336.05,575.40 L337.14,575.27 L338.23,575.13 L339.32,575.00 L340.41,574.87 L341.50,574.75 L342.59,574.62 L343.68,574.49 L344.77,574.37 L345.85,574.25 L346.94,574.12 L348.03,574.00 L349.12,573.88 L350.21,573.76 L351.30,573.65 L352.39,573.53 L353.48,573.41 L354.57,573.30 L355.66,573.19 L356.74,573.07 L357.83,572.96 L358.92,572.85 L360.01,572.75 L361.10,572.64 L362.19,572.53 L363.28,572.43 L364.37,572.32 L365.46,572.22 L366.54,572.12 L367.63,572.02 L368.72,571.92 L369.81,571.82 L370.90,571.73 L371.99,571.63 L373.08,571.54 L374.17,571.45 L375.26,571.35 L376.35,571.26 L377.43,571.18 L378.52,571.09 L379.61,571.00 L380.70,570.92 L381.79,570.83 L382.88,570.75 L383.97,570.67 L385.06,570.59 L386.15,570.51 L387.24,570.43 L388.32,570.35 L389.41,570.28 L390.50,570.20 L391.59,570.13 L392.68,570.06 L393.77,569.99 L394.86,569.92 L395.95,569.85 L397.04,569.79 L398.12,569.72 L399.21,569.66 L400.30,569.59 L401.39,569.53 L402.48,569.47 L403.57,569.41 L404.66,569.35 L405.75,569.30 L406.84,569.24 L407.93,569.19 L409.01,569.13 L410.10,569.08 L411.19,569.03 L412.28,568.98 L413.37,568.93 L414.46,568.88 L415.55,568.84 L416.64,568.79 L417.73,568.75 L418.82,568.71 L419.90,568.67 L420.99,568.63 L422.08,568.59 L423.17,568.55 L424.26,568.51 L425.35,568.48 L426.44,568.44 L427.53,568.41 L428.62,568.38 L429.71,568.35 L430.79,568.32 L431.88,568.29 L432.97,568.27 L434.06,568.24 L435.15,568.22" fill="none" stroke="#0b6594" stroke-width="6.6" stroke-linejoin="round"/>
<path d="M239.14,564.2V573M235.64,564.2h7M235.64,573h7" stroke="#1f1a1a" stroke-width="1.1" fill="none"/>
<path d="M391.59,400V408M388.09,400h7M388.09,408h7" stroke="#1f1a1a" stroke-width="1.1" fill="none"/>
<path d="M64.9,395V412M61.4,395h7M61.4,412h7" stroke="#1f1a1a" stroke-width="1.1" fill="none"/>
<circle cx="64.9" cy="398.8" r="5.2" fill="#2a1d1d"/>
<circle cx="64.9" cy="635.7" r="5.2" fill="#2a1d1d"/>
<rect x="60.9" y="400.5" width="8" height="8" fill="#1c1616"/>
<rect x="62.4" y="401.9" width="5" height="1.7" fill="#fff"/><rect x="62.4" y="405.4" width="5" height="1.7" fill="#fff"/>
<rect x="60.9" y="405.5" width="8" height="8" fill="#1c1616"/>
<rect x="62.4" y="406.9" width="5" height="1.7" fill="#fff"/><rect x="62.4" y="410.4" width="5" height="1.7" fill="#fff"/>
<circle cx="108.46" cy="400" r="5.2" fill="#2a1d1d"/>
<circle cx="108.46" cy="404.5" r="5.2" fill="#2a1d1d"/>
<circle cx="108.46" cy="627.3" r="5.2" fill="#2a1d1d"/>
<circle cx="108.46" cy="637.3" r="5.2" fill="#2a1d1d"/>
<rect x="104.46" y="605.2" width="8" height="8" fill="#1c1616"/>
<rect x="105.96" y="606.6" width="5" height="1.7" fill="#fff"/><rect x="105.96" y="610.1" width="5" height="1.7" fill="#fff"/>
<rect x="104.46" y="625.2" width="8" height="8" fill="#1c1616"/>
<rect x="105.96" y="626.6" width="5" height="1.7" fill="#fff"/><rect x="105.96" y="630.1" width="5" height="1.7" fill="#fff"/>
<circle cx="152.02" cy="400" r="5.2" fill="#2a1d1d"/>
<circle cx="152.02" cy="622.7" r="5.2" fill="#2a1d1d"/>
<circle cx="152.02" cy="629" r="5.2" fill="#2a1d1d"/>
<circle cx="152.02" cy="636.5" r="5.2" fill="#2a1d1d"/>
<rect x="148.02" y="400.2" width="8" height="8" fill="#1c1616"/>
<rect x="149.52" y="401.6" width="5" height="1.7" fill="#fff"/><rect x="149.52" y="405.1" width="5" height="1.7" fill="#fff"/>
<rect x="148.02" y="406.5" width="8" height="8" fill="#1c1616"/>
<rect x="149.52" y="407.9" width="5" height="1.7" fill="#fff"/><rect x="149.52" y="411.4" width="5" height="1.7" fill="#fff"/>
<rect x="148.02" y="609" width="8" height="8" fill="#1c1616"/>
<rect x="149.52" y="610.4" width="5" height="1.7" fill="#fff"/><rect x="149.52" y="613.9" width="5" height="1.7" fill="#fff"/>
<rect x="148.02" y="578.9" width="8" height="8" fill="#1c1616"/>
<rect x="149.52" y="580.3" width="5" height="1.7" fill="#fff"/><rect x="149.52" y="583.8" width="5" height="1.7" fill="#fff"/>
<circle cx="195.58" cy="401" r="5.2" fill="#2a1d1d"/>
<circle cx="195.58" cy="600.6" r="5.2" fill="#2a1d1d"/>
<circle cx="195.58" cy="606.6" r="5.2" fill="#2a1d1d"/>
<circle cx="195.58" cy="628.3" r="5.2" fill="#2a1d1d"/>
<rect x="191.58" y="401.2" width="8" height="8" fill="#1c1616"/>
<rect x="193.08" y="402.6" width="5" height="1.7" fill="#fff"/><rect x="193.08" y="406.1" width="5" height="1.7" fill="#fff"/>
<rect x="191.58" y="407.5" width="8" height="8" fill="#1c1616"/>
<rect x="193.08" y="408.9" width="5" height="1.7" fill="#fff"/><rect x="193.08" y="412.4" width="5" height="1.7" fill="#fff"/>
<rect x="191.58" y="562.3" width="8" height="8" fill="#1c1616"/>
<rect x="193.08" y="563.7" width="5" height="1.7" fill="#fff"/><rect x="193.08" y="567.2" width="5" height="1.7" fill="#fff"/>
<rect x="191.58" y="589.9" width="8" height="8" fill="#1c1616"/>
<rect x="193.08" y="591.3" width="5" height="1.7" fill="#fff"/><rect x="193.08" y="594.8" width="5" height="1.7" fill="#fff"/>
<rect x="191.58" y="605" width="8" height="8" fill="#1c1616"/>
<rect x="193.08" y="606.4" width="5" height="1.7" fill="#fff"/><rect x="193.08" y="609.9" width="5" height="1.7" fill="#fff"/>
<circle cx="239.14" cy="403.8" r="5.2" fill="#2a1d1d"/>
<circle cx="239.14" cy="574" r="5.2" fill="#2a1d1d"/>
<circle cx="239.14" cy="580" r="5.2" fill="#2a1d1d"/>
<circle cx="239.14" cy="587" r="5.2" fill="#2a1d1d"/>
<circle cx="239.14" cy="619" r="5.2" fill="#2a1d1d"/>
<rect x="235.14" y="404.5" width="8" height="8" fill="#1c1616"/>
<rect x="236.64" y="405.9" width="5" height="1.7" fill="#fff"/><rect x="236.64" y="409.4" width="5" height="1.7" fill="#fff"/>
<rect x="235.14" y="413" width="8" height="8" fill="#1c1616"/>
<rect x="236.64" y="414.4" width="5" height="1.7" fill="#fff"/><rect x="236.64" y="417.9" width="5" height="1.7" fill="#fff"/>
<rect x="235.14" y="542.6" width="8" height="8" fill="#1c1616"/>
<rect x="236.64" y="544" width="5" height="1.7" fill="#fff"/><rect x="236.64" y="547.5" width="5" height="1.7" fill="#fff"/>
<rect x="235.14" y="569" width="8" height="8" fill="#1c1616"/>
<rect x="236.64" y="570.4" width="5" height="1.7" fill="#fff"/><rect x="236.64" y="573.9" width="5" height="1.7" fill="#fff"/>
<rect x="235.14" y="582.8" width="8" height="8" fill="#1c1616"/>
<rect x="236.64" y="584.2" width="5" height="1.7" fill="#fff"/><rect x="236.64" y="587.7" width="5" height="1.7" fill="#fff"/>
<rect x="235.14" y="615.3" width="8" height="8" fill="#1c1616"/>
<rect x="236.64" y="616.7" width="5" height="1.7" fill="#fff"/><rect x="236.64" y="620.2" width="5" height="1.7" fill="#fff"/>
<circle cx="282.69" cy="403.8" r="5.2" fill="#2a1d1d"/>
<circle cx="282.69" cy="421.5" r="5.2" fill="#2a1d1d"/>
<circle cx="282.69" cy="519.5" r="5.2" fill="#2a1d1d"/>
<circle cx="282.69" cy="557.5" r="5.2" fill="#2a1d1d"/>
<circle cx="282.69" cy="563" r="5.2" fill="#2a1d1d"/>
<circle cx="282.69" cy="571.5" r="5.2" fill="#2a1d1d"/>
<circle cx="282.69" cy="608.6" r="5.2" fill="#2a1d1d"/>
<rect x="278.69" y="406.3" width="8" height="8" fill="#1c1616"/>
<rect x="280.19" y="407.7" width="5" height="1.7" fill="#fff"/><rect x="280.19" y="411.2" width="5" height="1.7" fill="#fff"/>
<rect x="278.69" y="415.6" width="8" height="8" fill="#1c1616"/>
<rect x="280.19" y="417" width="5" height="1.7" fill="#fff"/><rect x="280.19" y="420.5" width="5" height="1.7" fill="#fff"/>
<rect x="278.69" y="528.8" width="8" height="8" fill="#1c1616"/>
<rect x="280.19" y="530.2" width="5" height="1.7" fill="#fff"/><rect x="280.19" y="533.7" width="5" height="1.7" fill="#fff"/>
<rect x="278.69" y="551.8" width="8" height="8" fill="#1c1616"/>
<rect x="280.19" y="553.2" width="5" height="1.7" fill="#fff"/><rect x="280.19" y="556.7" width="5" height="1.7" fill="#fff"/>
<rect x="278.69" y="564.4" width="8" height="8" fill="#1c1616"/>
<rect x="280.19" y="565.8" width="5" height="1.7" fill="#fff"/><rect x="280.19" y="569.3" width="5" height="1.7" fill="#fff"/>
<rect x="278.69" y="592.5" width="8" height="8" fill="#1c1616"/>
<rect x="280.19" y="593.9" width="5" height="1.7" fill="#fff"/><rect x="280.19" y="597.4" width="5" height="1.7" fill="#fff"/>
<rect x="278.69" y="612.4" width="8" height="8" fill="#1c1616"/>
<rect x="280.19" y="613.8" width="5" height="1.7" fill="#fff"/><rect x="280.19" y="617.3" width="5" height="1.7" fill="#fff"/>
<circle cx="326.25" cy="405" r="5.2" fill="#2a1d1d"/>
<circle cx="326.25" cy="423.8" r="5.2" fill="#2a1d1d"/>
<circle cx="326.25" cy="516" r="5.2" fill="#2a1d1d"/>
<circle cx="326.25" cy="522" r="5.2" fill="#2a1d1d"/>
<circle cx="326.25" cy="528" r="5.2" fill="#2a1d1d"/>
<circle cx="326.25" cy="534" r="5.2" fill="#2a1d1d"/>
<circle cx="326.25" cy="552.6" r="5.2" fill="#2a1d1d"/>
<circle cx="326.25" cy="600.6" r="5.2" fill="#2a1d1d"/>
<rect x="322.25" y="409.5" width="8" height="8" fill="#1c1616"/>
<rect x="323.75" y="410.9" width="5" height="1.7" fill="#fff"/><rect x="323.75" y="414.4" width="5" height="1.7" fill="#fff"/>
<rect x="322.25" y="419.6" width="8" height="8" fill="#1c1616"/>
<rect x="323.75" y="421" width="5" height="1.7" fill="#fff"/><rect x="323.75" y="424.5" width="5" height="1.7" fill="#fff"/>
<rect x="322.25" y="512" width="8" height="8" fill="#1c1616"/>
<rect x="323.75" y="513.4" width="5" height="1.7" fill="#fff"/><rect x="323.75" y="516.9" width="5" height="1.7" fill="#fff"/>
<rect x="322.25" y="536" width="8" height="8" fill="#1c1616"/>
<rect x="323.75" y="537.4" width="5" height="1.7" fill="#fff"/><rect x="323.75" y="540.9" width="5" height="1.7" fill="#fff"/>
<rect x="322.25" y="545" width="8" height="8" fill="#1c1616"/>
<rect x="323.75" y="546.4" width="5" height="1.7" fill="#fff"/><rect x="323.75" y="549.9" width="5" height="1.7" fill="#fff"/>
<rect x="322.25" y="579.1" width="8" height="8" fill="#1c1616"/>
<rect x="323.75" y="580.5" width="5" height="1.7" fill="#fff"/><rect x="323.75" y="584" width="5" height="1.7" fill="#fff"/>
<rect x="322.25" y="604.7" width="8" height="8" fill="#1c1616"/>
<rect x="323.75" y="606.1" width="5" height="1.7" fill="#fff"/><rect x="323.75" y="609.6" width="5" height="1.7" fill="#fff"/>
<circle cx="369.81" cy="404.2" r="5.2" fill="#2a1d1d"/>
<circle cx="369.81" cy="420.6" r="5.2" fill="#2a1d1d"/>
<circle cx="369.81" cy="425" r="5.2" fill="#2a1d1d"/>
<circle cx="369.81" cy="515" r="5.2" fill="#2a1d1d"/>
<circle cx="369.81" cy="522" r="5.2" fill="#2a1d1d"/>
<circle cx="369.81" cy="530" r="5.2" fill="#2a1d1d"/>
<circle cx="369.81" cy="538" r="5.2" fill="#2a1d1d"/>
<circle cx="369.81" cy="543.8" r="5.2" fill="#2a1d1d"/>
<rect x="365.81" y="408.9" width="8" height="8" fill="#1c1616"/>
<rect x="367.31" y="410.3" width="5" height="1.7" fill="#fff"/><rect x="367.31" y="413.8" width="5" height="1.7" fill="#fff"/>
<rect x="365.81" y="420.4" width="8" height="8" fill="#1c1616"/>
<rect x="367.31" y="421.8" width="5" height="1.7" fill="#fff"/><rect x="367.31" y="425.3" width="5" height="1.7" fill="#fff"/>
<rect x="365.81" y="505" width="8" height="8" fill="#1c1616"/>
<rect x="367.31" y="506.4" width="5" height="1.7" fill="#fff"/><rect x="367.31" y="509.9" width="5" height="1.7" fill="#fff"/>
<rect x="365.81" y="512" width="8" height="8" fill="#1c1616"/>
<rect x="367.31" y="513.4" width="5" height="1.7" fill="#fff"/><rect x="367.31" y="516.9" width="5" height="1.7" fill="#fff"/>
<rect x="365.81" y="525.4" width="8" height="8" fill="#1c1616"/>
<rect x="367.31" y="526.8" width="5" height="1.7" fill="#fff"/><rect x="367.31" y="530.3" width="5" height="1.7" fill="#fff"/>
<rect x="365.81" y="533.2" width="8" height="8" fill="#1c1616"/>
<rect x="367.31" y="534.6" width="5" height="1.7" fill="#fff"/><rect x="367.31" y="538.1" width="5" height="1.7" fill="#fff"/>
<circle cx="391.59" cy="407.1" r="5.2" fill="#2a1d1d"/>
<circle cx="391.59" cy="514.2" r="5.2" fill="#2a1d1d"/>
<circle cx="391.59" cy="529" r="5.2" fill="#2a1d1d"/>
<rect x="387.59" y="417.5" width="8" height="8" fill="#1c1616"/>
<rect x="389.09" y="418.9" width="5" height="1.7" fill="#fff"/><rect x="389.09" y="422.4" width="5" height="1.7" fill="#fff"/>
<rect x="387.59" y="421.4" width="8" height="8" fill="#1c1616"/>
<rect x="389.09" y="422.8" width="5" height="1.7" fill="#fff"/><rect x="389.09" y="426.3" width="5" height="1.7" fill="#fff"/>
<rect x="387.59" y="510.2" width="8" height="8" fill="#1c1616"/>
<rect x="389.09" y="511.6" width="5" height="1.7" fill="#fff"/><rect x="389.09" y="515.1" width="5" height="1.7" fill="#fff"/>
<rect x="387.59" y="525" width="8" height="8" fill="#1c1616"/>
<rect x="389.09" y="526.4" width="5" height="1.7" fill="#fff"/><rect x="389.09" y="529.9" width="5" height="1.7" fill="#fff"/>
<circle cx="413.37" cy="415.8" r="5.2" fill="#2a1d1d"/>
<circle cx="413.37" cy="427" r="5.2" fill="#2a1d1d"/>
<circle cx="413.37" cy="518" r="5.2" fill="#2a1d1d"/>
<circle cx="413.37" cy="526" r="5.2" fill="#2a1d1d"/>
<circle cx="413.37" cy="535" r="5.2" fill="#2a1d1d"/>
<rect x="409.37" y="419.9" width="8" height="8" fill="#1c1616"/>
<rect x="410.87" y="421.3" width="5" height="1.7" fill="#fff"/><rect x="410.87" y="424.8" width="5" height="1.7" fill="#fff"/>
<rect x="409.37" y="511.5" width="8" height="8" fill="#1c1616"/>
<rect x="410.87" y="512.9" width="5" height="1.7" fill="#fff"/><rect x="410.87" y="516.4" width="5" height="1.7" fill="#fff"/>
<rect x="409.37" y="523.2" width="8" height="8" fill="#1c1616"/>
<rect x="410.87" y="524.6" width="5" height="1.7" fill="#fff"/><rect x="410.87" y="528.1" width="5" height="1.7" fill="#fff"/>
</g>
<rect x="64.9" y="371.1" width="370.25" height="294.4" fill="none" stroke="#3a3a3a" stroke-width="1.5"/>
<path d="M108.46,665.5v-4M108.46,371.1v4M152.02,665.5v-4M152.02,371.1v4M195.58,665.5v-4M195.58,371.1v4M239.14,665.5v-4M239.14,371.1v4M282.69,665.5v-4M282.69,371.1v4M326.25,665.5v-4M326.25,371.1v4M369.81,665.5v-4M369.81,371.1v4M413.37,665.5v-4M413.37,371.1v4M64.9,636.06h4M64.9,606.62h4M64.9,577.18h4M64.9,547.74h4M64.9,518.3h4M64.9,488.86h4M64.9,459.42h4M64.9,429.98h4M64.9,400.54h4M435.15,658.7h-4M435.15,628.1h-4M435.15,597.5h-4M435.15,566.9h-4M435.15,536.3h-4M435.15,505.7h-4M435.15,475.1h-4M435.15,444.5h-4M435.15,413.9h-4M435.15,383.3h-4" stroke="#3a3a3a" stroke-width="1.3" fill="none"/>
<text x="63.2" y="406.05" font-size="26" text-anchor="end">30</text>
<text x="63.2" y="466.7" font-size="26" text-anchor="end">26</text>
<text x="63.2" y="525.3" font-size="26" text-anchor="end">22</text>
<text x="63.2" y="583.9" font-size="26" text-anchor="end">18</text>
<text x="63.2" y="642.5" font-size="26" text-anchor="end">14</text>
<text x="437.3" y="389.2" font-size="26" text-anchor="start">3000</text>
<text x="437.3" y="452.1" font-size="26" text-anchor="start">2600</text>
<text x="437.3" y="512.5" font-size="26" text-anchor="start">2200</text>
<text x="437.3" y="573.2" font-size="26" text-anchor="start">1800</text>
<text x="437.3" y="633.8" font-size="26" text-anchor="start">1400</text>
<text x="68.3" y="686.5" font-size="26" text-anchor="middle">0</text>
<text x="151.95" y="686.5" font-size="26" text-anchor="middle">20</text>
<text x="241.6" y="686.5" font-size="26" text-anchor="middle">40</text>
<text x="327.9" y="686.5" font-size="26" text-anchor="middle">60</text>
<text x="414.2" y="686.5" font-size="26" text-anchor="middle">80</text>
<text x="168" y="710.4" font-size="25.8">Absolute tilt (<tspan font-size="15" dy="-7.6">o</tspan><tspan dy="7.6">)</tspan></text>
<text transform="translate(27,634.3) rotate(-90)" font-size="26">Brillouin shift (GHz)</text>
<text transform="translate(510.8,620.4) rotate(-90)" font-size="26.2">Sound Velocity (m/s)</text>
<text x="1.4" y="378.3" font-size="26" font-weight="bold">B</text>
<rect x="81.5" y="456.8" width="139.3" height="73.9" fill="#fff" stroke="#3a3a3a" stroke-width="1.2"/>
<path d="M84.9,470H119.2" stroke="#10b0e0" stroke-width="4.2"/>
<path d="M84.9,484.6H119.2" stroke="#0b6594" stroke-width="4.4"/>
<path d="M101.8,497.5V508.2M98.1,497.5h7.5M98.1,508.2h7.5" stroke="#1f1a1a" stroke-width="1.1"/>
<circle cx="101.8" cy="502.4" r="3.75" fill="#1f1a1a"/>
<path d="M101.8,517.1V527.5M98.3,517.1h7M98.3,527.5h7" stroke="#1f1a1a" stroke-width="1.1"/>
<rect x="98.8" y="519" width="6.4" height="6.4" fill="#fff" stroke="#1f1a1a" stroke-width="1.3"/>
<text x="122.6" y="474" font-size="21.6" text-anchor="start">yz plane</text>
<text x="122.6" y="488.4" font-size="21.6" text-anchor="start">xz plane</text>
<text x="122.6" y="509" font-size="21.6" text-anchor="start">Horizontal</text>
<text x="122.6" y="525.9" font-size="21.6" text-anchor="start">Vertical</text>
</svg></body></html>
